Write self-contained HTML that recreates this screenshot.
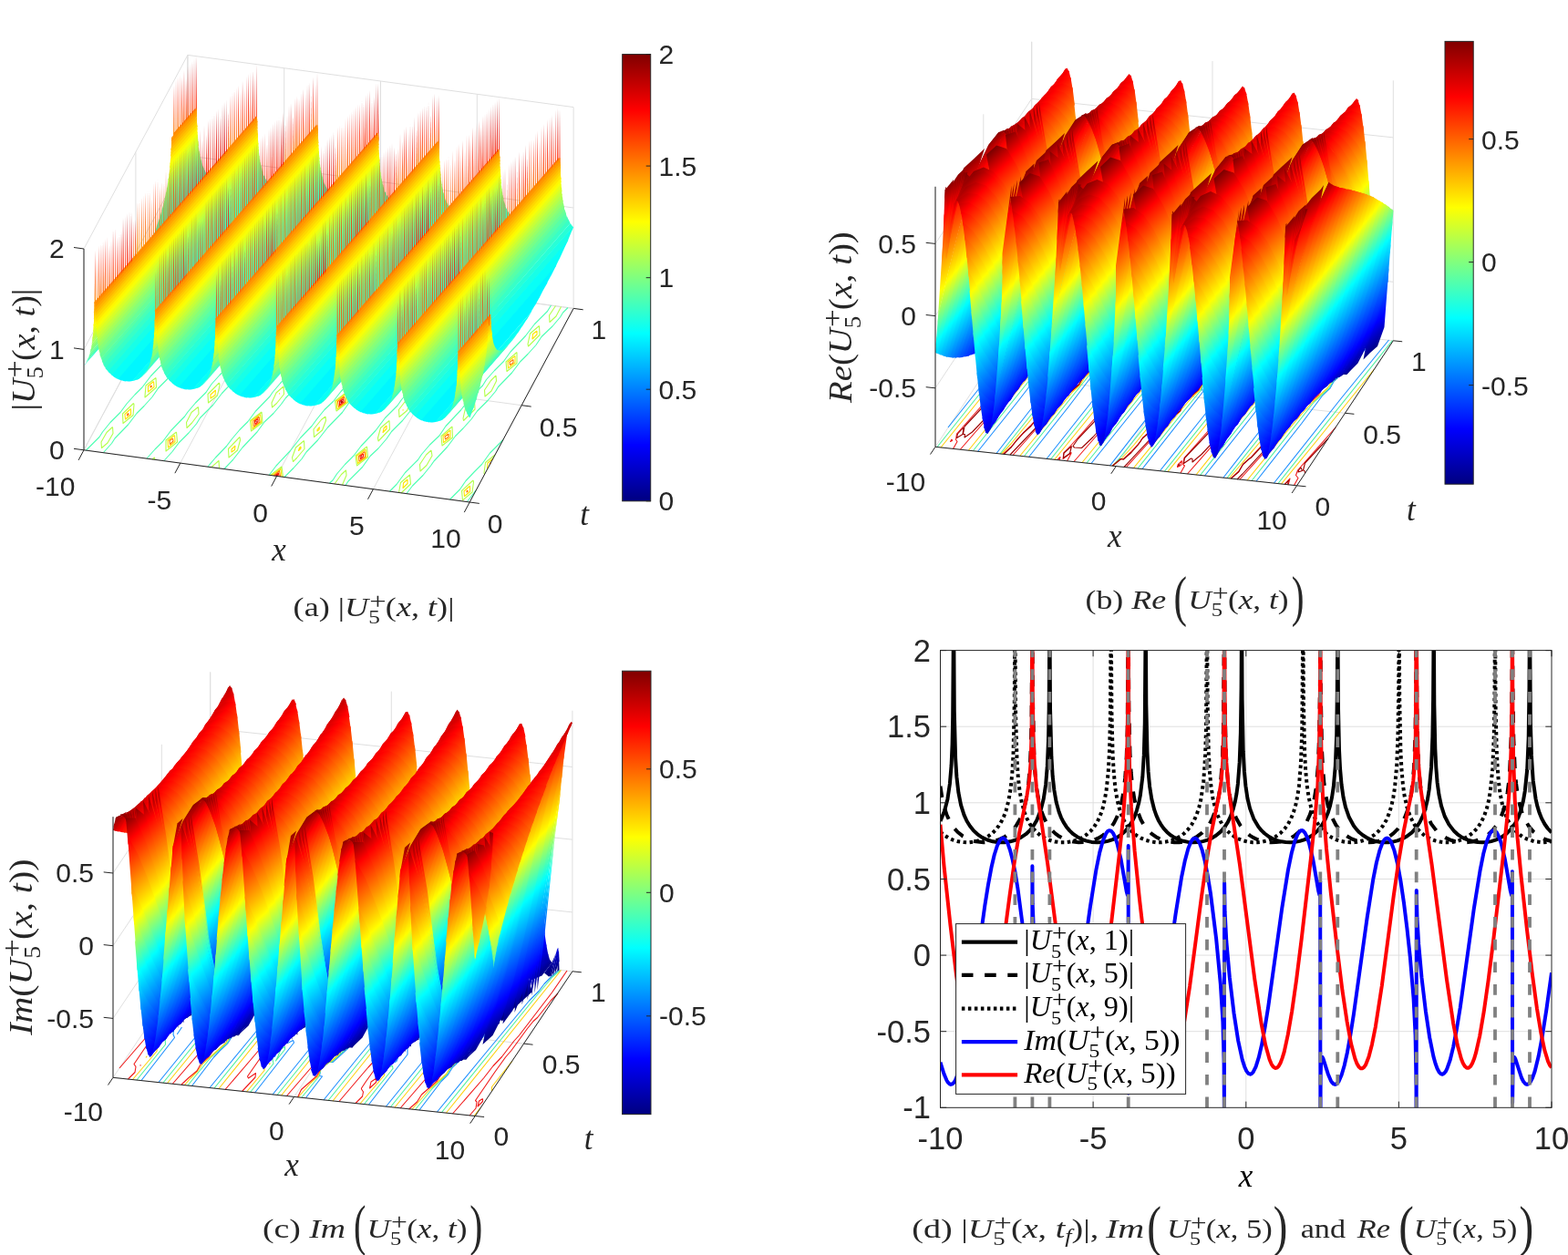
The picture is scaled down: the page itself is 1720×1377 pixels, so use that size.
<!DOCTYPE html><html><head><meta charset="utf-8"><style>html,body{margin:0;padding:0;background:#fff;overflow:hidden}svg{display:block}</style></head><body><svg width="1720" height="1377" viewBox="0 0 1720 1377"><defs><linearGradient id="sp0" x2="0" y2="1"><stop offset="0" stop-color="#ff5800"/><stop offset="0.2" stop-color="#ff6f00"/><stop offset="0.5" stop-color="#ff8500"/><stop offset="0.8" stop-color="#ff9c00"/><stop offset="1" stop-color="#ffb300"/></linearGradient><linearGradient id="sp1" x2="0" y2="1"><stop offset="0" stop-color="#ff1600"/><stop offset="0.2" stop-color="#ff3d00"/><stop offset="0.5" stop-color="#ff6400"/><stop offset="0.8" stop-color="#ff8b00"/><stop offset="1" stop-color="#ffb300"/></linearGradient><linearGradient id="sp2" x2="0" y2="1"><stop offset="0" stop-color="#d20000"/><stop offset="0.2" stop-color="#ff0b00"/><stop offset="0.5" stop-color="#ff4300"/><stop offset="0.8" stop-color="#ff7b00"/><stop offset="1" stop-color="#ffb300"/></linearGradient><linearGradient id="sp3" x2="0" y2="1"><stop offset="0" stop-color="#900000"/><stop offset="0.2" stop-color="#d80000"/><stop offset="0.5" stop-color="#ff2200"/><stop offset="0.8" stop-color="#ff6a00"/><stop offset="1" stop-color="#ffb300"/></linearGradient><linearGradient id="zre" gradientUnits="userSpaceOnUse" x2="284.1" y2="307.5"><stop offset="0" stop-color="#800000"/><stop offset="0.1" stop-color="#ff0000"/><stop offset="0.4" stop-color="#ffff00"/><stop offset="0.6" stop-color="#00ffff"/><stop offset="0.9" stop-color="#0000ff"/><stop offset="1" stop-color="#000080"/></linearGradient><linearGradient id="zim" gradientUnits="userSpaceOnUse" x2="285" y2="311.1"><stop offset="0" stop-color="#800000"/><stop offset="0.1" stop-color="#ff0000"/><stop offset="0.4" stop-color="#ffff00"/><stop offset="0.6" stop-color="#00ffff"/><stop offset="0.9" stop-color="#0000ff"/><stop offset="1" stop-color="#000080"/></linearGradient></defs><rect width="100%" height="100%" fill="#fff"/>
<g><path d="M92 493.8L205.9 281.2" stroke="#dfdfdf" stroke-width="1.0"/><path d="M197.8 508.1L311.7 295.5" stroke="#dfdfdf" stroke-width="1.0"/><path d="M303.6 522.4L417.5 309.8" stroke="#dfdfdf" stroke-width="1.0"/><path d="M409.4 536.7L523.3 324.1" stroke="#dfdfdf" stroke-width="1.0"/><path d="M515.2 551L629.1 338.4" stroke="#dfdfdf" stroke-width="1.0"/><path d="M92 493.8L515.2 551" stroke="#dfdfdf" stroke-width="1.0"/><path d="M148.9 387.5L572.2 444.7" stroke="#dfdfdf" stroke-width="1.0"/><path d="M205.9 281.2L629.1 338.4" stroke="#dfdfdf" stroke-width="1.0"/><path d="M205.9 281.2L205.9 60.4" stroke="#dfdfdf" stroke-width="1.0"/><path d="M311.7 295.5L311.7 74.7" stroke="#dfdfdf" stroke-width="1.0"/><path d="M417.5 309.8L417.5 89" stroke="#dfdfdf" stroke-width="1.0"/><path d="M523.3 324.1L523.3 103.3" stroke="#dfdfdf" stroke-width="1.0"/><path d="M629.1 338.4L629.1 117.6" stroke="#dfdfdf" stroke-width="1.0"/><path d="M205.9 281.2L629.1 338.4" stroke="#dfdfdf" stroke-width="1.0"/><path d="M205.9 170.8L629.1 228" stroke="#dfdfdf" stroke-width="1.0"/><path d="M205.9 60.4L629.1 117.6" stroke="#dfdfdf" stroke-width="1.0"/><path d="M92 493.8L92 273" stroke="#dfdfdf" stroke-width="1.0"/><path d="M148.9 387.5L148.9 166.7" stroke="#dfdfdf" stroke-width="1.0"/><path d="M205.9 281.2L205.9 60.4" stroke="#dfdfdf" stroke-width="1.0"/><path d="M92 493.8L205.9 281.2" stroke="#dfdfdf" stroke-width="1.0"/><path d="M92 383.4L205.9 170.8" stroke="#dfdfdf" stroke-width="1.0"/><path d="M92 273L205.9 60.4" stroke="#dfdfdf" stroke-width="1.0"/></g>
<g transform="scale(0.5)"><g fill="none" stroke-width="2.2" stroke-linejoin="round"><path d="M547 581l-21 20-17 20-8 11-28 30-19 25-16 16-18 20-14 19-22 22-17 20-8 12-28 29-19 25-16 16-18 20-14 19-22 22-17 21-7 11-29 29M227 993l18-20 7-11 29-30 19-25 16-16 18-20 13-19 22-22 18-20 7-11 29-30 19-25 16-16 18-20 13-19 22-22 17-20 8-12 29-29 16-21M678 598l-19 21-18 24-17 17-18 20-12 18-24 23-17 20-6 10-30 31-18 24-17 17-18 20-12 18-23 23-17 20-7 10-30 31-18 24-17 17-18 20M360 1011l18-20 15-20 21-21 17-20 8-13 28-28 20-26 33-35 15-21 20-20 18-20 8-13 28-28 20-26 33-35 15-21 20-20 18-21M810 616l-18 21-11 16-24 24-17 21-6 9-31 32-17 23-18 17-18 21-11 16-24 25-17 20-6 9-31 32-17 23-18 18-17 20-12 16-24 25-17 20M492 1029l19-20 21-27 32-34 16-22 20-19 17-20 10-14 26-27 21-27 32-34 16-22 20-19 17-21 10-13 26-27 21-28 32-34M943 634l-22 28-31 33-17 23-19 18-17 21-11 15-25 25-22 29-31 33-17 22-19 18-17 21-11 15-25 26-22 28-31 33-16 21M624 1047l20-20 18-20 10-15 25-26 22-28 32-33 16-23 19-18 17-21 11-15 25-25 22-29 31-33 17-22 19-18 17-21 11-15 25-26M1076 652l-16 22-20 19-17 20-10 14-26 27-21 27-32 34-16 22-19 19-18 21-9 13-27 27-21 28-32 34-16 21-19 19-18 21-9 14-7 6M758 1065l6-9 31-31 17-24 18-17 18-21 11-16 24-24 17-21 6-9 31-32 17-23 18-18 18-20 11-16 24-25 17-20 6-9 31-32 17-23 18-18M1209 670l-8 13-28 28-20 26-33 35-15 21-20 20-18 20-8 13-28 28-20 26-33 35-14 21-21 20-18 21-8 12-28 28-19 26-15 15M892 1083l13-17 23-23 17-21 7-10 29-31 18-24 17-17 18-20 13-18 23-23 17-20 6-10 30-31 18-24 17-17 18-20 12-18 24-23 17-20 6-10 11-11M1104 965l-29 29-18 25-16 16-19 20-13 19-22 22M1025 1101l19-25M349 680l29-31 18-24 17-17 18-20 16-21M412 562l-3 6" stroke="#4dffb2"/><path d="M247 937l-13 12-12 21 1 13 13-11 12-21-1-14M340 1009l-1-5-5 4M387 948l-23 18 0 24 25-20-2-22M481 1028l-1-17-16 14M621 1047l-3-23-25 19M751 1064l9-21-1-11-10 9-15 21M880 1082l21-20-2-20-20 17-4 22M1038 1054l-25 23 2 21 21-18 3-22-1-4M526 959l-25 26 1 19 19-16 6-22-1-7M667 967l-18 15-8 22 2 9 8-8 17-20-1-18M805 980l-25 20 3 22 24-19-2-23M946 988l-11 10-14 21 1 15 14-13 12-21-2-12M1086 998l-21 17-3 23 1 3M293 885l-24 23 1 21 22-18 2-23-1-3M435 893l-15 12-11 22 1 12 11-11 15-20-1-15M574 904l-25 19 2 23 25-19-2-23M714 914l-9 7-17 21 1 17 18-15 8-21-1-9M854 923l-19 16-6 22 1 7 25-26-1-19M342 829l-22 17-2 23 0 3 25-22-1-21M992 936l-24 21 2 21 23-18-1-24M481 840l-25 25 1 19 20-16 5-23-1-5M622 848l-16 14-10 22 1 10 10-9 16-20-1-17M760 861l-25 19 3 22 25-19-3-22M901 869l-10 9-16 21 1 16 17-14 9-22-1-10M1041 879l-20 17-5 22 1 5 25-25-1-19M389 774l-13 12-13 21 1 13 14-11 12-22-1-13M529 785l-23 18 0 24 25-21-2-21M668 795l-25 27 1 18 19-16 6-22-1-7M809 804l-18 15-8 22 2 8 8-7 17-21-1-17M947 817l-25 20 3 22 24-19-2-23M1088 824l-11 11-14 21 1 14 14-12 11-22-1-12M435 722l-25 23 2 20 22-17 2-23-1-3M576 730l-14 12-11 22 1 12 11-11 14-21-1-14M715 741l-24 19 2 23 25-20-3-22M856 751l-9 7-17 21 1 17 18-15 8-22-1-8M996 760l-19 16-6 22 1 7 25-27-1-18M484 666l-22 17-2 23 0 3 25-23-1-20M1134 773l-24 21 2 21 22-18 0-24M623 677l-25 25 1 19 20-17 5-22-1-5M764 685l-16 14-10 21 1 11 10-9 16-21-1-16M902 698l-25 19 3 22 25-19-3-22M1043 706l-10 9-16 20 1 17 16-14 10-22-1-10M1183 715l-20 17-5 23 1 5 25-25-1-20M367 646l23-18 0-24M531 611l-13 11-13 21 1 14 13-12 13-21-1-13M671 622l-23 18 0 24 24-21-1-21M810 632l-25 26 1 19 19-16 6-22-1-7M951 641l-18 15-8 21 1 9 9-7 17-21-1-17M418 563l-4 22 1 6 25-25M1089 654l-25 19 3 23 24-19-2-23M1219 671l-14 21 1 15 14-13 11-21M552 581l2 21 22-17M693 600l1 12 11-10" stroke="#b3ff4c"/><path d="M472 1027l0-1M618 1046l-2-17-20 14M743 1063l0-1-1 1M894 1052l-9 8-1 11 10-10 0-9M1031 1066l-13 12 1 11 12-10 0-13M383 955l-15 12 1 15 15-13-1-14M516 978l-8 8 0 6 7-5 1-9M660 980l-3 3-2 6 5-5 0-4M802 986l-19 14 2 17 19-14-2-17M287 897l-13 12 1 11 12-10 0-13M1082 1006l-12 10-1 13M571 909l-19 14 2 18 19-15-2-17M701 937l-5 6 0 3 4-3 1-6M848 934l-6 6-2 9 8-8 0-7M988 944l-16 13 1 14 15-11 0-16M337 837l-12 10 0 13 13-11-1-12M473 856l-11 10 0 8 10-7 1-11M614 863l-1 1 1-1M758 865l-20 15 2 18 20-15-2-18M885 899l-1 1 1-1M1036 889l-9 7-1 12 10-10 0-9M525 792l-15 12 0 15 16-13-1-14M658 815l-8 8 0 6 7-6 1-8M802 817l-3 3-2 6 5-6 0-3M944 822l-19 15 2 17 19-14-2-18M429 734l-13 11 1 12 12-10 0-13M713 746l-19 14 2 18 19-15-2-17M843 774l-5 6 0 3 4-3 1-6M990 771l-6 5-2 9 8-8 0-6M1130 781l-16 13 1 14 15-12 0-15M479 674l-12 10 0 13 13-11-1-12M614 692l-10 10 0 9 9-7 1-12M756 700l-1 1 1-1M900 702l-20 15 2 18 20-15-2-18M1027 736l-1 1 1-1M371 639l15-12-1-15M1178 726l-9 7-1 11 10-10 0-8M667 629l-15 11 0 16 16-13-1-14M800 651l-8 8 0 7 6-6 2-9M944 654l-4 3-1 6 5-6 0-3M1086 659l-19 15 2 17 19-14-2-18M424 564l-1 11 11-10M558 582l0 12 13-10" stroke="#ffe500"/><path d="M615 1046l-2-13-13 11M1026 1076l-2 2 0 2 2-1 0-3M379 962l-7 5 1 8 7-7-1-6M800 991l-13 10 1 11 13-9-1-12M282 907l-3 2 0 3 3-2 0-3M1077 1015l-2 2 0 2M568 914l-12 10 1 12 13-10-2-12M984 952l-8 6 1 6 7-5 0-7M332 846l-2 2 0 2 3-2-1-2M755 870l-14 11 2 12 14-10-2-13M521 799l-7 5 0 7 8-6-1-6M941 828l-12 9 1 12 13-10-2-11M424 744l-3 2 0 2 3-2 0-2M710 751l-12 10 1 11 12-9-1-12M1126 789l-8 6 1 6 7-5 0-7M474 683l-2 2 0 2 3-2-1-2M897 707l-14 10 2 13 14-11-2-12M374 632l8-5-1-8M663 635l-7 6 0 7 8-6-1-7M1083 664l-12 10 1 12 12-10-1-12M563 583l0 2 2-2" stroke="#ff8000"/><path d="M612 1045l-1-7-8 6M797 996l-7 5 1 6 6-5 0-6M566 919l-7 5 1 7 6-6 0-6M753 875l-8 6 0 8 9-7-1-7M939 833l-7 5 1 6 6-5 0-6M707 756l-6 5 0 6 7-5-1-6M895 711l-9 7 1 7 9-6-1-8M1081 669l-7 6 1 6 6-5 0-7" stroke="#ff1a00"/><path d="M609 1045l-1-3-2 3M794 1001l-1 1 1-1M563 924l-1 1 1-1M750 879l-2 2 0 3 3-2-1-3M936 838l-1 1 1-1M705 761l-1 1 1-1M892 716l-3 2 1 3 3-2-1-3M1078 675l-1 1 1-1" stroke="#b30000"/></g><g><path fill="#48ffb7" d="M415 361l-3 7-6 4z"/>
<path fill="#58ffa7" d="M418 354l-4 9-7 8-6 2z"/>
<path fill="#68ff97" d="M420 348l-3 8-14 17-5 0z"/>
<path fill="#78ff87" d="M421 341l-2 8-20 24-4-2z"/>
<path fill="#87ff78" d="M422 334l-1 9-25 28-3-3z"/>
<path fill="#97ff68" d="M423 328l-1 8-29 33-2-4z"/>
<path fill="#a7ff58" d="M424 321l-1 8-32 37-2-5z"/>
<path fill="#b7ff48" d="M425 314l-1 9-34 39-2-5z"/>
<path fill="#c7ff38" d="M426 307l-1 9-37 42-1-6z"/>
<path fill="#d7ff28" d="M426 300l0 9-39 44-1-6z"/>
<path fill="#e7ff18" d="M427 294l-1 8-40 46-1-6z"/>
<path fill="#f7ff08" d="M427 287l0 8-42 48-1-7z"/>
<path fill="#fff700" d="M428 280l-1 8-43 50 0-8z"/>
<path fill="#ffe700" d="M428 273l-1 9-43 50-1-7z"/>
<path fill="#ffd700" d="M428 266l0 9-45 51 0-8z"/>
<path fill="#ffc700" d="M428 259l0 9-45 52-1-8z"/>
<path fill="#ffb700" d="M428 252l0 9-46 53 0-8z"/>
<path fill="#ffa700" d="M429 246l-1 8-46 54 0-8z"/>
<path fill="#ff9700" d="M429 239l0 8-47 54-1-8z"/>
<path fill="#ff8700" d="M429 237l0 3-48 55 0-3z"/>
<path fill="url(#sp3)" d="M429 258l1-135 2 130-1 3zM425 263l1-135 1 130 0 3zM420 268l2-134 1 130 0 2zM416 273l1-134 1 130 0 2zM411 279l1-135 2 130 0 2zM407 284l1-112 2 107-1 2zM402 289l2-135 1 130 0 3zM398 294l1-125 2 120 0 3zM394 299l1-135 1 130 0 3zM389 304l1-135 2 130-1 3zM385 309l1-135 1 130 0 3zM380 314l2-126 1 122 0 2z"/>
<path fill="#ff8700" d="M432 241l-1-3-55 64 0 3z"/>
<path fill="#ff9700" d="M432 249l0-8-56 63 0 9z"/>
<path fill="#ffa700" d="M432 256l0-8-56 64 0 9z"/>
<path fill="#ffb700" d="M432 263l0-8-56 64-1 10z"/>
<path fill="#ffc700" d="M432 270l0-8-57 65 0 9z"/>
<path fill="#ffd700" d="M433 277l-1-9-57 66-1 10z"/>
<path fill="#ffe700" d="M433 284l0-9-58 67-1 10z"/>
<path fill="#fff700" d="M433 291l0-9-59 68-1 10z"/>
<path fill="#f7ff08" d="M434 298l-1-9-60 69-1 11z"/>
<path fill="#e7ff18" d="M434 305l0-9-61 70-1 11z"/>
<path fill="#d7ff28" d="M435 312l-1-9-62 72-2 11z"/>
<path fill="#c7ff38" d="M436 319l-1-9-64 74-2 11z"/>
<path fill="#b7ff48" d="M436 326l-1-9-66 76-1 12z"/>
<path fill="#a7ff58" d="M437 333l-1-9-68 79-2 12z"/>
<path fill="#97ff68" d="M439 340l-2-9-71 82-2 13z"/>
<path fill="#87ff78" d="M440 347l-2-9-74 85-3 15z"/>
<path fill="#78ff87" d="M442 354l-2-9-78 90-4 15z"/>
<path fill="#68ff97" d="M444 361l-3-9-82 95-5 17z"/>
<path fill="#58ffa7" d="M447 369l-4-9-88 101-5 19z"/>
<path fill="#48ffb7" d="M450 376l-4-9-95 109-8 22z"/>
<path fill="#38ffc7" d="M452 380l-3-6-104 120-5 14zM454 383l-3-5-110 127-4 12z"/>
<path fill="#28ffd7" d="M457 387l-4-5-116 133-7 18zM459 390l-3-4-124 144-6 13z"/>
<path fill="#18ffe7" d="M462 393l-3-4-132 151-6 15zM468 398l-7-6-138 160-12 26zM467 397l-153 176-1 2z"/>
<path fill="#08fff7" d="M473 402l-6-5-154 177-11 24zM478 405l-6-4-168 192-11 24zM482 407l-5-3-182 209-10 21z"/>
<path fill="#00f7ff" d="M482 406l-1 0-194 224-1 2zM488 409l-6-3-196 225-11 23zM493 410l-6-2-210 242-11 22zM498 411l-6-1-224 257-11 20zM502 411l-5-1-237 273-11 19zM508 411l-7 0-250 288-11 20zM513 410l-7 1-264 304-11 20zM512 410l-1 0-278 321-1 2z"/>
<path fill="#08fff7" d="M518 409l-6 1-280 322-10 17zM523 407l-6 2-293 337-12 18zM528 405l-6 3-307 353-11 16z"/>
<path fill="#18ffe7" d="M527 405l-1 0-320 369-1 1zM533 401l-6 4-321 370-12 16zM535 399l-3 3-335 385-6 8z"/>
<path fill="#28ffd7" d="M537 397l-3 3-342 394-6 6zM184 803l2-2 355-409-4 5-350 402z"/>
<path fill="#38ffc7" d="M185 801l3-3 354-408-2 3zM187 799l3-5 355-408-3 5z"/>
<path fill="#48ffb7" d="M189 795l4-8 355-408-4 8z"/>
<path fill="#58ffa7" d="M193 789l3-9 355-408-4 9z"/>
<path fill="#68ff97" d="M195 782l3-8 354-408-2 8z"/>
<path fill="#78ff87" d="M197 775l2-8 355-408-2 8z"/>
<path fill="#87ff78" d="M199 769l2-9 354-408-1 9z"/>
<path fill="#97ff68" d="M200 762l2-8 354-408-1 8z"/>
<path fill="#a7ff58" d="M201 755l2-8 354-408-1 8z"/>
<path fill="#b7ff48" d="M202 749l1-9 355-408-1 9z"/>
<path fill="#c7ff38" d="M203 742l1-9 355-408-1 9z"/>
<path fill="#d7ff28" d="M204 735l1-9 354-408 0 9z"/>
<path fill="#e7ff18" d="M204 728l1-8 355-408-1 8z"/>
<path fill="#f7ff08" d="M205 721l0-8 355-408 0 8z"/>
<path fill="#fff700" d="M205 714l1-8 354-408 0 8z"/>
<path fill="#ffe700" d="M206 708l0-9 355-408-1 9z"/>
<path fill="#ffd700" d="M206 701l0-9 355-408 0 9z"/>
<path fill="#ffc700" d="M206 694l0-9 355-408 0 9z"/>
<path fill="#ffb700" d="M206 687l1-9 354-408 0 9z"/>
<path fill="#ffa700" d="M207 680l0-8 355-408-1 8z"/>
<path fill="#ff9700" d="M207 673l0-8 355-408 0 8z"/>
<path fill="#ff8700" d="M207 666l0-3 355-408 0 3z"/>
<path fill="url(#sp3)" d="M562 276l1-135 1 130 0 3zM558 281l1-115 1 110 0 3zM553 286l2-131 1 127 0 2zM549 291l1-134 1 130 0 2zM544 297l1-135 2 130 0 2zM540 302l1-135 1 130 0 2zM536 307l1-114 1 109 0 3zM531 312l1-135 2 130-1 3zM527 317l1-116 1 111 0 3zM522 322l1-135 2 130-1 3zM518 327l1-135 1 130 0 3zM513 332l1-135 2 130-1 3zM509 337l1-135 1 131 0 2zM504 342l2-133 1 129 0 2z"/>
<path fill="url(#sp2)" d="M500 348l1-104 2 99 0 2z"/>
<path fill="url(#sp3)" d="M496 353l1-135 1 130 0 2zM491 358l1-135 2 130-1 3zM487 363l1-135 1 130 0 3zM482 368l2-115 1 110 0 3zM478 373l1-135 1 130 0 3zM473 378l2-135 1 130 0 3zM469 383l1-135 1 130 0 3zM465 388l1-135 1 131 0 2zM460 393l1-134 1 130 0 2zM455 399l2-135 1 130 0 2zM451 404l2-110 1 105 0 2zM447 409l1-135 1 130 0 3zM442 414l2-107 1 102 0 3zM438 419l1-135 1 130 0 3zM434 424l1-128 1 123 0 3zM429 429l1-106 2 101 0 3zM425 434l1-135 1 130 0 3zM420 439l2-127 1 123 0 2zM416 444l1-120 1 116 0 2zM411 450l2-119 1 114 0 2zM407 455l1-135 1 130 0 2zM402 460l2-133 1 128 0 3zM398 465l1-135 1 130 0 3zM393 470l2-135 1 130 0 3zM389 475l1-135 1 130 0 3zM384 480l2-135 1 130 0 3zM380 485l1-135 2 130 0 3zM376 490l1-135 1 131 0 2zM371 495l2-134 1 130 0 2zM367 501l1-112 2 107-1 2zM363 506l1-135 1 130 0 2zM358 511l2-110 1 105 0 3zM354 516l1-119 1 114 0 3zM349 521l2-113 1 108 0 3zM345 526l1-135 1 130 0 3zM340 531l1-135 2 130-1 3zM336 536l1-135 1 130 0 3zM332 541l1-107 1 103 0 2zM327 546l1-126 2 122-1 2zM323 552l1-135 1 130 0 2zM318 557l1-135 2 130 0 2zM314 562l1-135 1 130 0 3zM309 567l2-135 1 130 0 3zM305 572l1-135 1 130 0 3zM300 577l2-135 1 130 0 3z"/>
<path fill="url(#sp2)" d="M296 582l1-101 2 96 0 3zM292 587l1-104 1 100 0 2z"/>
<path fill="url(#sp3)" d="M287 592l1-126 2 122 0 2zM283 597l1-134 1 130 0 2zM278 603l1-135 2 130-1 2zM274 608l1-135 1 130 0 2zM269 613l1-135 2 130 0 3zM265 618l1-111 2 106-1 3zM261 623l1-110 1 105 0 3zM256 628l2-108 1 103 0 3zM252 633l1-133 1 128 0 3zM247 638l1-135 2 130-1 3zM243 643l1-116 1 112 0 2zM238 649l2-112 1 107 0 2zM234 654l1-135 1 130 0 2zM229 659l2-135 1 130 0 2zM225 664l1-135 2 130-1 3zM220 669l2-135 1 130 0 3zM216 674l1-135 2 130 0 3zM212 679l1-116 1 111 0 3zM207 684l2-135 1 130 0 3z"/>
<path fill="#ff8700" d="M210 664l0 3 354-408 0-3z"/>
<path fill="#ff9700" d="M210 667l0 8 355-408-1-8z"/>
<path fill="#ffa700" d="M210 674l0 8 355-408 0-8z"/>
<path fill="#ffb700" d="M210 681l0 8 355-408 0-8z"/>
<path fill="#ffc700" d="M210 688l1 8 354-408 0-8z"/>
<path fill="#ffd700" d="M210 694l1 9 355-408-1-9z"/>
<path fill="#ffe700" d="M211 701l0 9 355-408 0-9z"/>
<path fill="#fff700" d="M211 708l1 9 354-408 0-9z"/>
<path fill="#f7ff08" d="M211 715l1 9 355-408-1-9z"/>
<path fill="#e7ff18" d="M212 722l0 9 355-408 0-9z"/>
<path fill="#d7ff28" d="M212 729l1 9 355-408-1-9z"/>
<path fill="#c7ff38" d="M213 736l1 9 354-408 0-9z"/>
<path fill="#b7ff48" d="M214 743l1 9 354-408-1-9z"/>
<path fill="#a7ff58" d="M214 750l2 9 354-408-1-9z"/>
<path fill="#97ff68" d="M215 757l2 9 354-408-1-9z"/>
<path fill="#87ff78" d="M216 764l2 9 355-408-2-9z"/>
<path fill="#78ff87" d="M218 771l2 9 355-408-2-9z"/>
<path fill="#68ff97" d="M219 778l3 9 355-408-3-9z"/>
<path fill="#58ffa7" d="M222 786l3 9 354-408-3-9z"/>
<path fill="#48ffb7" d="M224 793l4 9 355-408-4-9z"/>
<path fill="#38ffc7" d="M227 800l3 6 355-409-3-5zM230 804l2 5 355-409-3-4z"/>
<path fill="#28ffd7" d="M231 808l4 5 355-408-4-5zM235 812l3 4 354-408-3-4z"/>
<path fill="#18ffe7" d="M237 815l3 4 355-408-3-4zM240 818l6 6 355-408-7-6zM245 823l355-408-1 0z"/>
<path fill="#08fff7" d="M245 823l6 5 355-408-6-5zM250 827l6 4 355-408-6-4zM255 830l6 3 354-408-5-3z"/>
<path fill="#00f7ff" d="M259 832l1 0 355-408-1 0zM260 832l6 3 355-408-6-3zM265 834l6 2 355-408-6-2zM270 836l6 1 355-408-6-1zM275 836l6 1 354-408-5-1zM280 837l6 0 355-408-7 0zM285 837l6-1 355-408-7 1zM290 836l355-408-1 0z"/>
<path fill="#08fff7" d="M290 836l6-1 355-408-6 1zM295 835l6-2 355-408-6 2zM300 834l6-3 355-408-6 3z"/>
<path fill="#18ffe7" d="M305 831l355-408-1 0zM305 831l6-4 355-408-6 4zM310 828l3-3 355-408-3 3z"/>
<path fill="#28ffd7" d="M313 826l3-3 354-408-3 3zM315 823l4-4 355-409-4 5z"/>
<path fill="#38ffc7" d="M318 819l3-3 354-408-2 3zM320 817l3-5 355-408-3 5z"/>
<path fill="#48ffb7" d="M322 813l4-8 355-408-4 8z"/>
<path fill="#58ffa7" d="M326 807l3-9 355-408-4 9z"/>
<path fill="#68ff97" d="M328 800l3-8 354-408-2 8z"/>
<path fill="#78ff87" d="M330 793l2-8 355-408-2 8z"/>
<path fill="#87ff78" d="M332 787l2-9 354-408-1 9z"/>
<path fill="#97ff68" d="M333 780l2-8 354-408-1 8z"/>
<path fill="#a7ff58" d="M334 773l2-8 354-408-1 8z"/>
<path fill="#b7ff48" d="M335 767l1-9 355-408-1 9z"/>
<path fill="#c7ff38" d="M336 760l1-9 355-408-1 9z"/>
<path fill="#d7ff28" d="M337 753l0-9 355-408 0 9z"/>
<path fill="#e7ff18" d="M337 746l1-8 355-408-1 8z"/>
<path fill="#f7ff08" d="M338 739l0-8 355-408 0 8z"/>
<path fill="#fff700" d="M338 732l1-8 354-408 0 8z"/>
<path fill="#ffe700" d="M339 726l0-9 355-408-1 9z"/>
<path fill="#ffd700" d="M339 719l0-9 355-408 0 9z"/>
<path fill="#ffc700" d="M339 712l0-9 355-408 0 9z"/>
<path fill="#ffb700" d="M339 705l1-9 354-408 0 9z"/>
<path fill="#ffa700" d="M340 698l0-8 355-409-1 9z"/>
<path fill="#ff9700" d="M340 691l0-8 355-408 0 8z"/>
<path fill="#ff8700" d="M340 684l0-3 355-408 0 3z"/>
<path fill="url(#sp3)" d="M695 294l1-135 1 130 0 3zM691 299l1-115 1 110 0 3zM686 304l1-135 2 131-1 2z"/>
<path fill="url(#sp2)" d="M682 309l1-104 1 100 0 2z"/>
<path fill="url(#sp3)" d="M677 315l1-135 2 130 0 2zM673 320l1-135 1 130 0 2zM669 325l1-120 1 115 0 2zM664 330l1-135 2 130-1 3zM660 335l1-133 1 128 0 3zM655 340l1-124 2 119 0 3zM650 345l2-135 1 130 0 3zM646 350l2-135 1 130 0 3z"/>
<path fill="url(#sp2)" d="M642 355l1-103 2 99-1 2z"/>
<path fill="url(#sp3)" d="M637 360l1-134 2 130 0 2zM633 366l1-135 1 130 0 2zM629 371l1-118 1 113 0 2z"/>
<path fill="url(#sp2)" d="M624 376l2-105 1 100 0 3z"/>
<path fill="url(#sp3)" d="M619 381l2-135 1 130 0 3zM615 386l2-123 1 118 0 3zM611 391l1-135 1 130 0 3zM606 396l2-135 1 130 0 3zM602 401l1-135 1 130 0 3zM597 406l2-135 1 131 0 2zM593 411l1-133 2 129-1 2zM589 417l1-135 1 130 0 2zM584 422l2-107 1 102 0 2zM580 427l1-135 1 130 0 2zM575 432l1-135 2 130-1 3zM571 437l1-135 1 130 0 3zM567 442l1-116 1 111 0 3zM562 447l1-135 1 130 0 3zM557 452l2-135 1 130 0 3zM553 457l1-135 2 131-1 2zM549 462l1-134 1 130 0 2zM544 468l2-135 1 130 0 2zM540 473l1-135 1 130 0 2zM535 478l2-135 1 130 0 2zM531 483l1-129 2 124-1 3zM527 488l1-115 1 110 0 3zM522 493l1-135 1 130 0 3zM518 498l1-123 1 118 0 3zM513 503l1-135 2 130 0 3zM509 508l1-135 1 131 0 2z"/>
<path fill="url(#sp2)" d="M505 513l1-104 1 100 0 2z"/>
<path fill="url(#sp3)" d="M500 519l1-109 2 104-1 2zM496 524l1-135 1 130 0 2zM491 529l1-135 1 130 0 2zM486 534l2-135 1 130 0 3zM482 539l1-135 2 130-1 3zM478 544l1-135 1 130 0 3zM473 549l1-135 2 130 0 3zM469 554l1-135 1 130 0 3zM464 559l1-135 2 131 0 2zM460 564l1-134 1 130 0 2zM455 570l2-135 1 130 0 2zM451 575l1-135 2 130 0 2zM447 580l1-107 1 102 0 3z"/>
<path fill="url(#sp2)" d="M442 585l2-102 1 97 0 3zM438 590l1-104 2 99-1 3z"/>
<path fill="url(#sp3)" d="M434 595l1-110 1 105 0 3zM429 600l1-135 1 130 0 3zM425 605l1-135 1 130 0 3zM420 610l1-135 1 131 0 2zM416 615l1-116 1 112 0 2z"/>
<path fill="url(#sp2)" d="M411 621l2-106 1 101 0 2z"/>
<path fill="url(#sp3)" d="M407 626l1-135 1 130 0 2zM402 631l1-135 2 130-1 2zM398 636l1-135 1 130 0 3zM394 641l1-135 1 130 0 3zM389 646l1-135 2 130-1 3zM384 651l2-135 1 130 0 3zM380 656l1-135 2 130-1 3zM376 661l1-135 1 131 0 2zM371 666l1-134 2 130 0 2zM367 672l1-114 2 109-1 2zM362 677l2-135 1 130 0 2zM358 682l1-135 2 130-1 3zM354 687l1-135 1 130 0 3zM349 692l1-135 2 130-1 3zM345 697l1-118 1 113 0 3zM340 702l2-108 1 103 0 3z"/>
<path fill="#ff8700" d="M343 682l0 3 354-408 0-3z"/>
<path fill="#ff9700" d="M343 685l0 8 355-408-1-8z"/>
<path fill="#ffa700" d="M343 692l0 8 355-408 0-8z"/>
<path fill="#ffb700" d="M343 699l0 8 355-408 0-8z"/>
<path fill="#ffc700" d="M343 706l0 8 355-408 0-9z"/>
<path fill="#ffd700" d="M343 712l1 9 355-408-1-9z"/>
<path fill="#ffe700" d="M344 719l0 9 355-408-1-9z"/>
<path fill="#fff700" d="M344 726l0 9 355-408 0-9z"/>
<path fill="#f7ff08" d="M344 733l1 9 355-408-1-9z"/>
<path fill="#e7ff18" d="M345 740l0 9 355-408 0-9z"/>
<path fill="#d7ff28" d="M345 747l1 9 355-408-1-9z"/>
<path fill="#c7ff38" d="M346 754l1 9 354-408 0-9z"/>
<path fill="#b7ff48" d="M347 761l1 9 354-408-1-9z"/>
<path fill="#a7ff58" d="M347 768l1 9 355-408-1-9z"/>
<path fill="#97ff68" d="M348 775l2 9 354-408-1-9z"/>
<path fill="#87ff78" d="M349 782l2 9 355-408-2-9z"/>
<path fill="#78ff87" d="M351 789l2 9 355-408-2-9z"/>
<path fill="#68ff97" d="M352 796l3 9 355-408-3-9z"/>
<path fill="#58ffa7" d="M354 804l4 9 354-408-3-9z"/>
<path fill="#48ffb7" d="M357 811l4 9 355-408-4-9z"/>
<path fill="#38ffc7" d="M360 818l3 6 355-409-3-5zM362 822l3 4 355-408-3-4z"/>
<path fill="#28ffd7" d="M364 826l4 5 355-408-4-5zM368 830l3 4 354-408-3-4z"/>
<path fill="#18ffe7" d="M370 833l3 4 355-408-3-4zM373 836l6 6 355-408-7-6zM378 841l355-408-1 0z"/>
<path fill="#08fff7" d="M378 841l6 5 355-408-6-5zM383 845l6 4 355-408-6-4zM388 848l6 3 354-408-5-3z"/>
<path fill="#00f7ff" d="M392 850l1 0 355-408-1 0zM393 850l6 3 355-408-6-3zM398 852l6 2 355-408-6-2zM403 854l6 1 355-408-6-1zM408 854l6 1 354-408-5-1zM412 855l7 0 355-408-7 0zM418 855l6-1 355-408-7 1zM423 854l355-408-1 0z"/>
<path fill="#08fff7" d="M423 854l6-1 355-408-6 1zM428 853l6-2 355-408-7 2zM433 852l6-3 355-408-6 3z"/>
<path fill="#18ffe7" d="M438 849l355-408-1 0zM438 849l6-4 355-408-6 4zM443 846l3-3 355-408-3 3z"/>
<path fill="#28ffd7" d="M446 844l3-3 354-408-3 3zM448 841l4-5 355-408-4 5z"/>
<path fill="#38ffc7" d="M451 837l3-3 354-408-2 3zM453 835l3-5 355-408-3 5z"/>
<path fill="#48ffb7" d="M455 831l4-8 355-408-4 8z"/>
<path fill="#58ffa7" d="M459 825l3-9 354-408-3 9z"/>
<path fill="#68ff97" d="M461 818l3-8 354-408-2 8z"/>
<path fill="#78ff87" d="M463 811l2-8 355-408-2 8z"/>
<path fill="#87ff78" d="M465 805l1-9 355-408-1 9z"/>
<path fill="#97ff68" d="M466 798l2-8 354-408-1 8z"/>
<path fill="#a7ff58" d="M467 791l1-8 355-408-1 8z"/>
<path fill="#b7ff48" d="M468 785l1-9 355-408-1 8z"/>
<path fill="#c7ff38" d="M469 778l1-9 355-408-1 9z"/>
<path fill="#d7ff28" d="M470 771l0-9 355-408-1 9z"/>
<path fill="#e7ff18" d="M470 764l1-8 355-408-1 8z"/>
<path fill="#f7ff08" d="M471 757l0-8 355-408 0 8z"/>
<path fill="#fff700" d="M471 750l1-8 354-408 0 8z"/>
<path fill="#ffe700" d="M472 744l0-9 355-408-1 9z"/>
<path fill="#ffd700" d="M472 737l0-9 355-408 0 9z"/>
<path fill="#ffc700" d="M472 730l0-9 355-408 0 9z"/>
<path fill="#ffb700" d="M472 723l1-9 354-408 0 9z"/>
<path fill="#ffa700" d="M473 716l0-8 355-409-1 9z"/>
<path fill="#ff9700" d="M473 709l0-8 355-408-1 8z"/>
<path fill="#ff8700" d="M473 702l0-3 355-408 0 3z"/>
<path fill="url(#sp3)" d="M828 312l1-129 2 124-1 3zM824 317l1-135 1 130 0 3zM819 322l2-111 1 107 0 2zM815 327l1-109 1 105 0 2zM810 332l1-134 2 130 0 2zM806 338l1-135 1 130 0 2zM801 343l2-135 1 130 0 2zM797 348l1-123 2 118-1 3zM793 353l1-135 1 130 0 3zM788 358l1-129 2 124-1 3zM784 363l1-135 1 130 0 3zM779 368l1-135 2 130 0 3zM775 373l1-135 1 131 0 2zM770 378l2-134 1 130 0 2zM766 383l1-134 1 130 0 2zM761 389l2-135 1 130 0 2zM757 394l1-135 1 130 0 2zM753 399l1-123 1 118 0 3zM748 404l2-129 1 124 0 3zM744 409l1-135 1 130 0 3zM739 414l2-135 1 130 0 3z"/>
<path fill="url(#sp2)" d="M735 419l1-101 2 96-1 3z"/>
<path fill="url(#sp3)" d="M730 424l2-135 1 131 0 2zM726 429l1-134 1 130 0 2zM721 434l2-134 1 130 0 2zM717 440l1-135 2 130-1 2zM713 445l1-128 1 123 0 2zM708 450l2-122 1 117 0 3zM704 455l1-135 1 130 0 3zM700 460l1-106 1 101 0 3zM695 465l1-135 1 130 0 3zM691 470l1-135 1 130 0 3zM686 475l1-135 2 131-1 2zM682 480l1-134 1 130 0 2zM677 486l2-128 1 123 0 2zM673 491l1-124 1 119 0 2zM668 496l1-135 2 130-1 2zM664 501l1-135 1 130 0 3zM659 506l2-135 1 130 0 3zM655 511l1-135 1 130 0 3zM651 516l1-135 1 130 0 3zM646 521l1-135 2 130-1 3zM642 526l1-135 1 131 0 2zM637 531l1-134 2 130 0 2zM633 536l1-134 1 130 0 2zM629 542l1-116 1 111 0 2zM624 547l1-135 2 130-1 2zM620 552l1-112 1 107 0 3zM615 557l1-135 2 130-1 3zM611 562l1-135 1 130 0 3z"/>
<path fill="url(#sp2)" d="M606 567l2-105 1 100 0 3z"/>
<path fill="url(#sp3)" d="M602 572l1-135 1 130 0 3zM597 577l1-135 2 131-1 2zM593 582l1-107 2 103-1 2zM588 587l2-134 1 130 0 2zM584 593l1-135 2 130-1 2zM580 598l1-114 1 109 0 2zM575 603l1-135 2 130-1 3zM571 608l1-135 1 130 0 3zM566 613l2-135 1 130 0 3zM562 618l1-135 1 130 0 3zM557 623l2-135 1 130 0 3zM553 628l1-135 1 131 0 2zM548 633l2-134 1 130 0 2zM544 638l1-134 1 130 0 2zM540 644l1-132 1 127 0 2z"/>
<path fill="url(#sp2)" d="M535 649l2-103 1 98 0 3z"/>
<path fill="url(#sp3)" d="M531 654l1-135 1 130 0 3zM526 659l2-135 1 130 0 3zM522 664l1-135 1 130 0 3zM518 669l1-111 1 106 0 3zM513 674l1-135 2 130-1 3z"/>
<path fill="url(#sp2)" d="M509 679l1-101 1 97 0 2z"/>
<path fill="url(#sp3)" d="M504 684l2-134 1 130 0 2zM500 690l1-135 1 130 0 2zM495 695l1-135 2 130-1 2zM491 700l1-135 1 130 0 2zM486 705l2-135 1 130 0 3z"/>
<path fill="url(#sp2)" d="M482 710l2-100 1 95 0 3z"/>
<path fill="url(#sp3)" d="M478 715l1-135 1 130 0 3zM473 720l2-121 1 116 0 3z"/>
<path fill="#ff8700" d="M476 700l0 3 354-408 0-3z"/>
<path fill="#ff9700" d="M476 703l0 8 355-408-1-8z"/>
<path fill="#ffa700" d="M476 710l0 8 355-408 0-8z"/>
<path fill="#ffb700" d="M476 717l0 8 355-408 0-8z"/>
<path fill="#ffc700" d="M476 723l0 9 355-408 0-9z"/>
<path fill="#ffd700" d="M476 730l1 9 354-408 0-9z"/>
<path fill="#ffe700" d="M477 737l0 9 355-408-1-9z"/>
<path fill="#fff700" d="M477 744l0 9 355-408 0-9z"/>
<path fill="#f7ff08" d="M477 751l1 9 355-408-1-9z"/>
<path fill="#e7ff18" d="M478 758l0 9 355-408 0-9z"/>
<path fill="#d7ff28" d="M478 765l1 9 355-408-1-9z"/>
<path fill="#c7ff38" d="M479 772l1 9 354-408 0-9z"/>
<path fill="#b7ff48" d="M479 779l1 9 355-408-1-9z"/>
<path fill="#a7ff58" d="M480 786l1 9 355-408-1-9z"/>
<path fill="#97ff68" d="M481 793l2 9 354-408-1-9z"/>
<path fill="#87ff78" d="M482 800l2 9 355-408-2-9z"/>
<path fill="#78ff87" d="M484 807l2 9 355-408-3-9z"/>
<path fill="#68ff97" d="M485 814l3 9 355-408-3-9z"/>
<path fill="#58ffa7" d="M487 822l4 9 354-408-3-9z"/>
<path fill="#48ffb7" d="M490 829l4 9 355-408-4-9z"/>
<path fill="#38ffc7" d="M493 836l3 5 355-408-3-5zM495 840l3 4 355-408-3-4z"/>
<path fill="#28ffd7" d="M497 844l4 5 355-408-4-5zM500 848l4 4 354-408-3-4z"/>
<path fill="#18ffe7" d="M503 851l3 4 355-408-3-4zM506 854l6 6 355-408-7-6zM511 859l355-408-1 0z"/>
<path fill="#08fff7" d="M511 859l6 5 355-408-6-5zM516 863l6 4 355-408-7-4zM521 866l6 3 354-408-5-3z"/>
<path fill="#00f7ff" d="M525 868l1 0 355-408-1 0zM526 868l6 3 355-408-6-3zM531 870l6 2 355-408-6-2zM536 872l6 1 355-408-6-1zM541 872l6 1 354-408-6-1zM545 873l7 0 355-408-7 0zM550 873l7-1 355-408-7 1zM556 872l355-408-1 0z"/>
<path fill="#08fff7" d="M556 872l6-1 355-408-6 1zM561 871l6-2 355-408-7 2zM566 870l6-3 354-408-6 3z"/>
<path fill="#18ffe7" d="M571 867l355-408-1 0zM571 867l6-4 355-408-6 4zM576 864l3-3 355-408-3 3z"/>
<path fill="#28ffd7" d="M579 862l3-3 354-409-3 3zM581 859l4-5 355-408-4 5z"/>
<path fill="#38ffc7" d="M584 855l3-3 354-408-2 3zM586 853l3-5 355-408-3 5z"/>
<path fill="#48ffb7" d="M588 849l4-8 355-408-4 8z"/>
<path fill="#58ffa7" d="M591 843l4-9 354-408-3 9z"/>
<path fill="#68ff97" d="M594 836l3-8 354-408-2 8z"/>
<path fill="#78ff87" d="M596 829l2-8 355-408-2 8z"/>
<path fill="#87ff78" d="M598 823l1-9 355-408-2 9z"/>
<path fill="#97ff68" d="M599 816l2-8 354-408-1 8z"/>
<path fill="#a7ff58" d="M600 809l1-8 355-408-1 8z"/>
<path fill="#b7ff48" d="M601 802l1-8 355-408-1 8z"/>
<path fill="#c7ff38" d="M602 796l1-9 355-408-1 9z"/>
<path fill="#d7ff28" d="M603 789l0-9 355-408-1 9z"/>
<path fill="#e7ff18" d="M603 782l1-8 355-409-1 9z"/>
<path fill="#f7ff08" d="M604 775l0-8 355-408-1 8z"/>
<path fill="#fff700" d="M604 768l1-8 354-408 0 8z"/>
<path fill="#ffe700" d="M604 762l1-9 355-408-1 8z"/>
<path fill="#ffd700" d="M605 755l0-9 355-408 0 9z"/>
<path fill="#ffc700" d="M605 748l0-9 355-408 0 9z"/>
<path fill="#ffb700" d="M605 741l1-9 354-408 0 9z"/>
<path fill="#ffa700" d="M605 734l1-9 354-408 0 9z"/>
<path fill="#ff9700" d="M606 727l0-8 355-408-1 8z"/>
<path fill="#ff8700" d="M606 720l0-3 355-408 0 3z"/>
<path fill="url(#sp3)" d="M961 330l1-121 2 116-1 3zM957 335l1-122 1 117 0 3zM952 340l1-135 2 130-1 3zM948 345l1-135 1 131 0 2z"/>
<path fill="url(#sp2)" d="M943 350l2-99 1 95 0 2z"/>
<path fill="url(#sp3)" d="M939 356l1-133 1 128 0 2zM934 361l2-128 1 123 0 2zM930 366l1-135 1 130 0 3zM925 371l2-135 1 130 0 3zM921 376l1-135 2 130-1 3zM916 381l2-135 1 130 0 3z"/>
<path fill="url(#sp2)" d="M912 386l2-105 1 100 0 3z"/>
<path fill="url(#sp3)" d="M908 391l1-135 1 130 0 3zM903 396l2-121 1 117 0 2zM899 401l1-130 1 126 0 2zM895 407l1-118 1 113 0 2zM890 412l1-135 2 130-1 2zM885 417l2-135 1 130 0 3zM881 422l2-113 1 108 0 3zM877 427l1-135 1 130 0 3zM872 432l2-107 1 102 0 3z"/>
<path fill="url(#sp2)" d="M868 437l1-104 2 99-1 3z"/>
<path fill="url(#sp3)" d="M863 442l2-119 1 115 0 2zM859 447l1-134 1 130 0 2zM854 452l2-134 1 130 0 2zM850 458l1-135 2 130-1 2zM846 463l1-135 1 130 0 2zM841 468l1-135 2 130-1 3zM837 473l1-135 1 130 0 3zM832 478l1-135 2 130-1 3zM828 483l1-123 2 118-1 3zM824 488l1-127 1 122 0 3zM819 493l1-135 2 130-1 3zM814 498l2-135 1 131 0 2z"/>
<path fill="url(#sp2)" d="M810 504l2-100 1 95 0 2z"/>
<path fill="url(#sp3)" d="M806 509l1-109 1 104 0 2zM801 514l2-135 1 130 0 2zM797 519l1-127 1 122 0 3zM792 524l2-135 1 130 0 3zM788 529l1-135 1 130 0 3zM783 534l2-135 1 130 0 3zM779 539l1-135 2 130-1 3zM775 544l1-134 1 130 0 2zM770 549l1-135 2 131-1 2zM766 554l1-134 1 130 0 2zM761 560l2-118 1 113 0 2zM757 565l1-135 2 130-1 2zM753 570l1-119 1 114 0 3zM748 575l1-135 2 130-1 3zM743 580l2-135 1 130 0 3zM739 585l1-135 2 130 0 3zM735 590l1-135 1 130 0 3zM730 595l1-135 2 130-1 3zM726 600l1-118 2 114-1 2zM721 605l2-134 1 130 0 2z"/>
<path fill="url(#sp2)" d="M717 611l1-103 2 98 0 2z"/>
<path fill="url(#sp3)" d="M712 616l2-135 1 130 0 2zM708 621l1-135 2 130-1 3zM704 626l1-118 1 113 0 3zM699 631l2-106 1 101 0 3zM695 636l1-109 2 104-1 3zM690 641l2-135 1 130 0 3zM686 646l1-135 1 131 0 2zM682 651l1-134 1 130 0 2zM677 657l1-124 2 119 0 2zM673 662l1-135 1 130 0 2zM668 667l2-135 1 130 0 2zM664 672l1-135 1 130 0 3zM659 677l2-135 1 130 0 3zM655 682l1-135 1 130 0 3zM651 687l1-135 1 130 0 3zM646 692l1-135 2 130-1 3zM642 697l1-135 1 131 0 2zM637 702l1-134 2 130-1 2zM633 708l1-125 1 120 0 2zM628 713l2-116 1 111 0 2zM624 718l1-135 1 130 0 2zM619 723l2-135 1 130 0 3zM615 728l1-119 2 114-1 3zM610 733l2-135 1 130 0 3zM606 738l1-135 2 130-1 3z"/>
<path fill="#ff8700" d="M609 718l0 3 354-408 0-3z"/>
<path fill="#ff9700" d="M609 721l0 8 355-408-1-8z"/>
<path fill="#ffa700" d="M609 728l0 8 355-408-1-8z"/>
<path fill="#ffb700" d="M609 735l0 8 355-408 0-9z"/>
<path fill="#ffc700" d="M609 741l0 9 355-408 0-9z"/>
<path fill="#ffd700" d="M609 748l1 9 354-408 0-9z"/>
<path fill="#ffe700" d="M610 755l0 9 355-408-1-9z"/>
<path fill="#fff700" d="M610 762l0 9 355-408 0-9z"/>
<path fill="#f7ff08" d="M610 769l1 9 355-408-1-9z"/>
<path fill="#e7ff18" d="M611 776l0 9 355-408-1-9z"/>
<path fill="#d7ff28" d="M611 783l1 9 355-408-1-9z"/>
<path fill="#c7ff38" d="M612 790l1 9 354-408 0-9z"/>
<path fill="#b7ff48" d="M612 797l1 9 355-408-1-9z"/>
<path fill="#a7ff58" d="M613 804l1 9 355-408-1-9z"/>
<path fill="#97ff68" d="M614 811l2 9 354-408-1-9z"/>
<path fill="#87ff78" d="M615 818l2 9 355-408-2-9z"/>
<path fill="#78ff87" d="M617 825l2 9 355-408-3-9z"/>
<path fill="#68ff97" d="M618 832l3 9 355-408-3-9z"/>
<path fill="#58ffa7" d="M620 840l4 9 354-408-3-9z"/>
<path fill="#48ffb7" d="M623 847l4 9 355-408-4-9z"/>
<path fill="#38ffc7" d="M626 854l3 5 355-408-3-5zM628 858l3 4 355-408-3-4z"/>
<path fill="#28ffd7" d="M630 862l4 5 355-408-4-5zM633 866l3 4 355-408-3-4z"/>
<path fill="#18ffe7" d="M636 869l3 4 355-408-3-4zM639 872l6 6 355-408-7-6zM644 877l355-408-1 0z"/>
<path fill="#08fff7" d="M644 877l6 5 355-408-6-5zM649 881l6 4 355-408-7-4zM654 884l5 3 355-408-5-3z"/>
<path fill="#00f7ff" d="M658 886l1 0 355-408-1 0zM659 886l6 3 355-408-6-3zM664 888l6 2 355-408-6-2zM669 890l6 1 355-408-6-1zM674 890l6 1 354-408-6-1zM678 891l7 0 354-408-6 0zM683 891l7-1 355-408-7 1zM689 890l355-408-1 0z"/>
<path fill="#08fff7" d="M689 890l6-1 355-408-6 1zM694 889l6-2 355-408-7 2zM699 888l6-3 354-408-6 3z"/>
<path fill="#18ffe7" d="M703 885l1 0 355-408-1 0zM704 885l6-4 355-408-6 4zM709 882l3-3 355-408-3 3z"/>
<path fill="#28ffd7" d="M711 879l4-3 354-408-3 3zM714 877l4-5 355-408-4 5z"/>
<path fill="#38ffc7" d="M717 873l2-3 355-408-2 3zM719 871l3-5 355-408-3 5z"/>
<path fill="#48ffb7" d="M721 867l4-8 355-408-4 8z"/>
<path fill="#58ffa7" d="M724 861l4-9 354-408-3 9z"/>
<path fill="#68ff97" d="M727 854l3-8 354-408-2 8z"/>
<path fill="#78ff87" d="M729 847l2-8 355-408-2 8z"/>
<path fill="#87ff78" d="M731 841l1-9 355-408-2 9z"/>
<path fill="#97ff68" d="M732 834l1-8 355-408-1 8z"/>
<path fill="#a7ff58" d="M733 827l1-8 355-408-1 8z"/>
<path fill="#b7ff48" d="M734 820l1-8 355-408-1 8z"/>
<path fill="#c7ff38" d="M735 814l1-9 355-408-1 9z"/>
<path fill="#d7ff28" d="M736 807l0-9 355-408-1 9z"/>
<path fill="#e7ff18" d="M736 800l1-9 355-408-1 9z"/>
<path fill="#f7ff08" d="M737 793l0-8 355-408-1 8z"/>
<path fill="#fff700" d="M737 786l1-8 354-408 0 8z"/>
<path fill="#ffe700" d="M737 780l1-9 355-408-1 8z"/>
<path fill="#ffd700" d="M738 773l0-9 355-408-1 9z"/>
<path fill="#ffc700" d="M738 766l0-9 355-408 0 9z"/>
<path fill="#ffb700" d="M738 759l0-9 355-408 0 9z"/>
<path fill="#ffa700" d="M738 752l1-9 354-408 0 9z"/>
<path fill="#ff9700" d="M739 745l0-8 355-408-1 8z"/>
<path fill="#ff8700" d="M739 738l0-3 355-408 0 3z"/>
<path fill="url(#sp3)" d="M1094 348l1-135 1 130 0 3zM1089 353l2-135 1 130 0 3zM1085 358l1-135 2 130-1 3zM1080 363l2-135 1 131 0 2zM1076 368l1-134 2 130-1 2zM1072 374l1-135 1 130 0 2zM1067 379l1-135 2 130-1 2zM1063 384l1-135 1 130 0 2zM1058 389l2-135 1 130 0 3zM1054 394l1-118 2 113-1 3zM1049 399l2-135 1 130 0 3zM1045 404l1-135 1 130 0 3zM1041 409l1-127 1 122 0 3zM1036 414l1-135 2 131-1 2zM1032 419l1-114 1 110 0 2zM1027 425l2-130 1 125 0 2zM1023 430l1-135 1 130 0 2zM1019 435l1-107 1 102 0 3zM1014 440l1-132 2 127-1 3zM1010 445l1-110 1 105 0 3zM1005 450l1-135 2 130-1 3zM1001 455l1-135 1 130 0 3zM996 460l2-111 1 106 0 3zM992 465l1-135 1 131 0 2zM988 470l1-112 1 108 0 2zM983 476l1-135 1 130 0 2zM978 481l2-135 1 130 0 2zM974 486l1-135 2 130-1 2zM970 491l1-124 1 119 0 3zM965 496l1-135 2 130-1 3z"/>
<path fill="url(#sp2)" d="M961 501l1-100 2 95-1 3z"/>
<path fill="url(#sp3)" d="M956 506l2-135 1 130 0 3zM952 511l1-135 1 130 0 3zM948 516l1-122 1 118 0 2z"/>
<path fill="url(#sp2)" d="M943 521l2-104 1 100 0 2z"/>
<path fill="url(#sp3)" d="M938 527l2-135 1 130 0 2zM934 532l2-123 1 118 0 2zM930 537l1-121 1 116 0 3zM925 542l2-135 1 130 0 3zM921 547l1-108 2 103-1 3zM916 552l2-135 1 130 0 3zM912 557l1-135 2 130-1 3zM908 562l1-115 1 110 0 3zM903 567l1-135 2 131-1 2zM899 572l1-134 1 130 0 2zM894 578l2-135 1 130 0 2zM890 583l1-135 1 130 0 2zM885 588l2-135 1 130 0 2zM881 593l1-135 1 130 0 3zM877 598l1-118 1 113 0 3zM872 603l2-117 1 112 0 3zM868 608l1-135 1 130 0 3zM863 613l1-135 2 130-1 3zM859 618l1-110 2 106-1 2zM855 623l1-122 1 118 0 2zM850 629l1-135 2 130-1 2zM846 634l1-135 1 130 0 2zM841 639l1-135 2 130-1 2zM837 644l1-133 1 128 0 3zM832 649l1-135 2 130-1 3zM828 654l1-125 1 120 0 3z"/>
<path fill="url(#sp2)" d="M824 659l1-104 1 99 0 3z"/>
<path fill="url(#sp3)" d="M819 664l1-135 1 130 0 3zM815 669l1-119 1 115 0 2zM810 674l1-117 2 113 0 2zM806 680l1-135 1 130 0 2zM801 685l1-135 2 130-1 2zM797 690l1-124 1 119 0 3zM792 695l2-135 1 130 0 3z"/>
<path fill="url(#sp2)" d="M788 700l1-106 2 101-1 3z"/>
<path fill="url(#sp3)" d="M783 705l2-135 1 130 0 3zM779 710l1-135 1 130 0 3zM775 715l1-135 1 130 0 3zM770 720l1-135 2 131-1 2zM766 725l1-134 1 130 0 2zM761 731l1-135 2 130-1 2zM757 736l1-135 1 130 0 2zM752 741l2-135 1 130 0 3zM748 746l1-135 2 130-1 3zM743 751l2-135 1 130 0 3zM739 756l1-135 2 130-1 3z"/>
<path fill="#ff8700" d="M741 736l1 3 354-408 0-3z"/>
<path fill="#ff9700" d="M742 739l0 8 354-408 0-8z"/>
<path fill="#ffa700" d="M742 746l0 8 355-408-1-8z"/>
<path fill="#ffb700" d="M742 753l0 8 355-408 0-9z"/>
<path fill="#ffc700" d="M742 759l0 9 355-408 0-9z"/>
<path fill="#ffd700" d="M742 766l1 9 354-408 0-9z"/>
<path fill="#ffe700" d="M743 773l0 9 355-408-1-9z"/>
<path fill="#fff700" d="M743 780l0 9 355-408 0-9z"/>
<path fill="#f7ff08" d="M743 787l1 9 355-408-1-9z"/>
<path fill="#e7ff18" d="M744 794l0 9 355-408-1-9z"/>
<path fill="#d7ff28" d="M744 801l1 9 355-408-1-9z"/>
<path fill="#c7ff38" d="M745 808l1 9 354-408-1-9z"/>
<path fill="#b7ff48" d="M745 815l1 9 355-408-1-9z"/>
<path fill="#a7ff58" d="M746 822l1 9 355-408-1-9z"/>
<path fill="#97ff68" d="M747 829l2 9 354-408-1-9z"/>
<path fill="#87ff78" d="M748 836l2 9 355-408-2-9z"/>
<path fill="#78ff87" d="M750 843l2 9 354-408-2-9z"/>
<path fill="#68ff97" d="M751 850l3 9 355-408-3-9z"/>
<path fill="#58ffa7" d="M753 858l4 9 354-408-3-9z"/>
<path fill="#48ffb7" d="M756 865l4 9 355-408-4-9z"/>
<path fill="#38ffc7" d="M759 872l3 5 355-408-3-5zM761 876l3 4 354-408-2-4z"/>
<path fill="#28ffd7" d="M763 880l4 5 355-408-4-5zM766 884l3 4 355-408-3-4z"/>
<path fill="#18ffe7" d="M769 887l3 4 355-408-3-4zM771 890l7 6 355-408-7-6zM777 895l355-408-1 0z"/>
<path fill="#08fff7" d="M777 895l6 5 355-408-6-5zM782 899l6 4 355-408-7-4zM787 902l5 3 355-408-6-3z"/>
<path fill="#00f7ff" d="M791 904l1 0 355-408-1 0zM792 904l6 3 355-408-6-3zM797 906l6 2 355-408-6-2zM802 908l6 1 355-408-6-2zM807 908l5 1 355-408-6-1zM811 909l7 0 354-408-6 0zM816 909l7-1 355-408-7 1zM821 908l1 0 355-408-1 0z"/>
<path fill="#08fff7" d="M822 908l6-1 354-408-5 1zM827 907l6-2 355-408-7 2zM832 906l6-3 354-408-6 3z"/>
<path fill="#18ffe7" d="M836 903l1 0 355-408-1 0zM837 903l6-4 355-408-7 4zM842 900l3-3 355-408-3 3z"/>
<path fill="#28ffd7" d="M844 897l3-3 355-408-3 3zM847 895l4-5 355-408-4 5z"/>
<path fill="#38ffc7" d="M850 891l2-3 355-408-2 3zM852 889l3-5 354-408-2 5z"/>
<path fill="#48ffb7" d="M854 885l4-8 355-408-4 8z"/>
<path fill="#58ffa7" d="M857 879l4-9 354-408-3 8z"/>
<path fill="#68ff97" d="M860 872l2-8 355-408-2 8z"/>
<path fill="#78ff87" d="M862 865l2-8 355-408-2 8z"/>
<path fill="#87ff78" d="M864 859l1-9 355-408-2 9z"/>
<path fill="#97ff68" d="M865 852l1-8 355-409-1 9z"/>
<path fill="#a7ff58" d="M866 845l1-8 355-408-1 8z"/>
<path fill="#b7ff48" d="M867 838l1-8 355-408-1 8z"/>
<path fill="#c7ff38" d="M868 832l1-9 354-408 0 9z"/>
<path fill="#d7ff28" d="M869 825l0-9 355-408-1 9z"/>
<path fill="#e7ff18" d="M869 818l1-9 354-408 0 9z"/>
<path fill="#f7ff08" d="M870 811l0-8 355-408-1 8z"/>
<path fill="#fff700" d="M870 804l0-8 355-408 0 8z"/>
<path fill="#ffe700" d="M870 797l1-8 355-408-1 8z"/>
<path fill="#ffd700" d="M871 791l0-9 355-408-1 9z"/>
<path fill="#ffc700" d="M871 784l0-9 355-408 0 9z"/>
<path fill="#ffb700" d="M871 777l0-9 355-408 0 9z"/>
<path fill="#ffa700" d="M871 770l1-9 354-408 0 9z"/>
<path fill="#ff9700" d="M872 763l0-8 355-409-1 9z"/>
<path fill="#ff8700" d="M872 756l0-3 355-408-1 3z"/>
<path fill="url(#sp3)" d="M1227 366l1-126 1 121 0 3zM1222 371l2-135 1 130 0 3zM1218 376l1-135 1 130 0 3zM1214 381l1-109 1 105 0 2zM1209 386l1-134 2 130-1 2zM1205 391l1-134 1 130 0 2zM1200 397l1-135 2 130-1 2zM1196 402l1-116 1 111 0 2zM1191 407l2-135 1 130 0 3zM1187 412l1-135 1 130 0 3zM1183 417l1-110 1 105 0 3zM1178 422l1-135 2 130-1 3zM1174 427l1-135 1 130 0 3zM1169 432l2-126 1 122 0 2zM1165 437l1-134 1 130 0 2zM1160 443l2-135 1 130 0 2z"/>
<path fill="url(#sp2)" d="M1156 448l1-103 2 98-1 2z"/>
<path fill="url(#sp3)" d="M1151 453l2-135 1 130 0 2zM1147 458l1-126 2 121-1 3zM1143 463l1-123 1 118 0 3zM1138 468l1-135 2 130-1 3z"/>
<path fill="url(#sp2)" d="M1134 473l1-102 1 97 0 3z"/>
<path fill="url(#sp3)" d="M1129 478l1-135 2 130-1 3zM1125 483l1-135 1 131 0 2zM1120 488l2-134 1 130 0 2zM1116 493l1-134 1 130 0 2z"/>
<path fill="url(#sp2)" d="M1112 499l1-100 1 95 0 2z"/>
<path fill="url(#sp3)" d="M1107 504l1-135 1 130 0 2zM1103 509l1-135 1 130 0 3z"/>
<path fill="url(#sp2)" d="M1098 514l2-101 1 96 0 3z"/>
<path fill="url(#sp3)" d="M1094 519l1-135 1 130 0 3zM1089 524l2-115 1 110 0 3zM1085 529l1-113 2 108-1 3zM1081 534l1-123 1 119 0 2zM1076 539l1-113 2 109 0 2zM1071 545l2-135 1 130 0 2zM1067 550l1-135 2 130-1 2zM1063 555l1-116 1 111 0 2zM1058 560l2-110 1 105 0 3zM1054 565l1-135 1 130 0 3zM1050 570l1-122 1 117 0 3zM1045 575l1-135 2 130-1 3zM1041 580l1-135 1 130 0 3zM1036 585l1-135 2 131 0 2zM1032 590l1-134 1 130 0 2zM1027 596l2-128 1 123 0 2zM1023 601l1-135 1 130 0 2zM1019 606l1-122 1 117 0 2zM1014 611l1-135 2 130-1 3z"/>
<path fill="url(#sp2)" d="M1010 616l1-103 1 98 0 3z"/>
<path fill="url(#sp3)" d="M1005 621l1-135 2 130-1 3zM1001 626l1-132 1 127 0 3zM996 631l1-135 2 130-1 3zM992 636l1-135 1 131 0 2zM987 641l2-116 1 112 0 2zM983 647l1-135 2 130-1 2zM978 652l2-135 1 130 0 2zM974 657l1-135 1 130 0 2zM970 662l1-128 1 123 0 3zM965 667l1-135 2 130-1 3zM961 672l1-135 1 130 0 3zM956 677l2-135 1 130 0 3zM952 682l1-135 1 130 0 3zM947 687l2-135 1 131 0 2zM943 692l1-134 1 130 0 2zM939 698l1-123 1 118 0 2zM934 703l1-135 2 130-1 2zM929 708l2-135 1 130 0 2zM925 713l1-135 2 130-1 3zM921 718l1-135 1 130 0 3zM917 723l1-114 1 109 0 3z"/>
<path fill="url(#sp2)" d="M912 728l1-102 2 97 0 3z"/>
<path fill="url(#sp3)" d="M908 733l1-135 1 130 0 3zM903 738l1-135 2 131-1 2zM899 743l1-134 1 130 0 2zM894 749l1-135 2 130-1 2zM890 754l1-135 1 130 0 2zM885 759l2-135 1 130 0 2z"/>
<path fill="url(#sp2)" d="M881 764l1-101 2 96-1 3z"/>
<path fill="url(#sp3)" d="M876 769l2-135 1 130 0 3zM872 774l1-111 2 106 0 3z"/>
<path fill="#ff8700" d="M874 754l0 3 355-408 0-3z"/>
<path fill="#ff9700" d="M874 757l1 8 354-408 0-8z"/>
<path fill="#ffa700" d="M875 764l0 8 355-408-1-8z"/>
<path fill="#ffb700" d="M875 770l0 9 355-408 0-9z"/>
<path fill="#ffc700" d="M875 777l0 9 355-408 0-9z"/>
<path fill="#ffd700" d="M875 784l1 9 354-408 0-9z"/>
<path fill="#ffe700" d="M876 791l0 9 355-408-1-9z"/>
<path fill="#fff700" d="M876 798l0 9 355-408 0-9z"/>
<path fill="#f7ff08" d="M876 805l1 9 354-408 0-9z"/>
<path fill="#e7ff18" d="M877 812l0 9 355-408-1-9z"/>
<path fill="#d7ff28" d="M877 819l1 9 355-408-1-9z"/>
<path fill="#c7ff38" d="M878 826l0 9 355-408-1-9z"/>
<path fill="#b7ff48" d="M878 833l1 9 355-408-1-9z"/>
<path fill="#a7ff58" d="M879 840l1 9 355-408-1-9z"/>
<path fill="#97ff68" d="M880 847l1 9 355-408-1-9z"/>
<path fill="#87ff78" d="M881 854l2 9 355-408-2-9z"/>
<path fill="#78ff87" d="M883 861l2 9 354-408-2-9z"/>
<path fill="#68ff97" d="M884 868l3 9 355-408-3-9z"/>
<path fill="#58ffa7" d="M886 876l3 9 355-408-3-10z"/>
<path fill="#48ffb7" d="M889 883l4 9 355-408-4-9z"/>
<path fill="#38ffc7" d="M892 890l3 5 355-408-3-5zM894 894l3 4 354-408-2-4z"/>
<path fill="#28ffd7" d="M896 898l4 5 355-408-4-5zM899 902l3 4 355-408-3-4z"/>
<path fill="#18ffe7" d="M902 905l3 4 350-403 3-7-1-2zM904 908l7 6 334-384 11-27zM909 913l1 0 337-387 0-2z"/>
<path fill="#08fff7" d="M910 913l6 5 320-369 11-23zM915 917l6 4 306-352 11-24zM920 920l5 3 294-338 10-21z"/>
<path fill="#00f7ff" d="M924 922l1 0 295-339 1-2zM925 922l6 3 278-320 11-22zM930 924l6 2 263-303 12-22zM935 925l6 2 250-289 11-19zM940 926l5 1 238-273 10-20zM944 927l7 0 223-257 11-20zM949 927l7-1 208-240 12-20zM954 926l1 0 211-242 1-2z"/>
<path fill="#08fff7" d="M955 926l6-1 195-224 10-17zM960 925l6-2 180-207 12-19zM965 924l6-3 167-193 10-16z"/>
<path fill="#18ffe7" d="M969 921l1 0 169-195 1-1zM970 921l6-4 152-175 11-16zM975 918l3-3 146-168 6-8z"/>
<path fill="#28ffd7" d="M977 915l3-3 140-160 6-7zM980 913l4-5 130-150 7-8z"/>
<path fill="#38ffc7" d="M983 909l2-3 126-145 5-4zM985 907l3-5 119-137 5-5z"/>
<path fill="#48ffb7" d="M987 903l4-8 110-126 7-5z"/>
<path fill="#58ffa7" d="M990 896l4-8 103-118 5-2z"/>
<path fill="#68ff97" d="M993 890l2-8 98-113 5 0z"/>
<path fill="#78ff87" d="M995 883l2-8 93-107 4 1z"/>
<path fill="#87ff78" d="M997 877l1-9 90-103 3 3z"/>
<path fill="#97ff68" d="M998 870l1-9 87-99 3 4z"/>
<path fill="#a7ff58" d="M999 863l1-8 84-97 3 5z"/>
<path fill="#b7ff48" d="M1000 856l1-8 82-94 2 5z"/>
<path fill="#c7ff38" d="M1001 850l1-9 80-92 1 6z"/>
<path fill="#d7ff28" d="M1002 843l0-9 79-90 1 6z"/>
<path fill="#e7ff18" d="M1002 836l1-9 77-89 1 7z"/>
<path fill="#f7ff08" d="M1003 829l0-8 76-88 1 7z"/>
<path fill="#fff700" d="M1003 822l0-8 76-87 1 7z"/>
<path fill="#ffe700" d="M1003 815l1-8 74-86 1 7z"/>
<path fill="#ffd700" d="M1004 809l0-9 74-85 0 8z"/>
<path fill="#ffc700" d="M1004 802l0-9 73-84 1 8z"/>
<path fill="#ffb700" d="M1004 795l0-9 73-83 1 7z"/>
<path fill="#ffa700" d="M1004 788l1-9 72-83 0 8z"/>
<path fill="#ff9700" d="M1005 781l0-8 71-83 1 8z"/>
<path fill="#ff8700" d="M1005 774l0-3 71-82 1 3z"/>
<path fill="url(#sp3)" d="M1072 716l1-108 1 103 0 2zM1067 721l2-111 1 106 0 2zM1063 726l1-135 1 130 0 2zM1058 731l1-135 2 130-1 3zM1054 736l1-135 1 130 0 3z"/>
<path fill="url(#sp2)" d="M1050 741l1-104 1 99 0 3z"/>
<path fill="url(#sp3)" d="M1045 746l1-135 1 130 0 3zM1041 751l1-133 1 128 0 3zM1036 756l1-135 1 131 0 2zM1032 761l1-134 1 130 0 2zM1027 767l2-111 1 106 0 2zM1023 772l1-131 1 126 0 2zM1018 777l2-107 1 102 0 2zM1014 782l1-135 1 130 0 3zM1009 787l2-135 1 130 0 3zM1005 792l1-135 1 130 0 3z"/>
<path fill="#ff8700" d="M1007 772l0 3 65-74 0-3z"/>
<path fill="#ff9700" d="M1007 775l1 8 63-73 1-9z"/>
<path fill="#ffa700" d="M1008 782l0 8 63-72 0-10z"/>
<path fill="#ffb700" d="M1008 788l0 9 63-72 0-9z"/>
<path fill="#ffc700" d="M1008 795l0 9 62-71 1-10z"/>
<path fill="#ffd700" d="M1008 802l1 9 61-70 0-10z"/>
<path fill="#ffe700" d="M1008 809l1 9 60-69 1-10z"/>
<path fill="#fff700" d="M1009 816l0 9 59-68 1-10z"/>
<path fill="#f7ff08" d="M1009 823l1 9 58-67 1-10z"/>
<path fill="#e7ff18" d="M1010 830l0 9 57-65 1-11z"/>
<path fill="#d7ff28" d="M1010 837l1 9 55-63 1-11z"/>
<path fill="#c7ff38" d="M1011 844l0 9 53-61 2-12z"/>
<path fill="#b7ff48" d="M1011 851l1 9 51-58 2-12z"/>
<path fill="#a7ff58" d="M1012 858l1 9 48-55 2-13z"/>
<path fill="#97ff68" d="M1013 865l1 9 45-51 3-14z"/>
<path fill="#87ff78" d="M1014 872l2 9 40-47 4-14z"/>
<path fill="#78ff87" d="M1016 879l2 9 35-41 4-16z"/>
<path fill="#68ff97" d="M1017 886l3 9 30-34 4-17z"/>
<path fill="#58ffa7" d="M1019 893l3 10 23-26 5-19z"/>
<path fill="#48ffb7" d="M1022 901l4 9 13-15 7-22z"/>
<path fill="#38ffc7" d="M1025 908l3 5 7-8 5-14zM1027 912l3 4 2-2 4-12z"/>
<path fill="#28ffd7" d="M1029 916l1 1 3-6z"/></g></g>
<g><path d="M92 493.8L515.2 551" stroke="#262626" stroke-width="1.0"/><path d="M515.2 551L629.1 338.4" stroke="#262626" stroke-width="1.0"/><path d="M92 493.8L92 273" stroke="#262626" stroke-width="1.0"/><path d="M92 493.8L86.1 504.9" stroke="#262626" stroke-width="1.0"/><path d="M197.8 508.1L191.9 519.2" stroke="#262626" stroke-width="1.0"/><path d="M303.6 522.4L297.7 533.5" stroke="#262626" stroke-width="1.0"/><path d="M409.4 536.7L403.5 547.8" stroke="#262626" stroke-width="1.0"/><path d="M515.2 551L509.3 562.1" stroke="#262626" stroke-width="1.0"/><path d="M515.2 551L525.8 552.4" stroke="#262626" stroke-width="1.0"/><path d="M572.2 444.7L582.7 446.1" stroke="#262626" stroke-width="1.0"/><path d="M629.1 338.4L639.7 339.8" stroke="#262626" stroke-width="1.0"/><path d="M92 493.8L81 492.3" stroke="#262626" stroke-width="1.0"/><path d="M92 383.4L81 381.9" stroke="#262626" stroke-width="1.0"/><path d="M92 273L81 271.5" stroke="#262626" stroke-width="1.0"/></g>
<g><path d="M1026 490.3L1131.7 331.3" stroke="#dfdfdf" stroke-width="1.0"/><path d="M1224.3 511.5L1330 352.5" stroke="#dfdfdf" stroke-width="1.0"/><path d="M1422.6 532.8L1528.3 373.8" stroke="#dfdfdf" stroke-width="1.0"/><path d="M1026 490.3L1422.6 532.8" stroke="#dfdfdf" stroke-width="1.0"/><path d="M1078.8 410.8L1475.4 453.3" stroke="#dfdfdf" stroke-width="1.0"/><path d="M1131.7 331.3L1528.3 373.8" stroke="#dfdfdf" stroke-width="1.0"/><path d="M1131.7 331.3L1131.7 45.8" stroke="#dfdfdf" stroke-width="1.0"/><path d="M1330 352.5L1330 67.1" stroke="#dfdfdf" stroke-width="1.0"/><path d="M1528.3 373.8L1528.3 88.3" stroke="#dfdfdf" stroke-width="1.0"/><path d="M1131.7 266.8L1528.3 309.3" stroke="#dfdfdf" stroke-width="1.0"/><path d="M1131.7 187.6L1528.3 230.1" stroke="#dfdfdf" stroke-width="1.0"/><path d="M1131.7 108.4L1528.3 150.9" stroke="#dfdfdf" stroke-width="1.0"/><path d="M1026 490.3L1026 204.8" stroke="#dfdfdf" stroke-width="1.0"/><path d="M1078.8 410.8L1078.8 125.3" stroke="#dfdfdf" stroke-width="1.0"/><path d="M1131.7 331.3L1131.7 45.8" stroke="#dfdfdf" stroke-width="1.0"/><path d="M1026 425.8L1131.7 266.8" stroke="#dfdfdf" stroke-width="1.0"/><path d="M1026 346.6L1131.7 187.6" stroke="#dfdfdf" stroke-width="1.0"/><path d="M1026 267.4L1131.7 108.4" stroke="#dfdfdf" stroke-width="1.0"/></g>
<g transform="scale(0.5)"><g fill="none" stroke-width="2.2" stroke-linejoin="round"><path d="M2145 991l88-110 85-110-3-7-12 5 79-94M2435 681l-151 188-98 126M2257 1003l87-110 60-79 14-16 17-15 10-16 33-30 12-16 28-31M2548 693l-115 141-137 173M2394 1017l113-141 60-79 12-15-2-4-12 5 0-3 66-78M2684 708l-126 156-123 158M2506 1029l136-173-6 0 3-17 18-14 8 0 33-31 7-16 18-15 2 0 15-15 27-32M2798 720l-128 156-125 157M2643 1044l100-126 73-94 12-16-1-9 1-8 52-62M2934 734l-140 173-110 141M2756 1056l99-126 47-63 16-15 9-16 34-31 55-62M3047 746l-103 126-149 188M2299 666l-90 110-129 162M2540 811l-3 3 0-3 5-5-2 5M2806 823l-5 3 0-4 8-9-3 10M2243 693l25-30" stroke="#1e8fff"/><path d="M2307 667l-251 314M2135 989l163-204-1-17 76-94M2444 682l-250 314M2247 1001l138-172 14-16 34-30 10-16 16-15 51-63M2556 694l-251 314M2384 1016l151-188-3-8 1-9 26-31 64-79M2693 709l-238 298-14 15M2496 1028l102-127 37-45 4-17 18-14 5 0 33-31 10-16 16-15 38-47M2806 721l-251 313M2633 1043l163-204-1-5-12 5 0-2 89-109M2943 735l-251 314M2746 1055l137-173 33-30 9-16 33-31 51-63M3055 747l-251 314M2559 792l-7 4-9 21 17-21-1-4" stroke="#4ff0a0"/><path d="M2317 668l-164 204-89 110M2125 988l127-156 2-17 36-47 74-95M2454 683l-190 235-46 56-21 22M2238 1000l115-140 17-16 10-16 50-45 22-32 49-63M2566 695l-138 173-115 141M2374 1015l141-172 0-10-1-7 99-126M2703 710l-215 266-28 31-1 0-18 15M2487 1027l102-125 27-31 17-16 6-16 18-15 3 0 17-15 73-94M2815 722l-151 188-102 125M2624 1042l101-126 53-62 0-6-13 6-1-2 98-125M2952 736l-176 220-54 64-26 30M2736 1054l82-101 39-46 23-25 33-31 10-16 16-15 61-79M3015 810l-127 158-77 94M2280 791l-14 8-8 16-3 14 24-28 1-10" stroke="#ffd010"/><path d="M2088 964l-3 5 4-2-1-3M2107 986l81-93 43-47 1-9-12 6 6-14 30-48 5-13-23 28-10 9-18 22-111 125-2 13 3 4-9 16M2222 999l55-62 43-47 13-16 34-30 9-16 17-15 5-8 3-8 30-48 5-14-24 29-10 9-18 22-96 109-28 31-30 31-12 15-17 15M2324 1010l2-7-6 6M2356 1013l122-140 0-10-2-7 44-68-18 19-5 2-24 29-11 11-85 98-28 31-15 16-2 13 16-12 2-2 0 2-9 17M2471 1025l98-108 1 0 19-15 7-16 34-31 9-16 12-16 46-71-6 7-15 16-4 2-25 29-10 11-86 98-28 31-16 15-6 9-20 22-17 16-5-1-18 15M2593 1011l-9 9-1 5 8-4 2-10M2605 1040l110-125 3-16 6-17 31-48 10-18-15 18-18 18-24 29-110 124-3 14 4 3-9 16M2720 1052l112-124 17-15 10-16 34-31 3-4 4-12 29-48 10-19-14 19-18 18-24 28-96 109-43 47-17 15-10 16-17 15M2826 1064l4-14-12 13M2931 937l-84 95-4 11 5 6-9 16M2730 893l-11 6-1 12 11-11 1-7M2495 851l-9 6-4 13 12-12 1-7M2760 861l-10 7-3 13 12-12 1-8" stroke="#f01a1a"/><path d="M2216 998l103-108 12-16 36-30 16-29-10 2-25 25-73 77-13 16-17 15-14 16-12 15-17 16M2351 979l-17 15-1 11 14-10 4-16M2466 1025l101-108 3 0 19-15 5-17 35-30 7-11-5-5-18 13-87 94-19 15-10 15-15 17-17 15-6-1-18 15M2588 1018l-3 4 2-1 1-3M2714 1052l12-12 61-66 16-15 28-31 17-15 10-16 17-16 7-11-7-2-23 22-107 114-6 4-12 11-9 16-17 15M2825 1063l2-9-8 9M2114 938l-13 14-2 9 13-8 2-15M2217 847l-10 3-9 0-25 25-57 61-3 17 4 0-1 7 17-12 82-86 2-15M2475 868l-7 4-8 6-5-5-17 13-73 77-11 16 3 3 16 1 25-24 65-71 12-15 0-5M2716 903l-10 2-7-4-22 22-78 82-2 12 16-11 3 1 0 7 20-17 77-82 3-12M2854 1026l-5 6-1 4 9-3-3-7M2914 962l-51 54-4 16 3 1 1 5M2230 841l-8 4-2 11 9-10 1-5M2727 898l-3 1 0 4 3-5M2494 853l-6 4-3 8 8-8 1-4M2759 863l-8 5-2 10 9-9 1-6" stroke="#9a0000"/></g><g fill="url(#zre)"><path transform="translate(2362)" d="M-98 442l-1-10-1 5z"/>
<path transform="translate(2367)" d="M-94 593l-9-154-2-3-8 40-9 47 14 37z"/>
<path transform="translate(2373)" d="M-96 661l-6-107-22-54-9 64 18 54z"/>
<path transform="translate(2377)" d="M-99 664l-3-33-16-38-17-47-5 53 21 68z"/>
<path transform="translate(2379)" d="M-117 655l-12-33-12-39-3 48 14 55 14-7z"/>
<path transform="translate(2380)" d="M-129 670l-15-54-2 47 18 27z"/>
<path transform="translate(2380)" d="M-138 681l-8-33 0 49 9 2z"/>
<path transform="translate(2381)" d="M-146 689l-1-8-1 27 3-2z"/>
<path transform="translate(2396)" d="M-185 742l-12 1 18-15z"/>
<path transform="translate(2396)" d="M-97 508l-9 129-16 43-15 14-16 15 10-48 15-44 16-51z"/>
<path transform="translate(2400)" d="M-101 517l-2 21-19 65-18 55-19 42-19 28-19 14-3 1 20-17 20-32 19-46 20-60z"/>
<path transform="translate(2403)" d="M-100 455l-5 67-19 69-19 59-20 46-19 31-20 16-9 3 22-25 23-44 22-61 22-76z"/>
<path transform="translate(2408)" d="M-101 404l-5 66-21 82-22 72-22 57-21 41-22 23-9 5 21-26 20-42 20-55 21-67 20-75z"/>
<path transform="translate(2412)" d="M-101 355l-5 64-20 78-19 73-20 63-20 53-20 39-20 24-9 5 23-33 22-51 22-66 22-77 22-84z"/>
<path transform="translate(2416)" d="M-101 309l-5 60-22 86-21 82-22 74-21 63-22 48-21 31-9 6 20-35 21-48 20-61 21-70 20-77 21-80z"/>
<path transform="translate(2420)" d="M-101 266l-5 56-20 78-20 79-20 74-20 68-20 58-20 46-20 32-9 6 22-41 22-57 22-70 22-79 22-84 22-85z"/>
<path transform="translate(2425)" d="M-102 229l-5 49-22 81-21 84-22 82-22 76-21 67-22 54-21 40-9 5 20-42 21-54 21-66 20-73 21-78 21-79 20-76z"/>
<path transform="translate(2429)" d="M-102 198l-5 42-23 81-24 87-23 88-23 85-23 76-23 62-23 47-9 4 22-48 22-62 22-73 22-80 22-84 22-82 22-76z"/>
<path transform="translate(2433)" d="M-102 174l-5 33-22 68-22 76-21 81-22 82-21 78-22 71-21 60-22 46-9 5 21-49 21-60 20-69 21-76 21-78 20-77 21-73 21-64z"/>
<path transform="translate(2438)" d="M-104 158l-5 22-23 64-22 75-23 83-23 87-23 85-23 78-23 68-23 53-9 4 22-55 22-67 22-77 22-81 22-82 22-79 22-72 21-60z"/>
<path transform="translate(2442)" d="M-104 150l-5 12-21 49-22 61-21 72-22 79-21 81-22 80-22 74-21 65-22 53-9 3 23-61 24-74 23-83 23-87 23-85 23-79 23-69 23-54z"/>
<path transform="translate(2446)" d="M-104 150l-5 1-23 40-22 57-23 69-23 79-23 85-22 85-23 81-23 72-23 59-8 3 21-61 22-71 22-79 22-82 22-81 22-75 22-66 21-54 22-39z"/>
<path transform="translate(2451)" d="M-105 159l-5-10-22 26-21 41-22 56-21 67-22 75-21 80-22 81-21 77-22 70-21 59-9 2 23-67 23-78 22-85 23-86 23-83 23-74 23-63 23-47 23-29z"/>
<path transform="translate(2455)" d="M-105 176l-5-21-23 16-22 32-23 49-23 64-22 75-23 82-22 85-23 83-23 76-22 65-9 2 22-67 21-75 22-81 22-82 22-79 22-71 22-61 21-47 22-31 22-15z"/>
<path transform="translate(2459)" d="M-105 200l-5-30-22 2-21 18-22 34-21 49-22 62-21 71-22 79-22 81-21 79-22 74-21 65-9 1 23-73 23-82 22-85 23-85 23-80 23-70 23-56 22-39 23-22 23-5z"/>
<path transform="translate(2464)" d="M-106 232l-5-40-23-9-22 8-23 25-22 42-23 58-22 70-23 79-22 85-23 84-23 80-22 70-9 1 22-72 22-79 21-83 22-81 22-77 22-67 22-54 21-40 22-23 22-7 22 8z"/>
<path transform="translate(2468)" d="M-107 269l-5-47-21-19-22-5-21 10-22 26-21 42-22 55-21 68-22 76-21 81-22 81-21 78-22 70-9 0 23-78 23-85 22-86 23-84 23-76 22-65 23-49 23-32 22-14 23 3 23 19z"/>
<path transform="translate(2472)" d="M-107 312l-5-55-22-28-23-16-22 0-22 17-23 35-22 51-23 65-22 76-22 83-23 86-22 83-23 76-9-1 22-77 22-83 22-84 21-80 22-73 22-62 22-48 21-32 22-16 22 1 22 16 22 28z"/>
<path transform="translate(2477)" d="M-108 358l-5-59-21-36-22-25-21-13-22 2-21 18-22 34-21 50-22 63-22 73-21 80-22 83-21 81-22 75-9-1 23-83 23-88 22-87 23-82 22-72 23-59 23-42 22-24 23-6 22 11 23 26 23 37z"/>
<path transform="translate(2481)" d="M-108 406l-5-62-22-43-23-34-22-23-22-8-23 9-22 27-22 44-23 60-22 72-22 82-23 86-22 86-22 81-9-2 21-82 22-86 22-84 22-80 21-69 22-57 22-41 22-24 21-7 22 9 22 24 22 35 21 42z"/>
<path transform="translate(2485)" d="M-108 456l-5-64-22-45-21-40-22-32-21-21-22-6-21 10-22 26-21 43-22 58-21 69-22 79-21 84-22 84-21 80-9-3 22-87 23-91 22-87 23-80 22-68 23-52 22-35 23-16 22 3 23 19 22 34 23 42 22 48z"/>
<path transform="translate(2489)" d="M-108 506l-5-65-23-47-22-47-22-40-22-30-23-17-22 1-22 18-23 37-22 54-22 68-22 80-23 86-22 89-22 86-9-4 22-87 21-89 22-85 22-77 21-66 22-50 22-34 22-15 21 2 22 18 22 32 22 41 21 48 22 48z"/>
<path transform="translate(2494)" d="M-442 774l2-28 22-92 22-91 22-84 22-73 22-59 22-42 22-22 22-4 22 14 23 29 22 42 22 48 22 52 22 49 22 41-5-63-23-48-23-51-24-48-23-40-23-26-23-10-23 9-23 30-23 49-23 66-23 80-23 89-23 93-23 92z"/>
<path transform="translate(2498)" d="M-445 760l5-66 22-94 22-89 22-79 22-65 22-47 22-29 22-8 22 11 22 27 22 41 22 50 22 54 22 53 22 46 23 36-6-61-22-43-22-49-22-51-22-47-22-38-22-26-22-10-22 8-22 27-22 45-22 62-22 76-22 85-22 91z"/>
<path transform="translate(2501)" d="M-444 710l2-21 22-95 22-89 22-78 22-64 22-46 22-27 22-6 22 12 22 28 22 42 22 51 22 54 22 53 22 46 22 35-2-18-22-38-22-47-22-53-22-52-22-48-22-37-22-24-22-6-22 13-22 32-22 51-22 68-22 81-22 89z"/>
<path transform="translate(2506)" d="M-448 694l10-153 23-96 23-76 23-21 23-22-10 31-23 65-23 81-23 92z"/>
<path transform="translate(2506)" d="M-302 289l22 36 21 50 22 61 21 66 22 65 22 58 21 46 22 26 21-20-9-76-22-34-22-46-21-51-22-53-21-49-22-42-21-29-22-13-21 4z"/>
<path transform="translate(2512)" d="M-446 581l5-108 15-66 16-24 15-14-5 31-16 53-15 61z"/>
<path transform="translate(2512)" d="M-306 287l21 51 22 67 21 74 22 77 22 73 21 61 22 28 22-20-6-31-21-36-22-49-22-59-21-62-22-60-22-52-21-40-22-22z"/>
<path transform="translate(2516)" d="M-446 503l3-86 19-23-3 27z"/>
<path transform="translate(2516)" d="M-309 287l21 54 21 78 21 84 21 85 20 79 21 67 21-10-3-28-21-48-21-60-20-67-21-69-21-66-21-56-21-42z"/>
<path transform="translate(2518)" d="M-446 442l2-30 2-2-2 23z"/>
<path transform="translate(2518)" d="M-307 285l21 62 21 93 21 98 20 97 21 87 21 18-2-23-20-63-21-74-21-80-21-79-21-72-21-59z"/>
<path transform="translate(2519)" d="M-304 281l22 78 22 114 22 118 21 112 22 49-1-21-22-81-21-93-22-97-22-92-21-80z"/>
<path transform="translate(2519)" d="M-299 277l19 77 19 116 19 118 19 114 19 58 0-18-19-85-19-94-19-97-19-94-19-85z"/>
<path transform="translate(2520)" d="M-295 273l21 107 21 147 21 147 20 93 0-16-21-113-21-121-21-121-20-112z"/>
<path transform="translate(2520)" d="M-291 269l18 108 19 148 18 148 19 99 0-16-19-115-18-122-19-122-18-116z"/>
<path transform="translate(2520)" d="M-445 541l0 15 18-143 0-18z"/>
<path transform="translate(2520)" d="M-240 246l18 113 18 119 19 118 18 112 0 18-18-114-19-139-18-140-19-110z"/>
<path transform="translate(2521)" d="M-446 554l0 11 23-157-1-16z"/>
<path transform="translate(2521)" d="M-247 253l21 110 21 117 21 118 21 108-1 16-20-111-21-139-21-138-21-106z"/>
<path transform="translate(2521)" d="M-446 564l1 5 13-87 14-81-1-13-13 77z"/>
<path transform="translate(2521)" d="M-253 262l19 84 19 92 19 94 19 90 19 82-1 14-19-83-19-108-19-111-19-108-19-73z"/>
<path transform="translate(2522)" d="M-446 568l1-2 15-90 16-82-1-11-16 83z"/>
<path transform="translate(2522)" d="M-263 274l22 80 22 91 22 93 21 89 22 76-1 11-22-81-21-107-22-111-22-106-21-66z"/>
<path transform="translate(2523)" d="M-447 567l2-14 18-88 17-79-1-6-18 84z"/>
<path transform="translate(2523)" d="M-274 290l20 62 21 73 21 78 21 76 21 69 21 56-2 6-21-63-21-86-21-92-20-91-21-84-21-39z"/>
<path transform="translate(2525)" d="M-447 557l3-28 19-81 18-69-3-1-18 81z"/>
<path transform="translate(2525)" d="M-291 313l20 49 21 60 21 67 21 66 21 62 20 52 21 37-3 2-21-52-20-70-21-78-21-80-21-76-21-65-20-16z"/>
<path transform="translate(2528)" d="M-448 535l5-46 19-63 19-48-5 1-19 72z"/>
<path transform="translate(2528)" d="M-317 346l22 39 22 51 21 58 22 60 22 56 21 48 22 34 21 16-5-1-22-42-21-58-22-68-21-72-22-69-22-62-21-47-22 7z"/>
<path transform="translate(2535)" d="M-451 499l10-53 18-34 18-22-10-9-18 53z"/>
<path transform="translate(2535)" d="M-361 392l22 26 22 40 22 48 22 52 22 51 22 45 22 34 22 20 21 2 22-16-9 13-22-20-22-40-22-52-22-61-22-63-22-59-22-50-22-36-22-7-22 20z"/>
<path transform="translate(2539)" d="M-448 454l2-6 22-42 22-24 22-4 22 15 22 30 22 42 22 50 22 53 22 51 22 43 22 32 22 15 22-2 22-22 22-41-1 13-22 35-22 16-22-3-22-22-22-36-22-47-22-53-22-54-22-49-22-41-22-26-22-10-22 9-23 29z"/>
<path transform="translate(2542)" d="M-449 449l5-10 22-25 22-7 22 11 22 26 22 39 22 47 22 50 22 48 22 42 22 30 22 17 22-1 22-20 22-38 22-55-5 44-22 40-22 20-22 1-22-17-22-32-22-44-22-51-22-54-22-50-22-42-22-29-22-13-22 5-22 24z"/>
<path transform="translate(2547)" d="M-450 440l5 1 22-12 22 6 22 21 22 34 22 44 22 47 22 48 22 42 22 33 22 19 22 3 22-14 22-33 22-50 22-65-5 50-22 52-22 34-22 15-22-3-22-20-22-34-22-44-22-50-22-50-22-46-22-37-22-24-22-7-22 10z"/>
<path transform="translate(2551)" d="M-451 439l5 12 22 1 22 17 22 30 23 39 22 46 22 46 22 43 22 34 22 23 22 7 22-10 22-28 22-45 22-60 22-74-5 56-22 62-22 47-22 29-22 10-22-7-22-23-22-35-22-45-22-48-22-48-23-42-22-32-22-18-22-2z"/>
<path transform="translate(2555)" d="M-451 447l5 23 22 12 22 25 22 37 22 43 22 46 22 43 22 36 22 25 23 11 22-6 22-23 22-40 22-56 22-69 22-79-5 59-22 71-22 57-22 42-22 24-22 6-23-11-22-26-22-37-22-44-22-47-22-45-22-39-22-27-22-14z"/>
<path transform="translate(2559)" d="M-451 463l5 32 22 22 22 33 22 41 22 45 22 43 22 37 22 28 22 14 22-1 22-18 22-36 22-51 22-65 23-76 22-83-5 61-23 77-22 67-22 53-22 36-22 19-22 2-22-14-22-28-22-38-22-45-22-45-22-43-22-35-22-23z"/>
<path transform="translate(2564)" d="M-452 487l5 40 22 30 22 39 22 43 22 43 22 39 22 30 22 17 22 3 22-13 22-31 22-47 22-61 22-73 22-81 22-84-5 61-22 82-22 74-22 63-22 48-22 32-22 14-22-2-22-18-22-30-22-40-22-44-22-44-22-40-22-31z"/>
<path transform="translate(2568)" d="M-452 517l5 48 22 36 22 42 22 42 22 40 22 32 22 21 22 7 22-9 22-26 22-42 22-58 22-69 22-79 22-83 22-83-5 59-22 84-22 80-22 70-22 59-22 43-22 27-22 10-22-6-22-21-22-32-22-41-22-43-22-43-22-37z"/>
<path transform="translate(2572)" d="M-452 553l5 53 22 41 22 42 22 41 22 34 22 24 22 11 22-5 22-22 22-38 22-53 22-66 22-76 22-82 22-83 22-81-5 56-22 84-22 83-22 77-22 67-22 54-22 39-22 23-22 5-22-10-22-24-22-34-22-41-22-44-22-41z"/>
<path transform="translate(2577)" d="M-453 593l5 58 22 42 22 41 22 36 22 27 22 14 22 0 22-17 22-34 22-49 22-63 22-73 22-81 22-83 22-81 22-75-5 51-22 81-22 84-22 81-22 74-22 64-22 50-22 34-22 18-22 1-22-14-22-26-22-36-22-42-22-42z"/>
<path transform="translate(2581)" d="M-454 637l5 60 22 41 23 38 22 30 22 17 22 4 22-13 22-29 22-45 22-59 22-71 22-79 22-82 22-82 22-77 22-68-5 44-22 77-22 82-22 83-22 79-22 72-22 60-22 46-22 30-22 13-22-3-22-17-22-30-23-37-22-42z"/>
<path transform="translate(2585)" d="M-454 683l5 60 22 39 22 32 22 21 22 8 22-9 22-24 23-41 22-56 22-68 22-77 22-81 22-83 22-78 22-71 22-59-5 35-22 71-22 78-22 83-22 82-22 77-22 69-22 56-23 42-22 25-22 9-22-7-22-20-22-32-22-39z"/>
<path transform="translate(2590)" d="M-455 729l5 58 22 34 22 25 22 11 22-3 22-21 22-36 22-52 22-65 22-75 22-81 22-83 23-80 22-73 22-62 22-49-5 26-22 62-22 73-23 79-22 83-22 81-22 75-22 66-22 53-22 37-22 21-22 5-22-11-22-24-22-34z"/>
<path transform="translate(2594)" d="M-455 774l5 55 22 27 22 16 22 0 22-16 22-32 22-48 22-62 22-73 22-79 22-83 22-82 22-75 22-66 22-53 22-38-5 17-22 52-22 65-22 75-22 81-22 83-22 79-22 73-22 63-22 49-22 33-22 16-22 1-22-15-22-27z"/>
<path transform="translate(2598)" d="M-455 817l5 49 22 19 22 5 22-11 22-28 22-44 22-59 22-70 22-79 22-83 22-82 22-78 22-69 22-57 22-42 22-26-5 6-22 41-22 56-22 68-22 77-22 82-22 83-22 78-22 71-22 59-22 45-22 28-22 13-22-4-22-19z"/>
<path transform="translate(2603)" d="M-456 855l5 43 22 9 22-7 22-23 22-40 22-55 22-68 22-77 22-83 22-83 22-80 22-72 22-61 22-46 22-31 22-13-5-6-22 30-22 45-22 60-22 71-22 79-22 83-22 82-22 77-22 68-22 56-22 40-22 25-22 7-22-8z"/>
<path transform="translate(2607)" d="M-456 889l5 34 22-2 22-19 22-36 22-51 22-65 22-76 22-82 22-84 22-82 22-75 22-64 22-51 22-35 22-18 22-1-5-17-22 17-22 34-22 50-22 64-22 74-22 80-22 84-22 81-22 76-22 65-22 52-22 36-22 20-22 3z"/>
<path transform="translate(2611)" d="M-456 916l5 25 22-14 22-32 22-47 22-63 22-73 22-82 22-84 22-84 22-78 22-68 22-55 22-40 22-22 22-6 22 11-5-27-22 5-22 21-22 39-22 54-22 67-22 76-22 83-22 84-22 81-22 73-22 62-22 48-22 32-22 15z"/>
<path transform="translate(2616)" d="M-458 936l5 15 22-27 22-44 22-59 22-71 23-81 22-85 22-85 22-81 22-72 22-59 22-44 22-28 22-10 22 7 22 21-5-37-22-7-22 10-22 26-22 43-22 58-22 71-22 79-22 84-22 84-23 80-22 71-22 59-22 44-22 28z"/>
<path transform="translate(2620)" d="M-458 949l5 3 22-39 22-56 22-70 22-79 22-85 22-87 22-83 22-76 22-64 23-49 22-32 22-15 22 3 22 18 22 32-5-46-22-19-22-3-22 14-22 31-23 48-22 62-22 74-22 82-22 85-22 84-22 79-22 69-22 56-22 40z"/>
<path transform="translate(2624)" d="M-458 953l5-8 22-52 22-67 22-78 22-86 22-88 22-86 22-80 22-68 22-54 22-37 22-19 22-2 22 15 22 29 23 40-6-54-22-28-22-15-22 1-22 18-22 36-22 53-22 66-22 77-22 84-22 87-22 84-22 77-22 67-22 52z"/>
<path transform="translate(2629)" d="M-459 948l5-19 22-64 22-77 22-86 22-90 22-88 22-83 22-73 22-59 22-43 22-24 22-6 22 12 22 27 22 38 22 46-5-60-22-38-22-26-22-11-22 5-22 24-22 41-22 57-22 70-22 81-22 87-22 87-22 84-22 76-22 64z"/>
<path transform="translate(2633)" d="M-459 935l5-30 22-76 22-86 22-91 22-91 22-88 22-77 22-65 22-48 22-29 22-11 22 8 22 25 22 37 22 47 22 51-5-66-22-45-22-36-22-23-22-8-22 10-22 29-22 46-22 62-22 75-22 84-22 89-22 88-22 84-22 74z"/>
<path transform="translate(2637)" d="M-459 913l5-41 22-86 22-93 22-95 22-91 22-83 22-70 22-54 22-35 22-16 22 4 22 22 22 37 22 47 22 53 22 54-5-71-22-50-22-44-22-35-22-20-22-4-22 15-22 33-22 52-22 67-22 80-22 87-22 92-22 89-22 84z"/>
<path transform="translate(2640)" d="M-458 883l1-15 22-86 22-94 22-95 22-91 22-83 22-69 22-53 22-34 22-14 22 6 22 23 22 38 22 48 22 53 22 54-1-22-22-53-22-52-22-44-22-33-22-18-22 1-22 20-22 39-22 57-22 73-22 84-22 92-22 94-22 91z"/>
<path transform="translate(2645)" d="M-462 872l9-116 21-101 20-99 21-92 21-80 20-54 21-19 20-19-9 30-21 57-20 71-21 80-21 87-20 88-21 87z"/>
<path transform="translate(2645)" d="M-264 255l20 32 20 47 21 56 20 61 20 62 20 58 21 48-10-153-20-49-20-50-21-45-20-36-20-26-20-11-21 4z"/>
<path transform="translate(2651)" d="M-461 788l5-84 20-106 20-100 19-90 20-56 20-18-6 31-19 70-20 80-20 89-19 92z"/>
<path transform="translate(2651)" d="M-269 253l21 48 20 62 21 70 20 73 21 71 20 62 21 48-6-107-20-50-21-57-20-59-21-56-20-48-21-37-20-21z"/>
<path transform="translate(2655)" d="M-461 726l3-59 18-105 18-98 18-88 18-17-3 27-18 74-18 84-18 90z"/>
<path transform="translate(2655)" d="M-271 253l20 53 21 76 20 83 21 84 21 78 20 68 21-4-3-33-21-49-20-60-21-67-20-68-21-64-21-55-20-41z"/>
<path transform="translate(2657)" d="M-460 683l1-44 18-115 18-107 18-42-2 23-18 88-18 95z"/>
<path transform="translate(2657)" d="M-269 250l20 62 21 93 21 98 21 97 21 88 21 18-2-24-21-62-21-75-21-79-20-79-21-73-21-59z"/>
<path transform="translate(2658)" d="M-460 651l1-35 21-146 20-83-1 20-20 117z"/>
<path transform="translate(2658)" d="M-266 247l22 78 22 114 21 118 22 112 22 48-1-20-22-81-22-93-21-97-22-92-22-80z"/>
<path transform="translate(2658)" d="M-459 626l0-30 16-127 17-74-1 18-16 103z"/>
<path transform="translate(2658)" d="M-261 243l19 77 19 115 19 119 19 114 19 58-1-18-19-86-19-94-19-97-19-94-19-85z"/>
<path transform="translate(2659)" d="M-460 605l0-29 13-110 13-64-1 17-12 91z"/>
<path transform="translate(2659)" d="M-258 239l21 106 21 147 21 147 21 93 0-16-21-112-21-121-21-121-21-112z"/>
<path transform="translate(2659)" d="M-460 585l0-29 20-149 0 16z"/>
<path transform="translate(2659)" d="M-253 235l18 107 18 148 19 148 18 100 0-16-18-116-19-122-18-122-19-115z"/>
<path transform="translate(2659)" d="M-307 308l19 112 18 119 19 119 18 112 0 17-19-113-18-140-18-139-19-110z"/>
<path transform="translate(2660)" d="M-313 315l21 109 21 118 21 117 21 108-1 16-21-111-21-138-20-139-21-105z"/>
<path transform="translate(2660)" d="M-320 323l19 84 19 92 19 94 19 91 19 81 0 14-19-83-19-108-19-111-19-108-19-73z"/>
<path transform="translate(2661)" d="M-329 335l22 80 22 91 21 93 22 89 22 76-1 11-22-81-22-107-21-111-22-105-22-66z"/>
<path transform="translate(2662)" d="M-341 351l21 63 21 73 21 77 21 76 20 69 21 56-1 6-21-63-21-86-21-92-21-91-21-84-20-39z"/>
<path transform="translate(2664)" d="M-358 375l21 49 21 60 21 66 20 67 21 61 21 52 21 37-3 2-21-52-21-70-21-78-20-80-21-75-21-66-21-16z"/>
<path transform="translate(2667)" d="M-383 407l22 39 21 52 22 58 22 59 21 57 22 47 22 34 21 16-5-1-22-42-21-58-22-68-22-71-21-70-22-61-22-48-21 7z"/>
<path transform="translate(2674)" d="M-427 453l22 27 22 39 22 48 22 52 21 51 22 45 22 35 22 19 22 3 22-17-9 13-22-20-22-39-22-53-22-60-22-63-22-59-22-51-22-36-22-7-22 20z"/>
<path transform="translate(2674)" d="M-172 688l15-44 16-51 16-58-10 129-16 43-15 14-16 14z"/>
<path transform="translate(2678)" d="M-462 432l2 8 22 3 22 20 22 35 22 46 22 52 22 52 22 49 22 39 22 26 22 10 22-9 22-29 22-47 22-65 22-78-2 20-22 76-22 61-22 42-22 23-22 3-22-15-22-31-22-44-22-51-22-55-22-51-22-44-22-32-22-16z"/>
<path transform="translate(2681)" d="M-464 438l5 32 22 17 22 31 22 42 22 49 22 50 22 46 22 38 22 26 23 11 22-8 22-26 22-44 22-61 22-75 22-84-5 67-22 77-22 64-22 46-22 28-22 8-23-11-22-28-22-40-22-49-22-54-22-51-22-46-22-34-22-19z"/>
<path transform="translate(2686)" d="M-465 462l5 40 22 26 22 38 22 46 22 48 22 46 22 39 22 28 22 14 22-3 22-21 22-39 22-56 22-69 23-81 22-87-5 66-23 83-22 73-22 58-22 40-22 22-22 4-22-15-22-29-22-41-22-48-22-51-22-48-22-41-22-29z"/>
<path transform="translate(2690)" d="M-465 492l5 47 22 34 22 43 22 46 22 46 22 40 22 30 22 17 22 2 22-17 22-34 22-50 22-66 22-77 22-84 22-87-5 64-22 86-22 80-22 67-22 53-22 35-22 17-22-1-22-18-22-31-22-42-22-47-22-49-22-44-22-36z"/>
<path transform="translate(2694)" d="M-465 527l5 54 22 39 22 45 22 45 22 41 22 32 22 21 22 5 22-12 22-29 22-46 22-61 22-73 22-82 22-85 22-86-5 61-22 88-22 83-22 75-22 63-22 47-22 31-22 12-22-5-22-21-22-33-22-42-22-47-22-46-22-42z"/>
<path transform="translate(2699)" d="M-466 568l5 57 22 43 22 45 22 41 22 35 22 23 22 9 22-7 22-25 22-41 22-56 22-70 22-79 22-84 22-85 22-81-5 56-22 86-22 86-22 80-22 71-22 58-22 43-22 25-22 8-22-9-22-24-22-35-22-42-22-46-22-44z"/>
<path transform="translate(2703)" d="M-466 612l5 60 22 44 22 42 22 36 22 26 22 13 22-3 22-20 22-37 22-52 22-66 22-76 22-82 22-85 22-81 22-75-5 49-22 83-22 85-22 84-22 77-22 67-22 54-22 38-22 20-22 4-22-13-22-26-22-37-22-43-22-44z"/>
<path transform="translate(2707)" d="M-467 658l5 61 22 43 23 37 22 29 22 16 22 1 22-15 22-32 22-48 22-62 22-73 22-81 22-83 22-83 22-76 22-67-5 41-22 77-22 83-22 85-22 81-22 75-22 63-22 49-22 33-22 16-22-1-22-16-22-29-23-37-22-43z"/>
<path transform="translate(2711)" d="M-467 705l5 60 22 39 22 31 22 20 22 5 22-11 22-27 23-44 22-58 22-70 22-79 22-83 22-82 22-78 22-70 22-57-5 32-22 70-22 78-22 83-22 84-22 79-22 71-22 60-23 44-22 29-22 11-22-5-22-19-22-31-22-39z"/>
<path transform="translate(2716)" d="M-468 752l5 57 22 33 22 23 22 9 22-6 22-23 22-39 22-55 22-67 22-76 22-82 22-83 23-79 22-72 22-61 22-46-5 22-22 61-22 71-23 80-22 83-22 83-22 77-22 68-22 55-22 40-22 24-22 7-22-9-22-22-22-33z"/>
<path transform="translate(2720)" d="M-468 796l5 53 22 26 22 13 22-2 22-19 22-35 22-50 22-64 22-74 22-80 22-83 22-81 22-74 22-64 22-50 22-36-5 13-22 50-22 63-22 74-22 81-22 83-22 81-22 74-22 65-22 51-22 36-22 19-22 3-22-12-22-26z"/>
<path transform="translate(2724)" d="M-468 838l5 46 22 17 22 2 22-14 22-31 22-46 22-60 22-72 22-79 22-83 22-81 22-76 22-67 22-55 22-39 22-23-5 1-22 39-22 53-22 67-22 76-22 81-22 83-22 80-22 72-22 61-22 47-22 31-22 15-22-1-22-16z"/>
<path transform="translate(2729)" d="M-469 874l5 39 22 6 22-9 22-26 22-43 22-57 22-69 22-77 22-82 22-82 22-78 22-70 22-58 22-44 22-27 22-11-5-10-22 27-22 42-22 58-22 69-22 78-22 82-22 82-22 78-22 69-22 58-22 43-22 27-22 10-22-5z"/>
<path transform="translate(2733)" d="M-469 905l5 30 22-5 22-22 22-38 22-53 22-66 22-76 22-81 22-83 22-80 22-73 22-61 22-48 22-32 22-15 22 1-5-21-22 15-22 31-22 47-22 61-22 72-22 79-22 82-22 82-22 76-22 66-22 54-22 39-22 23-22 5z"/>
<path transform="translate(2737)" d="M-469 929l5 20 22-17 22-34 22-49 22-64 22-73 22-81 22-83 22-81 22-75 22-65 22-52 22-37 22-20 22-3 22 12-5-30-22 2-22 19-22 36-22 51-22 64-22 74-22 81-22 83-22 80-22 74-22 64-22 50-22 34-22 18z"/>
<path transform="translate(2742)" d="M-471 946l5 9 22-29 22-46 22-60 22-72 23-79 22-83 22-83 22-77 22-69 22-56 22-41 22-24 22-8 22 8 22 23-5-40-22-9-22 7-22 24-22 40-22 55-22 67-22 77-22 82-22 83-23 79-22 72-22 60-22 46-22 30z"/>
<path transform="translate(2746)" d="M-471 954l5-2 22-41 22-57 22-69 22-78 22-83 22-84 22-80 22-72 22-60 23-45 22-29 22-12 22 4 22 19 22 31-5-48-22-19-22-5-22 12-22 28-23 44-22 59-22 71-22 78-22 83-22 83-22 78-22 69-22 57-22 42z"/>
<path transform="translate(2750)" d="M-471 954l5-13 22-53 22-66 22-77 22-83 22-85 22-82 22-75 22-64 22-50 22-33 22-17 22 0 22 16 22 29 23 37-6-54-22-28-22-16-22-1-22 16-22 33-22 48-22 63-22 74-22 80-22 84-22 83-22 76-22 67-22 53z"/>
<path transform="translate(2755)" d="M-472 946l5-24 22-64 22-75 22-83 22-85 22-84 22-78 22-68 22-55 22-38 22-21 22-4 22 12 22 26 22 37 22 43-5-60-22-36-22-25-22-13-22 4-22 20-22 37-22 53-22 67-22 76-22 83-22 85-22 81-22 75-22 64z"/>
<path transform="translate(2759)" d="M-472 929l5-34 22-74 22-82 22-86 22-86 22-81 22-72 22-59 22-43 22-26 22-8 22 8 22 23 22 35 22 43 22 46-5-63-22-41-22-34-22-23-22-9-22 8-22 25-22 41-22 58-22 70-22 79-22 85-22 85-22 81-22 73z"/>
<path transform="translate(2763)" d="M-472 904l5-44 22-81 22-87 22-88 22-84 22-76 22-64 22-48 22-31 22-12 22 4 22 21 22 33 22 42 22 47 22 47-5-65-22-45-22-41-22-32-22-20-22-5-22 12-22 30-22 46-22 62-22 74-22 82-22 86-22 86-22 80z"/>
<path transform="translate(2768)" d="M-473 871l5-52 22-87 22-90 22-87 22-80 22-69 22-53 22-36 22-18 22 1 22 17 22 31 22 42 22 48 22 49 22 45-5-64-22-47-22-46-22-40-22-30-22-17-22-1-22 17-22 34-22 52-22 66-22 78-22 85-22 87-22 86z"/>
<path transform="translate(2772)" d="M-474 832l5-59 22-92 23-91 22-84 22-74 22-58 22-42 22-23 22-3 22 14 22 29 22 41 22 49 22 51 22 49 22 42-5-63-22-46-22-49-22-46-22-40-22-28-22-14-22 4-22 22-22 39-22 57-22 71-22 81-23 88-22 89z"/>
<path transform="translate(2776)" d="M-474 787l5-66 22-94 22-90 22-78 22-65 22-48 22-28 22-8 23 10 22 28 22 41 22 50 22 54 22 52 22 47 22 35-5-60-22-43-22-50-22-50-22-47-22-38-22-26-23-10-22 8-22 27-22 45-22 62-22 75-22 86-22 90z"/>
<path transform="translate(2779)" d="M-473 737l2-22 22-94 22-89 22-78 22-64 22-46 22-27 22-7 22 12 22 29 22 42 22 51 22 54 22 53 22 46 22 35-1-18-22-38-23-47-22-53-22-53-22-47-22-38-22-23-22-6-22 13-22 32-22 51-22 68-22 80-22 90z"/>
<path transform="translate(2784)" d="M-477 720l10-152 23-96 23-76 23-22 23-21-10 31-23 64-23 81-23 93z"/>
<path transform="translate(2784)" d="M-330 316l21 35 22 51 21 61 22 65 21 65 22 59 21 46 22 26 21-20-9-76-22-35-21-45-22-51-21-53-22-50-21-41-22-29-21-14-22 5z"/>
<path transform="translate(2790)" d="M-475 607l5-107 15-66 16-24 15-14-5 31-15 53-16 61z"/>
<path transform="translate(2790)" d="M-335 314l21 51 22 66 22 75 21 77 22 72 21 62 22 28 22-20-6-32-21-35-22-50-21-58-22-62-22-60-21-52-22-40-22-23z"/>
<path transform="translate(2794)" d="M-475 529l3-85 19-24-3 27z"/>
<path transform="translate(2794)" d="M-337 314l20 54 21 77 21 85 21 85 21 79 20 67 21-11-3-27-21-48-20-60-21-68-21-69-21-65-21-56-20-42z"/>
<path transform="translate(2796)" d="M-475 469l2-30 2-2-2 23z"/>
<path transform="translate(2796)" d="M-336 312l21 62 21 92 21 99 21 97 20 87 21 18-1-23-21-63-21-74-21-80-21-79-21-72-20-60z"/>
<path transform="translate(2797)" d="M-332 308l21 77 22 115 22 118 22 112 21 49-1-21-21-82-22-92-22-97-22-92-21-80z"/>
<path transform="translate(2797)" d="M-328 304l19 77 19 116 19 118 20 114 19 58-1-18-19-85-19-95-19-97-19-94-19-85z"/>
<path transform="translate(2798)" d="M-324 300l21 106 21 148 21 146 21 94-1-17-21-112-20-121-21-121-21-112z"/>
<path transform="translate(2798)" d="M-320 296l19 107 18 149 19 148 18 99 0-16-19-115-18-122-18-123-19-115z"/>
<path transform="translate(2799)" d="M-475 568l0 15 18-143 0-18z"/>
<path transform="translate(2799)" d="M-270 273l18 113 19 118 18 119 18 112 0 18-18-114-19-140-18-139-18-110z"/>
<path transform="translate(2799)" d="M-475 581l1 11 22-157 0-17z"/>
<path transform="translate(2799)" d="M-276 280l21 109 21 118 21 117 21 109 0 16-21-112-21-138-21-138-21-106z"/>
<path transform="translate(2799)" d="M-474 590l0 5 13-86 14-81-1-14-13 78z"/>
<path transform="translate(2799)" d="M-282 289l19 84 19 91 19 94 19 91 19 82-1 14-19-83-19-108-19-111-19-108-19-73z"/>
<path transform="translate(2800)" d="M-475 595l1-3 15-89 16-82-1-11-16 82z"/>
<path transform="translate(2800)" d="M-291 301l21 80 22 91 22 93 22 89 21 76-1 10-21-81-22-106-22-111-22-106-21-66z"/>
<path transform="translate(2801)" d="M-475 594l1-14 18-88 17-79-1-6-18 84z"/>
<path transform="translate(2801)" d="M-303 317l21 62 20 73 21 78 21 76 21 69 21 56-2 6-21-64-21-85-20-92-21-92-21-83-21-39z"/>
<path transform="translate(2803)" d="M-476 584l3-29 19-81 19-69-3-1-19 82z"/>
<path transform="translate(2803)" d="M-320 340l21 49 20 60 21 66 21 67 21 62 21 51 20 38-3 1-20-52-21-70-21-78-21-80-21-75-20-65-21-16z"/>
<path transform="translate(2806)" d="M-477 562l6-46 18-63 19-48-5 0-19 73z"/>
<path transform="translate(2806)" d="M-345 373l21 39 22 51 22 58 21 60 22 56 21 47 22 34 22 16-6 0-21-43-22-57-22-68-21-72-22-70-21-61-22-48-22 8z"/>
<path transform="translate(2813)" d="M-480 526l10-53 18-34 18-22-10-9-18 53z"/>
<path transform="translate(2813)" d="M-390 419l22 26 22 40 22 48 22 52 22 51 22 45 22 34 22 20 22 2 22-16-10 13-22-21-22-39-22-53-22-60-22-63-22-59-22-50-21-37-22-7-22 21z"/>
<path transform="translate(2818)" d="M-477 480l1-5 22-43 22-23 22-4 22 14 22 31 22 42 22 50 22 53 22 51 22 43 22 31 23 16 22-2 22-22 22-41-2 12-22 36-22 16-22-4-22-21-22-36-22-47-22-53-22-54-22-50-22-40-22-27-22-9-22 9-22 29z"/>
<path transform="translate(2820)" d="M-478 476l5-10 22-26 22-6 22 11 22 26 22 39 22 46 22 50 22 49 22 41 22 31 22 16 22-1 22-19 22-38 22-55-5 44-22 40-22 20-22 1-22-17-22-32-22-45-22-51-22-53-22-50-22-42-22-29-22-14-22 5-22 25z"/>
<path transform="translate(2825)" d="M-479 467l5 1 22-12 22 5 22 22 22 34 22 43 22 48 22 47 22 43 22 32 22 20 22 3 22-15 22-32 22-50 22-66-5 51-22 52-22 34-22 15-22-3-22-20-22-34-22-44-22-50-22-50-22-46-22-37-22-24-22-7-22 10z"/>
<path transform="translate(2829)" d="M-479 466l5 12 22 1 22 16 22 30 22 40 22 46 22 46 22 43 22 34 22 22 22 8 22-10 22-28 22-45 22-61 22-73-5 56-22 62-22 47-22 28-22 11-22-7-22-23-22-36-22-44-22-48-22-48-22-42-22-32-22-19-22-2z"/>
<path transform="translate(2833)" d="M-480 474l5 22 22 12 23 26 22 37 22 43 22 45 22 43 22 36 22 25 22 11 22-5 22-23 22-40 22-56 22-69 22-79-5 58-22 72-22 57-22 42-22 23-22 6-22-11-22-25-22-37-22-44-22-47-22-45-22-39-23-28-22-13z"/>
<path transform="translate(2838)" d="M-481 490l5 32 22 22 22 33 22 41 22 44 22 43 22 38 23 27 22 15 22-1 22-19 22-35 22-51 22-66 22-76 22-82-5 60-22 78-22 67-22 53-22 36-22 19-22 2-22-15-23-28-22-38-22-44-22-46-22-42-22-35-22-23z"/>
<path transform="translate(2842)" d="M-481 513l5 41 22 30 22 38 22 44 22 43 22 38 22 30 22 18 22 3 22-14 22-30 22-47 23-61 22-73 22-81 22-84-5 61-22 82-22 74-23 63-22 48-22 31-22 15-22-3-22-17-22-31-22-39-22-44-22-44-22-40-22-32z"/>
<path transform="translate(2846)" d="M-481 544l5 47 22 37 22 41 22 43 22 40 22 32 22 21 22 7 22-9 22-26 22-43 22-57 22-70 22-78 22-83 22-83-5 59-22 84-22 79-22 71-22 59-22 43-22 27-22 10-22-6-22-21-22-33-22-40-22-44-22-42-22-38z"/>
<path transform="translate(2851)" d="M-482 580l5 53 22 40 22 43 22 40 22 35 22 24 22 10 22-5 22-21 22-38 22-53 22-67 22-76 22-81 22-84 22-80-5 56-22 84-22 82-22 77-22 68-22 54-22 39-22 22-22 6-22-10-22-24-22-35-22-41-22-43-22-41z"/>
<path transform="translate(2855)" d="M-482 620l5 58 22 42 22 41 22 36 22 27 22 14 22-1 22-17 22-33 22-49 22-63 22-74 22-80 22-83 22-81 22-75-5 50-22 82-22 83-22 81-22 75-22 63-22 50-22 35-22 18-22 1-22-14-22-26-22-37-22-41-22-43z"/>
<path transform="translate(2859)" d="M-482 664l5 59 22 42 22 38 22 29 22 18 22 4 22-13 22-29 22-45 22-59 22-71 22-79 22-82 22-82 22-77 22-68-5 44-22 77-22 82-22 82-22 80-22 71-22 60-22 46-22 30-22 14-22-3-22-18-22-29-22-37-22-42z"/>
<path transform="translate(2863)" d="M-482 710l5 59 22 39 22 32 22 22 22 7 22-8 22-25 22-40 22-56 22-68 22-77 22-82 22-82 22-79 22-70 22-60-5 36-22 70-22 79-22 82-22 82-22 78-22 68-22 57-22 41-22 26-22 9-22-7-22-21-22-31-22-39z"/>
<path transform="translate(2868)" d="M-484 756l5 58 22 34 22 25 22 11 22-4 23-20 22-36 22-52 22-65 22-75 22-81 22-83 22-80 22-73 22-63 22-49-5 27-22 62-22 72-22 80-22 83-22 81-22 75-22 66-22 52-22 38-23 21-22 4-22-10-22-24-22-34z"/>
<path transform="translate(2872)" d="M-484 801l5 54 22 28 22 15 22 1 22-16 22-32 22-48 22-62 22-73 22-80 23-82 22-82 22-75 22-66 22-53 22-38-5 16-22 52-22 66-22 75-22 81-23 82-22 80-22 73-22 63-22 48-22 33-22 17-22 0-22-14-22-27z"/>
<path transform="translate(2876)" d="M-484 843l5 50 22 19 22 5 22-12 22-28 22-44 22-58 22-71 22-78 22-83 22-82 22-78 22-69 22-57 22-42 23-26-6 6-22 41-22 56-22 68-22 77-22 82-22 83-22 78-22 71-22 59-22 44-22 29-22 12-22-4-22-18z"/>
<path transform="translate(2881)" d="M-485 882l5 42 22 10 22-7 22-24 22-40 22-55 22-68 22-77 22-82 22-83 22-80 22-72 22-61 22-47 22-30 22-14-5-5-22 29-22 46-22 60-22 71-22 79-22 83-22 82-22 77-22 68-22 55-22 41-22 24-22 8-22-8z"/>
<path transform="translate(2885)" d="M-485 916l5 34 22-2 22-19 22-36 22-52 22-65 22-75 22-82 22-84 22-82 22-75 22-64 22-51 22-35 22-18 22-2-5-16-22 17-22 34-22 50-22 63-22 74-22 81-22 84-22 81-22 75-22 66-22 51-22 37-22 20-22 3z"/>
<path transform="translate(2889)" d="M-485 943l5 25 22-15 22-31 22-48 22-62 22-74 22-81 22-85 22-83 22-78 22-68 22-55 22-40 22-22 22-6 22 10-5-27-22 5-22 22-22 39-22 54-22 66-22 77-22 83-22 83-22 81-22 74-22 62-22 48-22 32-22 15z"/>
<path transform="translate(2894)" d="M-486 963l5 15 22-27 22-44 22-59 22-72 22-80 22-85 22-86 22-80 22-72 22-59 22-45 22-27 22-10 22 6 22 22-5-37-22-7-22 9-22 27-22 43-22 58-22 70-22 80-22 84-22 84-22 79-22 72-22 59-22 44-22 28z"/>
<path transform="translate(2898)" d="M-487 975l5 4 22-40 23-55 22-70 22-79 22-86 22-86 22-84 22-75 22-64 22-49 22-32 22-15 22 3 22 18 22 31-5-46-22-18-22-3-22 14-22 31-22 48-22 62-22 74-22 82-22 85-22 84-22 79-22 69-23 55-22 40z"/>
<path transform="translate(2902)" d="M-487 979l5-7 22-53 22-66 22-79 22-85 22-89 22-86 22-79 23-68 22-54 22-37 22-20 22-1 22 15 22 29 22 40-5-54-22-29-22-15-22 2-22 18-22 36-22 52-23 67-22 77-22 84-22 87-22 84-22 77-22 66-22 53z"/>
<path transform="translate(2907)" d="M-488 975l5-19 22-64 22-78 22-85 22-90 22-89 22-83 22-73 22-59 22-42 22-24 22-6 22 11 23 27 22 39 22 46-5-61-22-37-23-26-22-11-22 5-22 23-22 41-22 57-22 71-22 81-22 86-22 88-22 84-22 76-22 63z"/>
<path transform="translate(2911)" d="M-488 962l5-31 22-75 22-86 22-91 22-92 22-87 22-78 22-64 22-48 22-29 22-11 22 8 22 24 22 38 22 47 22 51-5-67-22-44-22-36-22-23-22-8-22 10-22 28-22 46-22 62-22 75-22 84-22 89-22 89-22 84-22 74z"/>
<path transform="translate(2915)" d="M-488 940l5-41 22-86 22-93 22-95 22-91 22-83 22-71 22-54 22-35 22-15 22 4 22 22 22 36 22 47 22 54 22 53-5-70-22-50-22-44-22-35-22-20-22-4-22 14-22 34-22 51-22 68-22 79-22 88-22 91-22 90-22 83z"/>
<path transform="translate(2918)" d="M-487 910l1-15 22-87 22-93 22-95 22-92 22-82 22-70 22-52 23-34 22-14 22 5 22 24 22 37 22 48 22 54 22 54-2-22-22-54-22-51-22-44-22-33-22-18-22 1-22 19-22 39-22 58-22 72-22 85-22 92-22 94-22 91z"/>
<path transform="translate(2923)" d="M-491 899l9-116 21-101 21-99 20-92 21-81 20-54 21-19 20-19-9 31-21 57-20 71-21 80-20 86-21 89-20 87z"/>
<path transform="translate(2923)" d="M-293 281l20 33 21 47 20 56 20 61 20 62 21 58 20 48-10-153-20-50-20-49-20-45-21-37-20-25-20-11-20 4z"/>
<path transform="translate(2929)" d="M-490 814l6-83 19-106 20-100 20-91 19-55 20-18-6 31-19 69-20 81-19 88-20 93z"/>
<path transform="translate(2929)" d="M-298 279l21 49 20 62 21 70 20 73 21 70 20 62 21 49-5-107-21-50-20-57-21-59-21-56-20-49-21-37-20-20z"/>
<path transform="translate(2933)" d="M-490 753l3-59 18-105 18-99 18-88 18-16-3 27-18 74-18 84-18 89z"/>
<path transform="translate(2933)" d="M-300 279l21 53 20 76 21 84 20 84 21 78 20 67 21-3-3-33-21-49-20-60-21-67-20-68-21-64-20-55-21-42z"/>
<path transform="translate(2935)" d="M-489 709l1-43 18-116 18-107 18-41-1 23-18 87-18 96z"/>
<path transform="translate(2935)" d="M-298 277l21 62 20 93 21 98 21 97 21 87 21 18-2-23-21-63-21-74-20-80-21-79-21-72-21-59z"/>
<path transform="translate(2936)" d="M-489 678l1-35 21-146 21-83-1 19-21 117z"/>
<path transform="translate(2936)" d="M-295 273l22 78 22 115 21 118 22 112 22 48-1-20-22-82-21-92-22-97-22-92-22-80z"/>
<path transform="translate(2937)" d="M-489 653l0-31 17-127 16-73-1 18-16 103z"/>
<path transform="translate(2937)" d="M-291 270l19 76 19 116 19 118 19 114 19 58-1-18-19-85-19-94-19-97-19-94-19-85z"/>
<path transform="translate(2937)" d="M-489 632l0-29 13-111 13-63 0 16-13 91z"/>
<path transform="translate(2937)" d="M-287 265l21 107 21 147 21 147 21 93 0-17-21-112-21-121-21-121-21-112z"/>
<path transform="translate(2937)" d="M-489 612l0-29 20-149 0 16z"/>
<path transform="translate(2937)" d="M-282 262l18 107 19 148 18 148 18 99 0-16-18-115-19-122-18-122-18-116z"/>
<path transform="translate(2938)" d="M-337 335l19 112 18 119 19 119 18 111 0 18-18-114-19-139-18-140-19-110z"/>
<path transform="translate(2938)" d="M-342 341l21 110 21 118 21 117 21 108-1 16-20-111-21-139-21-138-21-106z"/>
<path transform="translate(2938)" d="M-349 350l19 83 20 92 19 95 19 90 19 82-1 14-19-83-19-108-19-111-19-108-19-73z"/>
<path transform="translate(2939)" d="M-358 362l22 80 22 91 21 93 22 89 22 76-1 11-22-82-21-106-22-111-22-106-22-66z"/>
<path transform="translate(2940)" d="M-370 378l21 62 21 73 21 78 21 76 21 69 20 56-1 6-21-64-21-85-21-92-21-92-20-83-21-39z"/>
<path transform="translate(2942)" d="M-386 401l20 49 21 61 21 66 21 66 20 62 21 52 21 37-3 2-21-52-21-70-20-78-21-80-21-76-21-65-20-16z"/>
<path transform="translate(2945)" d="M-412 434l22 39 22 51 21 58 22 60 21 56 22 48 22 34 21 16-5-1-22-42-21-58-22-68-21-72-22-69-22-62-21-47-22 7z"/>
<path transform="translate(2952)" d="M-456 480l22 27 22 39 22 48 22 52 22 51 22 45 22 34 21 20 22 2 22-16-9 13-22-20-22-40-22-52-22-61-22-62-22-60-22-50-22-36-22-7-22 20z"/>
<path transform="translate(2952)" d="M-201 715l16-44 15-52 16-57-10 129-15 42-16 15-16 14z"/>
<path transform="translate(2957)" d="M-492 459l2 8 22 2 22 21 22 35 22 45 22 52 22 53 22 49 22 39 22 26 22 10 22-9 22-29 22-48 22-64 22-78-1 20-22 76-22 60-22 43-22 23-22 3-23-15-22-32-22-43-22-52-22-54-22-52-22-44-22-32-22-16z"/>
<path transform="translate(2959)" d="M-493 465l5 32 22 17 23 31 22 42 22 48 22 50 22 47 22 38 22 26 22 10 22-7 22-26 22-45 22-60 22-75 22-85-5 67-22 78-22 64-22 46-22 27-22 8-22-11-22-27-22-40-22-50-22-53-22-52-22-45-23-34-22-20z"/>
<path transform="translate(2964)" d="M-494 488l5 41 22 26 22 38 22 45 22 49 22 46 22 39 23 28 22 14 22-3 22-21 22-39 22-56 22-70 22-80 22-87-5 66-22 83-22 73-22 57-22 41-22 22-22 3-22-14-23-29-22-41-22-49-22-50-22-48-22-41-22-29z"/>
<path transform="translate(2968)" d="M-494 519l5 47 22 34 22 42 22 47 22 45 22 40 22 31 22 17 22 1 22-16 22-34 22-51 23-65 22-77 22-84 22-88-5 65-22 86-22 79-23 68-22 52-22 36-22 17-22-1-22-18-22-31-22-42-22-48-22-48-22-45-22-36z"/>
<path transform="translate(2972)" d="M-494 554l5 53 22 40 22 44 22 46 22 40 22 33 22 20 22 6 22-12 22-29 22-46 22-61 22-73 22-82 22-86 22-85-5 61-22 87-22 84-22 75-22 63-22 47-22 30-22 12-22-5-22-20-22-34-22-42-22-46-22-47-22-41z"/>
<path transform="translate(2977)" d="M-495 595l5 57 22 43 22 44 22 42 22 34 22 24 22 9 22-8 22-24 22-41 22-57 22-69 22-79 22-84 22-85 22-81-5 56-22 86-22 85-22 81-22 71-22 58-22 42-22 26-22 7-22-8-22-24-22-35-22-43-22-45-22-44z"/>
<path transform="translate(2981)" d="M-495 638l5 61 22 43 22 42 22 37 22 26 22 12 22-3 22-19 22-37 22-52 22-66 22-76 22-82 22-85 22-82 22-74-5 49-22 82-22 86-22 83-22 78-22 67-22 54-22 37-22 21-22 3-22-12-22-26-22-37-22-43-22-45z"/>
<path transform="translate(2985)" d="M-495 685l5 61 22 42 22 38 22 28 22 17 22 1 22-15 22-32 22-48 22-62 22-74 22-80 22-84 22-82 22-77 22-67-5 42-22 77-22 83-22 84-22 82-22 74-22 64-22 49-22 33-22 16-22-1-22-16-22-29-22-38-22-43z"/>
<path transform="translate(2990)" d="M-496 732l5 60 22 39 22 31 22 19 22 6 22-11 22-27 22-44 22-58 22-71 22-78 22-83 22-83 22-78 22-69 22-58-5 33-22 70-22 78-22 83-22 84-22 79-22 71-22 60-22 44-22 29-22 11-22-5-22-19-22-31-22-39z"/>
<path transform="translate(2994)" d="M-497 778l5 58 22 33 22 23 22 9 22-6 23-23 22-40 22-54 22-67 22-76 22-82 22-83 22-79 22-72 22-61 22-47-5 23-22 60-22 72-22 80-22 83-22 82-22 77-22 68-22 56-22 40-23 24-22 7-22-9-22-22-22-34z"/>
<path transform="translate(2998)" d="M-497 823l5 53 22 25 22 14 22-3 22-18 22-35 22-50 22-64 22-74 22-81 23-83 22-80 22-74 22-64 22-51 22-35-5 12-22 50-22 64-22 74-22 80-23 83-22 81-22 75-22 65-22 51-22 36-22 19-22 3-22-13-22-25z"/>
<path transform="translate(3003)" d="M-498 864l5 47 22 16 22 3 22-14 22-31 22-46 22-61 22-71 22-79 22-83 22-81 22-77 22-67 22-54 22-39 23-23-6 1-22 38-22 54-22 67-22 76-22 81-22 83-22 79-22 72-22 61-22 48-22 31-22 15-22-2-22-16z"/>
<path transform="translate(3007)" d="M-498 901l5 39 22 6 22-10 22-26 22-42 22-57 22-69 22-77 22-82 22-83 22-78 22-70 22-58 22-43 22-28 22-11-5-9-22 26-22 43-22 57-22 70-22 77-22 83-22 82-22 78-22 69-22 58-22 43-22 27-22 10-22-6z"/>
<path transform="translate(3011)" d="M-498 932l5 30 22-6 22-21 22-38 22-54 22-66 22-75 22-82 22-83 22-79 22-73 22-61 22-48 22-32 22-16 22 1-5-20-22 14-22 32-22 46-22 61-22 72-22 80-22 82-22 82-22 76-22 66-22 54-22 39-22 22-22 6z"/>
<path transform="translate(3015)" d="M-498 956l5 20 22-17 22-34 22-50 22-63 22-74 22-80 22-83 22-82 22-75 22-65 22-52 22-36 22-20 22-3 22 12-5-31-22 3-22 19-22 36-22 51-22 64-22 74-22 81-22 83-22 80-22 74-22 64-22 50-22 34-22 18z"/>
<path transform="translate(3020)" d="M-499 972l5 10 22-30 22-45 22-60 22-72 22-79 22-84 22-82 22-78 22-68 22-56 22-41 22-24 22-8 22 8 22 22-5-39-22-9-22 7-22 23-22 40-22 55-22 68-22 76-22 82-22 83-22 80-22 71-22 61-22 46-22 30z"/>
<path transform="translate(3024)" d="M-500 981l5-2 22-41 23-57 22-69 22-79 22-83 22-84 22-79 22-72 22-60 22-45 22-29 22-12 22 4 22 19 22 31-5-48-22-19-22-5-22 11-22 28-22 45-22 59-22 70-22 79-22 83-22 83-22 78-22 69-23 57-22 42z"/>
<path transform="translate(3028)" d="M-500 981l5-13 22-53 22-67 22-77 22-83 22-84 22-82 22-75 23-64 22-50 22-34 22-16 22 0 22 16 22 28 22 38-5-54-22-28-22-16-22-1-22 16-22 32-22 49-23 63-22 73-22 81-22 84-22 82-22 77-22 66-22 54z"/>
<path transform="translate(3033)" d="M-501 972l5-23 22-64 22-75 22-83 22-86 22-84 22-78 22-68 22-54 22-38 22-21 22-4 22 12 23 26 22 36 22 43-5-59-22-36-23-26-22-12-22 3-22 21-22 37-22 53-22 66-22 77-22 83-22 84-22 82-22 75-22 64z"/>
<path transform="translate(3037)" d="M-501 955l5-33 22-74 22-82 22-86 22-86 22-81 22-72 22-59 22-43 22-26 22-9 22 9 22 23 22 35 22 43 22 46-5-63-22-42-22-34-22-23-22-8-22 7-22 25-22 42-22 58-22 70-22 79-22 85-22 85-22 81-22 73z"/>
<path transform="translate(3041)" d="M-501 930l5-43 22-81 22-87 22-88 22-84 22-76 22-64 22-48 22-31 22-13 22 5 22 20 22 33 22 43 22 47 22 47-5-65-22-45-22-41-22-33-22-20-22-5-22 13-22 29-22 47-22 62-22 74-22 82-22 86-22 86-22 80z"/>
<path transform="translate(3046)" d="M-502 898l5-52 22-88 22-89 22-88 22-80 22-68 22-53 22-36 22-18 22 0 22 18 22 31 22 42 22 48 22 49 22 45-5-64-22-47-22-46-22-40-22-31-22-17-22 0-22 16-22 35-22 52-22 66-22 77-22 85-22 88-22 86z"/>
<path transform="translate(3050)" d="M-502 859l5-60 22-92 22-90 22-85 22-73 22-59 22-41 22-23 22-4 22 14 22 30 22 41 22 49 22 51 22 49 22 42-5-64-22-46-22-48-22-47-22-39-22-28-22-14-22 4-22 21-22 40-22 57-22 71-22 81-22 88-22 89z"/>
<path transform="translate(3054)" d="M-503 814l6-67 22-94 22-89 22-79 22-65 22-47 22-28 22-8 22 10 22 28 22 40 22 50 22 54 22 53 22 47 22 35-5-61-22-43-22-49-22-50-22-47-22-39-22-26-22-10-22 8-22 27-22 45-22 62-22 76-22 85-22 91z"/>
<path transform="translate(3057)" d="M-502 764l2-22 22-94 22-89 22-78 22-64 22-46 22-27 22-7 22 12 22 29 22 42 22 50 22 55 22 53 22 46 22 35-1-19-22-37-22-48-22-52-22-53-22-47-22-38-22-23-22-6-22 12-23 33-22 51-22 67-22 81-22 90z"/>
<path transform="translate(3062)" d="M-505 747l9-152 23-96 23-77 23-21 23-21-9 30-23 65-23 81-23 93z"/>
<path transform="translate(3062)" d="M-359 343l21 35 22 50 21 61 22 66 21 65 22 58 21 47 22 25 21-20-9-76-22-34-21-45-22-52-21-52-22-50-21-41-22-29-21-14-22 4z"/>
<path transform="translate(3068)" d="M-504 634l5-107 16-66 15-24 16-15-6 31-15 54-16 61z"/>
<path transform="translate(3068)" d="M-364 341l22 51 21 66 22 75 21 77 22 72 22 62 21 28 22-20-5-32-22-36-22-49-21-58-22-62-22-60-21-53-22-40-21-22z"/>
<path transform="translate(3072)" d="M-504 556l3-85 20-24-3 27z"/>
<path transform="translate(3072)" d="M-366 341l21 54 20 77 21 84 21 85 21 79 21 67 20-10-3-27-20-48-21-61-21-67-21-69-21-65-20-56-21-42z"/>
<path transform="translate(3074)" d="M-504 496l2-31 2-2-2 23z"/>
<path transform="translate(3074)" d="M-365 338l21 62 21 93 21 99 21 96 21 88 21 18-2-24-21-62-21-74-21-80-21-79-20-73-21-59z"/>
<path transform="translate(3075)" d="M-361 335l22 77 21 115 22 118 22 112 22 48-1-20-22-82-22-93-22-96-21-92-22-80z"/>
<path transform="translate(3076)" d="M-357 331l19 77 19 115 19 119 19 114 19 58-1-18-19-86-19-94-19-97-19-94-19-85z"/>
<path transform="translate(3076)" d="M-353 327l21 106 21 147 21 147 21 93 0-16-21-112-21-121-21-121-21-112z"/>
<path transform="translate(3076)" d="M-349 323l19 107 18 148 19 148 18 100 0-16-18-115-19-123-18-122-19-115z"/>
<path transform="translate(3077)" d="M-504 594l1 16 18-143-1-18z"/>
<path transform="translate(3077)" d="M-299 300l18 112 19 119 18 119 19 112-1 17-18-114-18-139-19-139-18-110z"/>
<path transform="translate(3077)" d="M-504 608l1 10 22-157 0-16z"/>
<path transform="translate(3077)" d="M-304 307l20 109 21 118 21 117 21 108 0 17-21-112-21-138-21-139-21-105z"/>
<path transform="translate(3077)" d="M-503 617l0 5 14-86 13-81-1-14-13 78z"/>
<path transform="translate(3077)" d="M-311 316l19 83 19 92 19 94 19 91 19 81 0 14-19-83-19-108-19-111-19-107-19-74z"/>
<path transform="translate(3078)" d="M-504 622l1-3 16-89 15-83-1-10-15 82z"/>
<path transform="translate(3078)" d="M-320 327l22 81 21 90 22 94 22 88 22 77-1 10-22-81-22-107-22-110-21-106-22-66z"/>
<path transform="translate(3079)" d="M-504 620l1-13 18-89 18-79-2-6-18 84z"/>
<path transform="translate(3079)" d="M-332 343l21 63 21 73 20 77 21 77 21 69 21 55-2 6-20-63-21-86-21-92-21-91-21-84-21-39z"/>
<path transform="translate(3081)" d="M-505 610l3-28 19-81 19-69-3-1-19 82z"/>
<path transform="translate(3081)" d="M-349 367l21 49 21 60 20 66 21 67 21 61 21 52 21 37-3 2-21-52-21-70-21-78-21-80-20-75-21-66-21-15z"/>
<path transform="translate(3084)" d="M-506 589l6-46 19-63 18-48-5 0-19 72z"/>
<path transform="translate(3084)" d="M-374 399l21 40 22 51 22 58 21 60 22 56 22 47 21 34 22 16-6 0-21-43-22-58-21-68-22-71-22-70-21-61-22-48-21 8z"/>
<path transform="translate(3091)" d="M-508 552l9-53 18-34 18-21-10-9-18 53z"/>
<path transform="translate(3091)" d="M-419 445l22 27 22 39 22 48 22 52 22 51 22 45 22 35 22 19 22 3 22-17-10 13-22-20-22-39-22-53-22-60-21-63-22-59-22-51-22-36-22-7-22 20z"/>
<path transform="translate(3096)" d="M-506 507l1-6 22-42 22-23 22-4 23 14 22 30 22 43 22 50 22 53 22 50 22 44 22 31 22 16 22-2 22-22 22-41-2 12-22 36-22 16-22-4-22-21-22-37-22-47-22-53-22-53-22-50-22-40-22-27-22-10-22 10-22 29z"/>
<path transform="translate(3098)" d="M-507 503l5-11 22-25 22-7 22 11 22 27 22 38 22 47 22 50 22 48 22 42 22 31 22 16 22-1 22-19 22-38 22-56-5 45-22 40-22 20-22 1-22-17-22-33-22-44-22-51-22-53-22-50-22-42-22-30-22-13-22 5-22 25z"/>
<path transform="translate(3103)" d="M-508 493l5 1 22-12 22 6 22 22 22 34 22 43 22 48 22 47 22 42 22 33 22 19 22 4 22-15 22-33 22-50 22-65-5 50-22 52-22 34-22 16-22-4-22-20-22-34-22-44-22-49-22-51-22-46-22-37-22-23-22-8-22 11z"/>
<path transform="translate(3107)" d="M-508 493l5 12 22 0 22 17 22 30 22 40 22 45 22 47 22 42 22 35 22 22 22 7 22-10 22-27 22-45 22-61 22-73-5 55-22 63-22 46-22 29-22 11-22-8-22-22-22-36-22-44-22-48-22-48-22-42-22-32-22-19-22-2z"/>
<path transform="translate(3111)" d="M-508 501l5 22 22 12 22 26 22 36 22 44 22 45 22 43 22 36 22 25 22 11 22-5 22-23 22-40 22-56 22-70 22-79-5 59-22 71-22 58-22 41-22 24-22 6-22-11-22-25-22-37-22-45-22-47-22-45-22-38-22-28-22-13z"/>
<path transform="translate(3116)" d="M-509 517l5 32 22 21 22 34 22 41 22 44 22 43 22 37 22 28 22 15 22-2 22-18 22-35 22-52 22-65 22-76 22-83-5 61-22 78-22 67-22 52-22 37-22 19-22 2-22-15-22-28-22-38-22-44-22-46-22-42-22-35-22-24z"/>
<path transform="translate(3120)" d="M-510 540l5 41 22 30 22 38 22 43 22 43 23 39 22 30 22 18 22 3 22-14 22-30 22-47 22-62 22-73 22-80 22-84-5 60-22 82-22 75-22 62-22 48-22 32-22 14-22-2-22-18-22-30-23-39-22-44-22-45-22-40-22-31z"/>
<path transform="translate(3124)" d="M-510 570l5 48 22 36 22 42 22 43 22 40 22 32 22 21 22 7 22-10 22-26 23-42 22-57 22-70 22-78 22-83 22-84-5 59-22 84-22 80-22 71-22 58-23 44-22 27-22 10-22-7-22-21-22-32-22-40-22-44-22-43-22-37z"/>
<path transform="translate(3129)" d="M-511 606l5 54 22 40 22 43 22 40 22 34 22 24 22 11 22-5 22-21 22-38 22-54 22-66 22-76 22-82 22-83 23-80-6 56-22 83-22 83-22 77-22 67-22 55-22 39-22 22-22 5-22-10-22-24-22-34-22-41-22-43-22-41z"/>
<path transform="translate(3133)" d="M-511 647l5 57 22 42 22 42 22 36 22 26 22 15 22-1 22-17 22-33 22-50 22-63 22-73 22-80 22-83 22-81 22-75-5 50-22 82-22 83-22 81-22 74-22 64-22 50-22 35-22 17-22 2-22-14-22-27-22-36-22-41-22-43z"/>
<path transform="translate(3137)" d="M-511 691l5 59 22 42 22 38 22 29 22 18 22 3 22-12 22-29 22-45 22-60 22-70 22-79 22-83 22-82 22-76 22-68-5 43-22 77-22 82-22 83-22 79-22 72-22 60-22 46-22 30-22 13-22-2-22-18-22-29-22-38-22-42z"/>
<path transform="translate(3142)" d="M-512 736l5 60 22 39 22 32 22 21 22 8 22-8 22-25 22-41 22-55 22-68 22-77 22-82 22-82 22-79 22-71 22-59-5 36-22 70-22 79-22 82-22 82-22 77-22 69-22 56-22 42-22 26-22 9-22-7-22-21-22-32-22-39z"/>
<path transform="translate(3146)" d="M-512 782l5 59 22 34 22 24 22 12 22-4 22-20 22-37 22-52 22-65 22-75 22-81 22-82 22-80 22-73 22-63 22-49-5 26-22 62-22 73-22 80-22 83-22 81-22 75-22 65-22 53-22 37-22 22-22 4-22-11-22-24-22-33z"/>
<path transform="translate(3150)" d="M-513 827l5 55 22 28 23 15 22 1 22-16 22-32 22-49 22-61 22-73 22-80 22-83 22-81 22-76 22-66 22-53 22-37-5 16-22 52-22 65-22 75-22 81-22 83-22 80-22 73-22 62-22 49-22 33-22 17-22 0-23-15-22-27z"/>
<path transform="translate(3155)" d="M-514 870l5 49 22 19 22 5 22-11 22-28 22-44 22-59 22-70 23-78 22-83 22-83 22-77 22-69 22-57 22-42 22-26-5 5-22 41-22 56-22 69-22 77-22 82-22 82-23 79-22 70-22 59-22 45-22 29-22 12-22-4-22-18z"/>
<path transform="translate(3159)" d="M-514 909l5 42 22 9 22-6 22-24 22-40 22-55 22-68 22-77 22-82 22-84 22-80 22-72 22-60 23-47 22-30 22-14-5-5-22 29-23 46-22 59-22 72-22 79-22 82-22 83-22 77-22 68-22 55-22 41-22 24-22 8-22-9z"/>
<path transform="translate(3163)" d="M-514 942l5 34 22-2 22-19 22-35 22-52 22-65 22-75 22-82 22-85 22-81 22-75 22-65 22-51 22-35 22-18 22-1-5-16-22 17-22 34-22 50-22 63-22 74-22 81-22 83-22 82-22 75-22 65-22 52-22 37-22 19-22 3z"/>
<path transform="translate(3167)" d="M-514 970l5 24 22-14 22-31 22-48 22-62 22-74 22-81 22-85 22-83 22-78 22-68 22-56 22-39 22-23 22-5 22 10-5-27-22 5-22 22-22 38-22 54-22 67-22 77-22 82-22 84-22 81-22 73-22 63-22 48-22 32-22 15z"/>
<path transform="translate(3172)" d="M-515 990l5 14 22-27 22-43 22-60 22-71 22-81 22-85 22-85 22-80 22-72 22-60 22-44 22-27 22-10 22 6 22 22-5-37-22-7-22 9-22 26-22 43-22 59-22 70-22 79-22 84-22 84-22 80-22 71-22 59-22 45-22 27z"/>
<path transform="translate(3176)" d="M-515 1002l5 4 22-40 22-56 22-69 22-80 22-85 22-87 22-83 22-76 22-63 22-49 22-33 22-14 22 2 22 19 22 31-5-46-22-18-22-3-22 14-22 31-22 47-22 63-22 74-22 81-22 86-22 84-22 78-22 69-22 56-22 40z"/>
<path transform="translate(3180)" d="M-516 1006l6-8 22-52 22-67 22-78 22-86 22-88 22-86 22-79 22-68 22-54 22-38 22-19 22-1 22 15 22 29 22 39-5-54-22-28-22-15-22 1-22 19-22 36-22 52-22 66-22 78-22 84-22 86-22 84-22 78-22 66-22 52z"/>
<path transform="translate(3185)" d="M-517 1002l5-19 22-65 22-77 22-85 22-90 22-89 23-83 22-73 22-59 22-42 22-25 22-5 22 11 22 27 22 38 22 47-5-61-22-37-22-26-22-11-22 5-22 23-22 41-22 57-22 71-22 81-23 86-22 88-22 84-22 75-22 64z"/>
<path transform="translate(3189)" d="M-517 988l5-30 22-75 22-86 22-91 22-92 22-87 22-78 22-64 22-48 22-30 22-10 23 8 22 24 22 38 22 46 22 51-5-66-22-44-22-36-22-24-23-7-22 10-22 28-22 46-22 62-22 75-22 84-22 89-22 89-22 83-22 74z"/>
<path transform="translate(3193)" d="M-517 966l5-40 22-86 22-93 22-95 22-92 22-83 22-70 22-54 22-35 22-15 22 4 22 21 22 37 22 47 22 53 22 54-5-71-22-49-22-45-22-34-22-21-22-3-22 14-22 34-22 51-22 67-22 80-22 88-22 91-22 90-22 83z"/>
<path transform="translate(3196)" d="M-516 936l1-14 23-87 22-94 22-95 22-91 22-83 22-69 22-53 22-33 22-14 22 5 22 23 22 38 22 48 22 54 22 54-2-23-22-53-22-51-22-45-22-33-22-17-22 0-22 20-22 39-22 57-22 73-22 85-22 91-22 94-22 91z"/>
<path transform="translate(3201)" d="M-520 925l10-115 20-101 21-100 20-92 21-80 21-54 20-19 21-19-10 31-20 57-21 70-21 81-20 86-21 89-20 86z"/>
<path transform="translate(3201)" d="M-322 308l21 33 20 46 20 56 20 62 21 62 20 57 20 49-9-153-21-50-20-49-20-45-21-37-20-25-20-12-20 5z"/>
<path transform="translate(3207)" d="M-519 841l6-84 19-105 20-100 20-91 19-55 20-18-5 31-20 69-20 81-19 88-20 92z"/>
<path transform="translate(3207)" d="M-327 306l21 48 20 62 21 71 21 73 20 70 21 62 20 49-5-107-21-50-20-57-21-59-20-56-21-49-20-37-21-21z"/>
<path transform="translate(3211)" d="M-518 779l3-59 17-104 18-99 18-88 18-16-3 27-18 74-18 83-18 90z"/>
<path transform="translate(3211)" d="M-329 306l21 53 20 76 21 83 20 84 21 79 20 67 21-4-3-33-21-48-20-61-21-66-20-68-21-65-20-55-21-41z"/>
<path transform="translate(3213)" d="M-518 736l2-44 18-115 18-107 17-41-1 23-18 87-18 96z"/>
<path transform="translate(3213)" d="M-327 304l21 62 21 92 20 99 21 97 21 87 21 18-2-23-21-63-20-74-21-80-21-79-21-72-21-60z"/>
<path transform="translate(3214)" d="M-518 704l1-35 21-145 21-84-1 20-21 117z"/>
<path transform="translate(3214)" d="M-324 300l22 78 22 115 22 118 21 112 22 48-1-21-22-81-21-93-22-96-22-92-21-80z"/>
<path transform="translate(3215)" d="M-518 680l0-31 17-127 16-73 0 17-17 104z"/>
<path transform="translate(3215)" d="M-320 296l19 77 19 116 19 118 19 114 19 58 0-18-19-85-19-95-19-97-19-94-19-85z"/>
<path transform="translate(3215)" d="M-518 658l1-29 12-110 13-64 0 17-13 91z"/>
<path transform="translate(3215)" d="M-315 292l21 106 20 148 21 146 21 94 0-17-21-112-21-121-21-121-21-112z"/>
<path transform="translate(3215)" d="M-517 638l0-29 20-149-1 16z"/>
<path transform="translate(3215)" d="M-311 288l18 107 19 149 18 148 19 99-1-16-18-115-18-122-19-123-18-115z"/>
<path transform="translate(3216)" d="M-365 361l18 113 19 119 18 118 18 112 0 18-18-114-19-139-18-140-18-110z"/>
<path transform="translate(3216)" d="M-371 368l21 110 21 117 21 118 21 108 0 16-21-112-21-138-21-138-21-106z"/>
<path transform="translate(3216)" d="M-377 376l19 84 19 92 19 94 19 91 19 82-1 14-19-83-19-109-19-111-19-107-19-73z"/>
<path transform="translate(3217)" d="M-386 389l21 80 22 90 22 94 21 88 22 76-1 12-22-82-21-107-22-110-22-106-21-66z"/>
<path transform="translate(3218)" d="M-398 405l20 62 21 73 21 78 21 76 21 68 21 56-2 7-21-64-21-86-21-92-20-91-21-83-21-39z"/>
<path transform="translate(3220)" d="M-415 428l20 49 21 60 21 66 21 67 21 62 20 51 21 38-3 1-21-51-20-70-21-79-21-79-21-76-20-65-21-16z"/>
<path transform="translate(3223)" d="M-440 461l21 39 22 51 21 58 22 60 22 56 21 47 22 34 22 16-6 0-21-43-22-57-22-68-21-72-22-70-22-61-21-47-22 7z"/>
<path transform="translate(3230)" d="M-485 507l22 26 22 40 22 48 22 52 22 51 22 45 22 34 22 20 22 2 22-16-10 13-22-21-22-39-22-52-22-61-22-63-22-59-22-50-22-37-21-7-22 21z"/>
<path transform="translate(3230)" d="M-230 741l16-44 15-51 16-58-10 130-15 42-16 14-15 15z"/>
<path transform="translate(3235)" d="M-521 485l2 8 22 3 22 20 22 35 22 46 22 52 22 53 22 48 22 40 22 26 22 9 22-9 22-28 22-48 22-64 22-79-1 21-22 76-22 60-22 43-22 22-22 4-22-16-22-31-22-44-22-51-22-54-22-52-22-44-23-32-22-16z"/>
<path transform="translate(3237)" d="M-521 491l5 33 22 16 22 32 22 42 22 48 22 50 22 46 22 39 22 26 22 10 22-7 22-26 22-45 22-61 22-74 22-85-5 67-22 78-22 63-22 47-22 27-22 8-22-11-22-27-22-41-22-49-22-53-22-52-22-45-22-35-22-19z"/>
<path transform="translate(3242)" d="M-522 515l5 40 22 27 22 38 22 45 22 48 22 46 22 40 22 28 22 14 22-3 22-21 22-39 22-56 22-70 22-81 22-87-5 66-22 84-22 72-22 58-22 41-22 22-22 3-22-14-22-30-22-41-22-48-22-51-22-48-22-40-22-29z"/>
<path transform="translate(3246)" d="M-523 545l5 48 22 33 22 41 21 46 22 45 22 40 21 31 22 18 21 4 22-13 22-31 21-46 22-62 21-73 22-82 22-85 4 3-3 37-22 87-22 79-22 67-22 53-22 35-22 17-22-1-22-17-22-32-23-41-22-48-22-48-22-45-22-36z"/>
<path transform="translate(3250)" d="M-523 581l5 53 23 40 22 46 22 45 23 42 22 32 23 19 22 4 22-14 23-32 22-50 23-64 22-77 22-84 23-88 9 8-22 86-22 82-22 74-22 60-21 46-22 28-22 11-22-6-22-21-22-33-21-43-22-46-22-46-22-40z"/>
<path transform="translate(3255)" d="M-524 621l5 58 22 42 21 43 22 42 22 34 21 24 22 10 22-5 21-22 22-38 21-53 22-66 22-76 21-82 22-84 9 7-23 89-22 85-23 76-23 64-22 48-23 30-22 12-23-6-23-22-22-35-23-43-23-47-22-46z"/>
<path transform="translate(3259)" d="M-524 665l5 61 22 44 23 43 22 36 23 26 22 11 23-4 22-23 23-40 22-56 23-69 22-79 23-85 22-86 9 6-22 85-22 82-22 76-21 66-22 52-22 37-22 19-22 3-22-13-22-27-21-36-22-43-22-44z"/>
<path transform="translate(3263)" d="M-524 711l5 62 22 41 21 37 22 29 21 17 22 2 22-13 21-30 22-45 22-59 21-71 22-78 22-82 21-81 9 5-23 87-22 86-23 80-23 69-22 55-23 38-23 20-23 2-22-15-23-28-23-38-22-45z"/>
<path transform="translate(3268)" d="M-525 759l5 60 22 39 23 32 22 19 23 4 23-13 22-30 23-47 22-62 23-74 22-82 23-85 22-84 9 5-22 83-21 83-22 78-22 70-22 59-22 43-22 28-22 11-22-5-22-20-22-31-21-39z"/>
<path transform="translate(3272)" d="M-525 805l5 57 21 33 22 23 22 10 21-6 22-21 22-37 21-52 22-65 22-74 21-80 22-81 22-80 8 5-22 85-23 86-23 83-23 73-23 62-22 45-23 28-23 10-23-7-23-22-23-34z"/>
<path transform="translate(3276)" d="M-526 850l5 52 23 27 23 13 22-4 23-20 23-39 22-54 23-68 23-78 22-83 23-85 23-82 9 4-22 81-22 83-22 80-22 74-22 64-22 51-22 35-22 19-22 3-22-13-22-25z"/>
<path transform="translate(3281)" d="M-527 891l5 46 22 17 22 2 21-13 22-29 22-44 21-59 22-69 22-78 21-81 22-80 22-76 9 3-23 83-23 86-23 85-23 78-23 67-23 53-23 36-23 18-23 0-23-16z"/>
<path transform="translate(3285)" d="M-527 928l5 38 23 7 23-11 23-29 22-45 23-61 23-73 23-82 22-85 23-84 23-79 9 3-22 78-22 82-22 82-22 78-22 69-22 57-22 43-22 26-22 11-22-6z"/>
<path transform="translate(3289)" d="M-527 958l5 30 22-5 21-21 22-37 22-51 22-65 21-74 22-80 22-81 21-79 22-73 9 3-23 80-23 86-23 86-23 82-23 73-24 59-23 44-23 25-23 8z"/>
<path transform="translate(3294)" d="M-528 982l5 20 23-18 23-36 23-53 23-67 23-79 22-85 23-86 23-83 23-75 9 3-22 74-22 81-22 82-22 81-22 74-22 63-22 50-22 35-22 18z"/>
<path transform="translate(3298)" d="M-528 999l5 9 22-29 21-44 22-59 22-70 21-78 22-82 22-82 22-77 21-69 9 3-21 68-21 76-21 79-21 78-20 74-21 66-21 55-21 42-21 28z"/>
<path transform="translate(3302)" d="M-528 1007l5-1 23-44 23-61 23-74 23-83 23-88 23-87 23-81 23-71 9 2-22 70-22 79-22 83-22 83-22 79-22 69-22 57-22 43z"/>
<path transform="translate(3306)" d="M-529 1007l6-12 21-53 22-65 22-76 22-82 21-84 22-81 22-75 22-64 9 2-21 64-21 73-21 79-21 79-21 77-21 72-21 61-21 50z"/>
<path transform="translate(3311)" d="M-530 999l5-24 21-58 20-69 21-76 20-79 20-79 21-75 20-68 21-57 9 2-23 66-22 77-22 83-22 85-22 82-22 76-22 64z"/>
<path transform="translate(3315)" d="M-530 982l5-34 22-72 22-82 22-85 21-85 22-81 22-72 22-59 9 2-21 60-21 70-21 77-21 80-20 80-21 76-21 68z"/>
<path transform="translate(3319)" d="M-530 957l5-43 20-75 21-80 20-81 20-79 20-73 21-63 20-52 9 2-22 61-23 74-22 83-22 87-22 86-23 82z"/>
<path transform="translate(3324)" d="M-531 925l5-52 22-87 22-89 22-87 21-80 22-68 22-54 9 3-21 54-20 66-21 76-21 81-21 82-20 81z"/>
<path transform="translate(3328)" d="M-531 886l5-60 20-84 20-83 20-78 20-71 20-59 20-46 9 4-22 56-23 71-22 82-22 89-23 91z"/>
<path transform="translate(3332)" d="M-531 841l5-67 22-94 22-88 22-79 21-65 22-48 9 6-20 48-21 62-21 74-20 81-21 85z"/>
<path transform="translate(3335)" d="M-530 790l1-21 22-93 22-88 21-78 22-63 22-47 2 2-22 50-23 68-22 82-23 92z"/>
<path transform="translate(3340)" d="M-534 774l9-153 21-87 21-73 21-27 20-19 6-9-6 31-23 65-23 81-23 92z"/>
<path transform="translate(3346)" d="M-533 661l5-108 16-66 15-24 16-14-6 31-15 53-15 61z"/>
<path transform="translate(3350)" d="M-533 583l3-85 20-24-3 27z"/>
<path transform="translate(3352)" d="M-533 523l2-31 2-2-1 23z"/>
<path transform="translate(3355)" d="M-532 621l0 16 18-144 0-17z"/>
<path transform="translate(3355)" d="M-532 634l0 11 22-157 0-16z"/>
<path transform="translate(3355)" d="M-532 644l0 5 14-87 13-80 0-14-14 77z"/>
<path transform="translate(3356)" d="M-533 648l1-2 16-90 15-82-1-10-15 82z"/>
<path transform="translate(3357)" d="M-533 647l2-13 17-89 18-79-2-6-17 84z"/>
<path transform="translate(3359)" d="M-534 637l3-28 19-81 19-69-3-1-19 81z"/>
<path transform="translate(3363)" d="M-535 615l5-46 17-57 17-47 2-7-4 1-19 72z"/>
<path transform="translate(3369)" d="M-537 579l9-53 11-22 8-19 8-24-18 53z"/>
<path transform="translate(3374)" d="M-535 534l2-6 12-27 3-6z"/>
<path transform="translate(3377)" d="M-537 529l5-10 9-19z"/>
<path transform="translate(3379)" d="M-535 520l1-1 2-4z"/></g></g>
<g><path d="M1026 490.3L1422.6 532.8" stroke="#262626" stroke-width="1.0"/><path d="M1422.6 532.8L1528.3 373.8" stroke="#262626" stroke-width="1.0"/><path d="M1026 490.3L1026 204.8" stroke="#262626" stroke-width="1.0"/><path d="M1026 490.3L1020.5 498.5" stroke="#262626" stroke-width="1.0"/><path d="M1224.3 511.5L1218.8 519.8" stroke="#262626" stroke-width="1.0"/><path d="M1422.6 532.8L1417.1 541" stroke="#262626" stroke-width="1.0"/><path d="M1422.6 532.8L1432.5 533.8" stroke="#262626" stroke-width="1.0"/><path d="M1475.4 453.3L1485.4 454.3" stroke="#262626" stroke-width="1.0"/><path d="M1528.3 373.8L1538.2 374.8" stroke="#262626" stroke-width="1.0"/><path d="M1026 425.8L1015.7 424.7" stroke="#262626" stroke-width="1.0"/><path d="M1026 346.6L1015.7 345.5" stroke="#262626" stroke-width="1.0"/><path d="M1026 267.4L1015.7 266.3" stroke="#262626" stroke-width="1.0"/></g>
<g><path d="M124 1182.3L230.7 1023.6" stroke="#dfdfdf" stroke-width="1.0"/><path d="M322.6 1203.4L429.3 1044.7" stroke="#dfdfdf" stroke-width="1.0"/><path d="M521.2 1224.5L627.9 1065.8" stroke="#dfdfdf" stroke-width="1.0"/><path d="M124 1182.3L521.2 1224.5" stroke="#dfdfdf" stroke-width="1.0"/><path d="M177.3 1102.9L574.6 1145.1" stroke="#dfdfdf" stroke-width="1.0"/><path d="M230.7 1023.6L627.9 1065.8" stroke="#dfdfdf" stroke-width="1.0"/><path d="M230.7 1023.6L230.7 737.5" stroke="#dfdfdf" stroke-width="1.0"/><path d="M429.3 1044.7L429.3 758.6" stroke="#dfdfdf" stroke-width="1.0"/><path d="M627.9 1065.8L627.9 779.7" stroke="#dfdfdf" stroke-width="1.0"/><path d="M230.7 958.7L627.9 1000.9" stroke="#dfdfdf" stroke-width="1.0"/><path d="M230.7 879L627.9 921.2" stroke="#dfdfdf" stroke-width="1.0"/><path d="M230.7 799.3L627.9 841.5" stroke="#dfdfdf" stroke-width="1.0"/><path d="M124 1182.3L124 896.2" stroke="#dfdfdf" stroke-width="1.0"/><path d="M177.3 1102.9L177.3 816.8" stroke="#dfdfdf" stroke-width="1.0"/><path d="M230.7 1023.6L230.7 737.5" stroke="#dfdfdf" stroke-width="1.0"/><path d="M124 1117.4L230.7 958.7" stroke="#dfdfdf" stroke-width="1.0"/><path d="M124 1037.7L230.7 879" stroke="#dfdfdf" stroke-width="1.0"/><path d="M124 958L230.7 799.3" stroke="#dfdfdf" stroke-width="1.0"/></g>
<g transform="scale(0.5)"><g fill="none" stroke-width="2.2" stroke-linejoin="round"><path d="M310 2371l73-94-3-7 1-10 54-63 116-140M591 2061l-11 16 1 8-1 9-92 109-140 172M421 2383l48-63 14-15 17-16 10-16 33-30 67-78 77-94M726 2075l-17 15-10 16-17 16-26 28-106 128-90 109M559 2398l86-110-2-5-12 6 0-3 66-78 103-125M841 2087l-12 16 2 3 12-6 0 5-40 46-78 94-127 157M671 2409l36-47-6-1 3-16 18-14 8 0 34-31 6-16 19-15 2 0 15-15 53-63 78-93M970 2101l-7 16-17 16-15 15-12 16-15 15-14 16-104 125-76 94M809 2424l85-110 0-17 79-93 77-94M1106 2116l-41 46-65 78-153 188M920 2436l48-63 15-15 10-16 34-31 21-22 35-40 104-125M1226 2128l-17 16-15 15-12 16-21 21-99 119-103 125M604 2317l-2 2 3-5-1 3M870 2329l-4 2 1-3 6-7-3 8M399 2254l-10 15 10-15M480 2049l-34 30-13 16-12 13M608 2063l-12 12 4-13M1091 2114l3 4 9-3" stroke="#1e8fff"/><path d="M300 2370l63-78-1-17 179-219M612 2063l-254 313M412 2382l25-31 27-32 34-30 10-16 17-15 153-188M728 2076l-16 15-11 16-28 31-203 250M549 2397l51-63-2-9 0-8 24-27 168-208M862 2090l-254 313M662 2408l38-46 4-17 18-14 6-1 33-30 9-16 17-15 140-172M970 2101l-5 17-17 15-228 282M799 2423l63-78-1-6-12 4 191-234M1111 2116l-254 313M911 2435l38-47 32-31 10-16 33-30 153-188M1229 2129l-17 15-34 40-209 257M625 2297l-9 5-6 16-5 10 20-25 0-6M482 2049l-17 16-15 15-57 70M849 2088l0 3 5-2" stroke="#4ff0a0"/><path d="M291 2369l53-62 1-11-3-6 189-235M620 2064l-125 157-128 156M405 2381l13-15 16-16 11-16 50-45 11-16 24-32 138-172M731 2076l-87 110-164 203M541 2396l39-47 1-11-1-6 74-94 126-157M870 2091l-101 125-152 188M654 2408l27-31 17-16 6-16 18-15 3 0 17-15 13-16 162-203M970 2101l-3 17 1 0-99 125-139 173M790 2422l53-62 0-7-11 6-2 0 0-1 86-109 114-141M1119 2117l-125 157-128 156M904 2434l41-46 34-31 10-16 16-15 49-63 113-141M1231 2129l-252 313M1040 2449l14-18M320 2321l2-3-2 3M593 2333l-2 2 2-2M1079 2394l0-9 45-57M484 2050l-15 15-127 160" stroke="#ffd010"/><path d="M281 2368l15-15 2-12-4-6 21-31 45-64 25-31 5-6 32-41 13-16 7-7 19-24 53-62M636 2066l-57 79-13 13-26 34-161 186M398 2380l16-15 18-15 9-16 17-15 12-16 32-48 45-63 16-18 34-44 19-22 33-41M745 2077l-45 64-22 27-38 51-13 16-7 6-32 41-12 13-28 33-54 63M531 2395l29-31 1-9-16 11-2-4 44-63 24-31 47-64 14-14 25-33 20-22 20-25 27-31M887 2092l-23 32-13 15-36 48-12 15-9 9-31 38-13 14-27 33-94 109M653 2408l8-17 34-30 9-16 15-15 32-48 70-95 12-15 13-13 26-34 27-31M994 2104l-79 110-14 15-37 48-13 14-26 33-17 18-64 75M780 2421l15-15 2-10-4-6 0-2 10-15 68-95 12-16 16-18 34-45 16-16 24-30 18-21 22-26M1136 2119l-46 63-16 18-35 45-14 15-25 31-122 141M897 2434l18-16 10-16 34-30 42-63 57-79 14-16 37-47 14-15 25-32M1244 2130l-33 48-72 94-11 12-27 35-19 20-21 27-68 78M1030 2448l14-16 2-14-3-3 43-63 23-32 13-15 35-48 13-16 9-8 30-38 15-15M495 2051l-92 126-11 12-27 35-21 23-19 24-63 73M309 2337l-1 1 1-1M1059 2411l-8 5-3 12 11-11 0-6M826 2366l-12 8-3 14 14-13 1-9M339 2305l-2 3 2-3M970 2101l-3 17 19-15" stroke="#f01a1a"/></g><g fill="url(#zim)"><path transform="translate(2068)" d="M-1606 2033l-1 0-1 3z"/>
<path transform="translate(2073)" d="M-1601 2011l-10 22-2 2-9 28 4 1z"/>
<path transform="translate(2079)" d="M-1604 2000l-6 19-16 44 6 0z"/>
<path transform="translate(2083)" d="M-1607 2001l-3 3-15 57 3 2z"/>
<path transform="translate(2085)" d="M-1608 2011l-1-12-13 56 2 5z"/>
<path transform="translate(2086)" d="M-1608 2030l-1-25-8 44 1 7z"/>
<path transform="translate(2086)" d="M-1608 2049l0-29-4 23 0 9z"/>
<path transform="translate(2087)" d="M-1608 1671l0-8-16 153-17 151-16 126 0-23 16-128 17-135z"/>
<path transform="translate(2087)" d="M-1608 1674l0-4-16 138-17 138-16 131 0-37 16-118 17-124z"/>
<path transform="translate(2088)" d="M-1608 1672l-1 1-16 127-17 126-16 120-1-34 17-110 17-115z"/>
<path transform="translate(2088)" d="M-1608 1664l0 9-17 117-17 116-17 112-2-32 18-105 18-108z"/>
<path transform="translate(2090)" d="M-1608 1648l-2 19-17 109-18 110-17 105-3-29 19-103 19-106z"/>
<path transform="translate(2092)" d="M-1607 1618l-3 34-19 106-19 106-19 103-5-29 21-106 22-109z"/>
<path transform="translate(2095)" d="M-1606 1572l-5 53-21 105-21 108-21 105-9-28 19-89 19-89 20-86z"/>
<path transform="translate(2102)" d="M-1604 1519l-10 64-19 79-18 85-19 87-18 86-9-17-8-12 20-85 20-84 20-78 20-69z"/>
<path transform="translate(2106)" d="M-1609 1521l-2 8-19 59-19 70-18 76-19 81-19 81-3-4 20-84 19-82 20-78 20-69z"/>
<path transform="translate(2109)" d="M-1607 1507l-6 16-19 58-20 69-19 78-20 82-19 83-9-11 22-92 22-88 23-79 22-66z"/>
<path transform="translate(2113)" d="M-1608 1505l-5 4-21 53-22 67-22 79-22 87-21 90-9-10 20-82 21-78 20-71 20-60 21-47z"/>
<path transform="translate(2118)" d="M-1609 1511l-5-7-20 35-20 49-20 61-19 71-20 77-20 80-9-8 22-87 22-81 22-70 23-57 22-41z"/>
<path transform="translate(2122)" d="M-1609 1525l-5-17-22 26-21 43-22 58-22 70-22 81-21 85-9-7 20-79 21-73 21-64 20-52 21-39 21-23z"/>
<path transform="translate(2126)" d="M-1609 1548l-5-28-20 12-20 26-21 40-20 53-20 64-20 73-20 77-9-6 22-82 22-75 22-63 22-48 23-32 22-14z"/>
<path transform="translate(2131)" d="M-1610 1577l-5-37-22 1-22 17-21 34-22 50-22 63-21 74-22 81-9-6 21-75 20-67 21-58 21-44 21-30 20-16 21 0z"/>
<path transform="translate(2135)" d="M-1610 1612l-5-45-24-10-23 7-23 26-23 45-24 61-23 75-23 85-9-6 22-77 22-68 22-55 22-40 22-24 23-6 22 9z"/>
<path transform="translate(2139)" d="M-1610 1652l-5-51-22-20-22-7-21 10-22 25-22 42-22 56-21 68-22 76-9-4 21-71 21-62 21-51 20-37 21-22 21-7 21 6 21 20z"/>
<path transform="translate(2144)" d="M-1612 1695l-5-56-23-29-23-16-23 0-23 18-23 36-23 53-23 68-23 79-9-5 22-72 22-61 22-48 22-32 22-15 22 0 22 16 22 28z"/>
<path transform="translate(2148)" d="M-1612 1741l-5-59-21-35-22-25-22-13-21 2-22 17-22 34-21 49-22 61-22 72-9-4 23-73 24-60 23-44 23-26 23-8 24 9 23 25 23 36z"/>
<path transform="translate(2152)" d="M-1612 1787l-5-60-23-41-23-33-22-22-23-7-23 10-23 28-23 46-23 60-23 73-9-3 22-67 22-55 22-40 22-24 22-7 22 8 22 21 22 32 22 39z"/>
<path transform="translate(2157)" d="M-1613 1833l-5-59-22-42-21-37-22-30-22-19-21-6-22 10-22 25-21 41-22 56-22 67-9-3 23-68 23-52 24-36 23-18 23 0 23 16 23 29 23 39 23 44z"/>
<path transform="translate(2161)" d="M-1613 1876l-5-56-23-44-23-42-22-37-23-27-23-14-23 3-22 19-23 38-23 53-23 67-9-2 22-62 22-48 22-32 22-16 22 0 22 15 22 28 22 36 22 41 22 42z"/>
<path transform="translate(2165)" d="M-1613 1916l-5-52-22-39-22-42-21-40-22-34-22-25-21-13-22 2-22 18-21 33-22 49-22 61-9-2 23-61 23-45 23-28 23-9 23 7 23 23 23 34 23 41 23 45 23 42z"/>
<path transform="translate(2170)" d="M-1614 1951l-5-46-23-37-23-42-22-44-23-40-23-32-22-20-23-5-23 11-22 29-23 46-23 61-9-2 22-55 22-40 22-25 22-8 22 8 22 22 22 32 22 40 22 43 22 41 22 36z"/>
<path transform="translate(2174)" d="M-1614 1979l-5-38-22-28-22-37-21-42-22-42-22-38-21-30-22-20-22-6-21 10-22 26-22 41-21 56-9-2 22-54 23-37 23-19 23-2 23 15 23 29 22 39 23 44 23 45 23 40 23 32z"/>
<path transform="translate(2178)" d="M-1615 2001l-5-29-22-22-23-33-22-41-23-44-22-43-23-37-23-27-22-12-23 3-22 21-23 38-22 54-9-1 22-49 21-33 22-16 22 1 22 15 22 28 22 38 22 43 22 44 22 40 22 33 22 22z"/>
<path transform="translate(2183)" d="M-1616 2015l-5-20-21-10-22-24-22-34-21-41-22-43-22-41-21-36-22-26-22-14-21 1-22 18-22 34-21 49-9-1 22-47 23-29 23-10 23 7 22 22 23 35 23 43 23 47 22 45 23 38 23 28 23 13z"/>
<path transform="translate(2187)" d="M-1616 2021l-5-9-22 0-23-16-22-29-23-40-22-44-23-46-22-41-23-33-22-21-23-5-22 13-23 30-22 47-9-1 22-42 22-25 21-7 22 9 22 23 22 35 22 43 22 45 22 45 22 39 22 29 21 16 22 1z"/>
<path transform="translate(2191)" d="M-1616 2017l-5 3-22 12-21-3-22-19-22-31-21-39-22-45-22-44-21-41-22-33-22-22-21-7-22 10-22 26-21 42-9-2 22-39 23-20 23-1 22 15 23 31 23 41 22 48 23 49 23 45 22 36 23 23 23 7 22-11z"/>
<path transform="translate(2196)" d="M-1617 2005l-5 14-23 26-22 8-22-10-23-25-22-37-23-45-22-48-23-47-22-39-22-28-23-14-22 3-23 22-22 40-9-2 22-35 22-16 21 2 22 18 22 32 22 42 22 47 22 49 22 46 22 37 21 25 22 10 22-7 22-25z"/>
<path transform="translate(2200)" d="M-1952 1822l2-13 22-24 23-6 22 12 22 29 22 40 22 49 22 52 23 50 22 43 22 31 22 17 22-1 22-20 23-39 22-57-5 25-23 41-24 20-23 1-23-18-23-33-23-44-24-51-23-51-23-46-23-35-23-21-24-3-23 16-23 37z"/>
<path transform="translate(2204)" d="M-1955 1815l5-21 22-11 22 9 23 26 22 40 22 50 22 54 22 54 23 48 22 37 22 23 22 5 22-15 22-35 23-53 22-70-5 36-23 53-22 35-22 15-22-2-22-20-22-34-23-44-22-50-22-51-22-47-22-38-22-24-23-9-22 10z"/>
<path transform="translate(2207)" d="M-1954 1798l2-5 22-9 22 10 22 28 22 41 22 50 23 55 22 54 22 47 22 37 22 21 22 4 23-16 22-36 22-55 22-71-1 12-23 67-22 49-22 30-22 10-22-8-22-26-23-39-22-49-22-53-22-53-22-47-23-37-22-22-22-4z"/>
<path transform="translate(2212)" d="M-1939 1792l22 38 22 53 22 63 21 67 22 66 22 57 22 45 22 17 22-20 21-20-9-31-22-17-22-33-22-45-22-51-21-54-22-51-22-44-22-31-22-16-22 2z"/>
<path transform="translate(2212)" d="M-1685 2125l23-76 23-94 23-107-9 108-23 72-23 55-23 34z"/>
<path transform="translate(2218)" d="M-1945 1789l22 53 21 67 22 75 21 77 22 72 22 62 21 27 22-20-5-31-22-36-22-50-21-58-22-62-21-60-22-53-22-41-21-23z"/>
<path transform="translate(2218)" d="M-1687 2124l23-93 23-111 22-120-5 78-23 97-22 84-23 65z"/>
<path transform="translate(2222)" d="M-1947 1789l20 55 21 78 21 85 21 85 21 79 20 67 21-10-3-28-21-48-20-61-21-67-21-69-21-66-21-57-20-42z"/>
<path transform="translate(2222)" d="M-1688 2124l22-99 23-126 22-133-3 54-22 113-23 103-22 86z"/>
<path transform="translate(2224)" d="M-1946 1787l21 63 21 93 21 99 20 97 21 87 21 18-1-23-21-63-21-75-21-80-21-79-21-73-21-60z"/>
<path transform="translate(2224)" d="M-1686 2121l21-102 22-136 21-141-2 38-21 121-22 115-21 100z"/>
<path transform="translate(2225)" d="M-1943 1783l22 79 22 115 22 118 22 113 21 48-1-21-21-81-22-93-22-97-22-93-22-80z"/>
<path transform="translate(2225)" d="M-1683 2118l20-106 21-142 20-146-1 28-20 126-21 121-20 111z"/>
<path transform="translate(2226)" d="M-1939 1780l19 77 19 116 19 119 19 114 19 58 0-18-19-86-19-94-19-98-19-94-20-85z"/>
<path transform="translate(2226)" d="M-1679 2113l19-107 18-147 19-151-1 24-18 129-19 126-18 117z"/>
<path transform="translate(2226)" d="M-1934 1775l21 108 20 147 21 147 21 94 0-17-21-112-21-122-21-121-21-112z"/>
<path transform="translate(2226)" d="M-1674 2109l17-111 17-150 17-153 0 20-17 132-17 129-17 121z"/>
<path transform="translate(2226)" d="M-1930 1772l18 108 19 149 18 148 19 99 0-15-19-116-18-122-19-123-18-116z"/>
<path transform="translate(2226)" d="M-1670 2105l16-113 16-154 15-157 0 20-16 134-15 132-16 127z"/>
<path transform="translate(2227)" d="M-1880 1749l18 113 19 120 18 119 19 111-1 18-18-114-19-139-18-140-18-112z"/>
<path transform="translate(2227)" d="M-1886 1756l21 110 21 118 21 117 21 108 0 17-21-112-21-139-21-138-21-106z"/>
<path transform="translate(2227)" d="M-1625 2039l2-16 0 39-3 2z"/>
<path transform="translate(2227)" d="M-1892 1765l19 84 19 92 19 94 19 91 19 82 0 14-19-83-20-108-19-112-19-108-19-74z"/>
<path transform="translate(2227)" d="M-1632 2043l9-58 0 46-10 40z"/>
<path transform="translate(2228)" d="M-1902 1776l22 81 22 91 22 94 22 88 21 77-1 11-21-82-22-107-22-111-22-106-21-66z"/>
<path transform="translate(2228)" d="M-1642 2049l19-103-1 47-19 87z"/>
<path transform="translate(2229)" d="M-1913 1793l21 62 21 74 20 78 21 76 21 69 21 56-2 6-21-64-20-85-21-93-21-91-21-84-21-40z"/>
<path transform="translate(2229)" d="M-1654 2055l16-74 16-80-2 54-16 87-15 49z"/>
<path transform="translate(2231)" d="M-1930 1816l21 49 21 61 20 66 21 67 21 62 21 52 21 37-3 2-21-52-21-70-21-78-21-80-20-76-21-66-21-17z"/>
<path transform="translate(2231)" d="M-1671 2066l16-68 17-74 16-81-3 68-16 86-17 77-16 34z"/>
<path transform="translate(2234)" d="M-1958 1795l5 57 22 41 21 52 21 58 22 59 21 55 21 46 22 33 21 16-5-1-22-41-21-57-21-67-22-71-21-69-21-62-22-49z"/>
<path transform="translate(2234)" d="M-1697 2085l19-68 20-79 19-85 19-89-5 93-20 94-19 86-19 74-19 22z"/>
<path transform="translate(2241)" d="M-1961 1834l10 137 21 48 22 51 21 49 21 43 22 32 21 18 22 2 21-16-10 13-21-20-21-37-22-51-21-58-22-62-21-59-21-51z"/>
<path transform="translate(2241)" d="M-1744 2131l21-61 21-73 20-82 21-87 21-88 21-85-9 129-21 97-21 92-21 82-21 68-21 36-21 19z"/>
<path transform="translate(2246)" d="M-1958 1940l1 21 22 50 22 54 23 52 22 44 22 33 22 18 22 0 22-19 23-39 22-57 22-73 22-85 22-91 22-95 23-91-2 19-22 93-22 96-22 91-23 83-22 69-22 52-22 34-22 14-22-6-23-24-22-38-22-48-22-54-22-54z"/>
<path transform="translate(2248)" d="M-1959 1956l5 70 22 50 22 50 22 43 22 32 23 18 22 2 22-18 22-36 22-53 22-69 23-81 22-89 22-91 22-89 22-81-5 52-22 92-22 95-22 91-22 85-23 71-22 57-22 37-22 18-22-1-22-19-23-34-22-46-22-52-22-54z"/>
<path transform="translate(2253)" d="M-1960 2010l5 68 22 48 22 44 22 34 22 21 22 5 23-12 22-31 22-48 22-64 22-77 23-85 22-89 22-88 22-82 22-73-5 44-22 84-22 90-22 92-23 88-22 79-22 66-22 50-22 33-22 13-23-6-22-22-22-35-22-46-22-50z"/>
<path transform="translate(2257)" d="M-1961 2063l5 65 23 43 22 36 22 24 22 10 22-8 23-26 22-43 22-59 22-73 22-82 22-86 23-88 22-83 22-74 22-62-5 33-22 76-22 84-22 89-23 89-22 84-22 75-22 61-22 45-23 27-22 8-22-9-22-25-22-37-22-45z"/>
<path transform="translate(2261)" d="M-1961 2113l5 61 23 37 22 27 22 13 22-4 22-21 22-38 23-54 22-69 22-78 22-85 22-86 22-84 23-76 22-65 22-50-5 23-22 65-22 77-23 84-22 88-22 87-22 80-22 70-22 56-23 40-22 22-22 4-22-13-22-27-22-39z"/>
<path transform="translate(2266)" d="M-1962 2160l5 55 22 29 23 17 22 1 22-17 22-33 22-50 22-64 23-76 22-82 22-86 22-83 22-78 22-67 23-54 22-38-5 11-22 54-23 68-22 78-22 85-22 86-22 85-22 77-23 65-22 52-22 34-22 17-22 0-22-16-23-30z"/>
<path transform="translate(2270)" d="M-1962 2203l5 48 22 20 22 4 23-11 22-29 22-45 22-61 22-72 22-80 23-84 22-84 22-79 22-70 22-57 22-42 23-25-5-1-23 42-22 57-22 70-22 80-22 84-22 86-23 82-22 73-22 61-22 47-22 30-22 12-23-4-22-20z"/>
<path transform="translate(2274)" d="M-1962 2241l5 39 22 9 22-8 22-24 23-41 22-56 22-68 22-78 22-83 23-84 22-80 22-72 22-61 22-46 22-30 23-12-5-12-23 29-22 46-22 60-22 73-22 80-23 85-22 84-22 79-22 70-22 57-22 42-23 25-22 8-22-8z"/>
<path transform="translate(2279)" d="M-1963 2272l5 30 22-3 22-20 22-36 23-52 22-65 22-76 22-82 22-83 22-81 23-75 22-63 22-50 22-34 22-18 22 0-5-22-22 16-22 34-22 49-22 63-22 75-23 81-22 85-22 82-22 77-22 66-22 53-23 37-22 21-22 3z"/>
<path transform="translate(2283)" d="M-1963 2296l5 19 22-15 22-32 22-48 22-61 23-73 22-80 22-83 22-82 22-77 22-66 23-54 22-38 22-22 22-5 22 10-5-32-22 5-22 21-22 37-22 54-23 66-22 76-22 82-22 84-22 81-22 74-23 62-22 49-22 33-22 16z"/>
<path transform="translate(2287)" d="M-1963 2312l5 8 22-27 22-44 22-58 22-70 22-78 23-83 22-82 22-78 22-70 22-57 22-43 23-26 22-10 22 7 22 20-5-40-22-8-22 9-22 26-23 42-22 57-22 69-22 78-22 82-22 83-23 79-22 71-22 59-22 44-22 28z"/>
<path transform="translate(2292)" d="M-1965 2320l5-3 23-40 22-54 22-67 22-76 22-82 22-83 23-80 22-72 22-60 22-47 22-31 23-14 22 2 22 17 22 29-5-48-22-18-22-3-23 14-22 30-22 46-22 60-22 72-22 79-23 83-22 82-22 77-22 68-22 55-22 40z"/>
<path transform="translate(2296)" d="M-1965 2319l5-14 23-51 22-63 22-75 22-81 22-83 22-81 23-74 22-64 22-51 22-35 22-19 22-2 23 13 22 26 22 35-5-53-22-27-22-13-23 1-22 18-22 34-22 50-22 64-23 74-22 80-22 83-22 82-22 74-22 65-23 51z"/>
<path transform="translate(2300)" d="M-1965 2309l5-24 22-60 23-72 22-80 22-83 22-82 22-77 22-67 23-55 22-40 22-23 22-6 22 9 22 23 23 33 22 40-5-58-22-33-23-23-22-10-22 5-22 23-22 38-22 54-23 67-22 76-22 82-22 83-22 80-22 72-23 61z"/>
<path transform="translate(2305)" d="M-1966 2292l5-34 22-69 22-79 23-82 22-83 22-79 22-71 22-58 22-44 23-28 22-11 22 5 22 20 22 31 22 39 23 43-5-60-23-39-22-32-22-20-22-5-22 10-22 26-23 43-22 58-22 70-22 78-22 83-22 82-23 78-22 70z"/>
<path transform="translate(2309)" d="M-1966 2267l5-42 22-77 22-82 22-84 23-81 22-74 22-62 22-48 22-32 22-16 23 1 22 17 22 28 22 38 22 42 23 43-6-60-22-42-22-38-22-29-22-16-22-2-23 15-22 31-22 47-22 61-22 73-22 80-23 83-22 82-22 77z"/>
<path transform="translate(2313)" d="M-1966 2235l5-50 22-81 22-85 22-82 23-77 22-66 22-52 22-37 22-20 22-3 23 13 22 26 22 36 22 42 22 44 22 41-5-60-22-43-22-41-22-36-22-26-23-13-22 2-22 19-22 36-22 52-22 64-23 76-22 81-22 84-22 82z"/>
<path transform="translate(2318)" d="M-1967 2198l5-56 22-85 22-84 22-79 22-70 23-57 22-41 22-25 22-7 22 9 22 23 23 34 22 42 22 44 22 43 22 37-5-56-22-42-22-43-22-41-22-34-23-23-22-10-22 7-22 24-22 40-22 56-23 68-22 78-22 83-22 84z"/>
<path transform="translate(2322)" d="M-1967 2155l5-60 22-85 22-82 22-73 22-62 22-46 23-29 22-12 22 5 22 20 22 33 22 41 23 45 22 44 22 40 22 30-5-50-22-39-22-43-22-44-23-40-22-32-22-20-22-6-22 11-22 29-23 45-22 59-22 72-22 81-22 84z"/>
<path transform="translate(2326)" d="M-1968 2110l5-63 23-84 22-77 22-66 22-51 22-34 22-16 23 1 22 17 22 30 22 40 22 46 22 46 23 42 22 34 22 22-5-44-22-32-22-41-23-45-22-44-22-39-22-30-22-17-22-1-23 15-22 33-22 50-22 64-22 75-22 83z"/>
<path transform="translate(2330)" d="M-1968 2062l5-64 22-80 23-70 22-56 22-39 22-21 22-4 23 14 22 28 22 39 22 46 22 48 22 45 23 38 22 26 22 12-5-36-22-25-23-36-22-43-22-46-22-44-22-38-22-28-23-13-22 3-22 20-22 38-22 54-22 68-23 79z"/>
<path transform="translate(2335)" d="M-1969 2013l5-63 22-74 23-61 22-44 22-27 22-7 22 10 22 25 23 38 22 46 22 50 22 48 22 42 22 31 23 17 22 0-5-27-22-15-23-29-22-40-22-46-22-47-22-44-22-37-23-25-22-9-22 7-22 25-22 43-23 59-22 72z"/>
<path transform="translate(2339)" d="M-1969 1965l5-61 22-66 22-50 23-31 22-13 22 6 22 23 22 37 22 46 23 51 22 52 22 46 22 36 22 22 22 6 23-14-5-16-23-4-22-20-22-33-22-44-22-48-22-49-23-44-22-35-22-22-22-6-22 12-22 30-23 48-22 64z"/>
<path transform="translate(2343)" d="M-1969 1918l5-57 22-56 22-37 22-18 23 2 22 21 22 35 22 47 22 53 22 55 23 50 22 42 22 28 22 11 22-7 22-28-5-6-22 9-22-9-22-25-22-39-22-46-23-51-22-50-22-44-22-34-22-19-22-2-23 17-22 36-22 53z"/>
<path transform="translate(2346)" d="M-1968 1874l1-17 22-55 23-36 22-16 22 4 22 21 22 37 23 48 22 54 22 54 22 51 22 41 22 27 23 10 22-9 22-29-2 0-22 23-22 4-22-15-22-31-23-43-22-51-22-54-22-51-22-44-22-32-23-16-22 2-22 22-22 42z"/>
<path transform="translate(2351)" d="M-1972 1861l10-54 12-11-10 32z"/>
<path transform="translate(2351)" d="M-1901 1758l22 38 22 53 22 62 21 68 22 65 22 58 22 45 22 16 22-20 22-20-10-30-22-18-22-33-22-44-21-52-22-54-22-51-22-43-22-32-22-16-22 2z"/>
<path transform="translate(2351)" d="M-1647 2090l17-52-9 21-17 23z"/>
<path transform="translate(2357)" d="M-1907 1754l22 53 21 67 22 75 21 77 22 73 22 61 21 28 22-20-5-32-22-36-22-49-21-59-22-62-21-60-22-53-22-41-21-22z"/>
<path transform="translate(2357)" d="M-1649 2090l16-63-5 19-16 43z"/>
<path transform="translate(2361)" d="M-1909 1755l20 55 21 77 21 85 21 85 21 80 21 67 20-11-3-27-20-49-21-60-21-68-21-69-21-66-21-56-20-43z"/>
<path transform="translate(2361)" d="M-1650 2089l15-62-3 3-15 58z"/>
<path transform="translate(2363)" d="M-1908 1752l21 63 21 93 21 99 21 97 20 88 21 18-1-24-21-63-21-74-21-80-21-79-21-73-21-60z"/>
<path transform="translate(2363)" d="M-1648 2087l12-49-2-12-12 56z"/>
<path transform="translate(2364)" d="M-1905 1749l22 78 22 115 22 119 22 112 21 48-1-20-21-82-22-93-22-97-22-92-22-81z"/>
<path transform="translate(2364)" d="M-1645 2083l8-27 0-24-9 43z"/>
<path transform="translate(2365)" d="M-1901 1745l19 77 19 116 19 119 19 114 19 59 0-19-19-86-19-94-19-97-19-95-20-85z"/>
<path transform="translate(2365)" d="M-1641 2079l4-4-1-28-3 22z"/>
<path transform="translate(2365)" d="M-1896 1741l21 107 20 147 21 147 21 94 0-17-21-112-21-121-21-122-21-112z"/>
<path transform="translate(2365)" d="M-1892 1737l18 109 19 148 18 149 19 99 0-16-19-116-18-122-19-123-18-116z"/>
<path transform="translate(2366)" d="M-1947 1810l19 112 18 120 19 119 18 112 0 18-19-114-18-140-19-140-18-110z"/>
<path transform="translate(2366)" d="M-1686 2097l16-129 16-135 17-136-1-7-16 154-16 153-17 123z"/>
<path transform="translate(2366)" d="M-1952 1817l21 110 21 118 21 117 21 109-1 16-21-112-21-138-20-139-21-106z"/>
<path transform="translate(2366)" d="M-1692 2100l18-128 19-135 18-137-1-4-18 155-18 153-18 122z"/>
<path transform="translate(2366)" d="M-1959 1826l19 84 19 92 20 95 19 91 19 81-1 14-19-83-19-108-19-111-19-109-19-74z"/>
<path transform="translate(2366)" d="M-1699 2105l21-128 21-138 20-140 0 1-21 158-21 156-20 118z"/>
<path transform="translate(2367)" d="M-1968 1837l22 81 22 91 21 94 22 89 22 76-1 11-22-82-22-107-21-111-22-106-22-66z"/>
<path transform="translate(2367)" d="M-1708 2110l18-97 17-105 18-108 18-109-1 8-18 124-17 122-18 116-18 80z"/>
<path transform="translate(2368)" d="M-1971 1821l2 63 23 76 23 85 23 84 23 78 23 62-2 6-23-71-23-96-23-102-23-98z"/>
<path transform="translate(2368)" d="M-1720 2117l21-100 21-111 21-117 20-115-1 19-21 131-21 130-21 122-21 76z"/>
<path transform="translate(2370)" d="M-1971 1872l3 75 19 59 20 63 19 63 20 57 20 48 19 34-3 2-19-48-20-65-20-73-19-76-20-73z"/>
<path transform="translate(2370)" d="M-1738 2128l21-85 20-95 20-102 21-103 20-99-3 35-20 114-21 115-20 111-20 100-21 50z"/>
<path transform="translate(2374)" d="M-1973 1932l5 99 20 55 20 54 19 49 20 41 20 29 19 14-5-1-20-38-19-51-20-60-20-65-19-65z"/>
<path transform="translate(2374)" d="M-1764 2146l21-77 22-90 21-97 22-99 21-96 22-89-6 54-21 108-22 111-21 108-22 100-21 85-22 30z"/>
<path transform="translate(2380)" d="M-1975 2011l10 143 19 43 20 37 20 27 20 14 20 0 19-16-9 13-20-17-20-34-20-45-19-52-20-57z"/>
<path transform="translate(2380)" d="M-1811 2192l22-65 23-78 22-89 22-93 22-93 23-88 22-77 22-64-9 65-23 95-22 103-22 104-22 100-23 90-22 74-22 43-22 20z"/>
<path transform="translate(2385)" d="M-1973 2124l2 21 22 50 22 41 22 28 23 12 22-7 22-27 22-45 22-63 22-78 23-88 22-93 22-93 22-89 22-80 22-65-1 8-22 70-22 84-23 92-22 95-22 93-22 87-22 74-22 59-23 41-22 20-22 1-22-17-22-33-23-46z"/>
<path transform="translate(2388)" d="M-1974 2140l5 63 22 40 22 28 22 12 22-5 22-24 23-43 22-59 22-74 22-84 22-90 22-91 23-87 22-78 22-65 22-50-5 17-22 66-22 80-22 90-23 94-22 93-22 88-22 77-22 62-22 44-23 25-22 6-22-13-22-29-22-42z"/>
<path transform="translate(2392)" d="M-1975 2189l5 55 23 30 22 16 22-1 22-19 22-37 22-54 23-69 22-80 22-87 22-89 22-87 22-79 23-68 22-53 22-36-5 5-22 53-22 69-23 81-22 89-22 92-22 89-22 83-22 71-23 57-22 38-22 20-22 1-22-16-22-31z"/>
<path transform="translate(2396)" d="M-1975 2233l5 46 22 19 23 3 22-14 22-32 22-50 22-64 22-76 23-84 22-88 22-86 22-80 22-71 22-56 23-40 22-23-5-6-22 40-23 57-22 71-22 81-22 88-22 90-22 87-23 78-22 66-22 51-22 33-22 15-22-3-23-19z"/>
<path transform="translate(2401)" d="M-1976 2269l5 36 22 8 22-10 23-27 22-44 22-60 22-73 22-81 23-86 22-86 22-81 22-72 22-60 22-44 23-28 22-9-5-17-22 26-23 44-22 60-22 73-22 83-22 87-23 88-22 83-22 74-22 61-22 46-22 28-23 11-22-8z"/>
<path transform="translate(2405)" d="M-1976 2298l5 26 22-5 22-23 23-39 22-55 22-69 22-78 22-84 22-86 23-82 22-74 22-63 22-48 22-32 22-14 23 2-5-27-23 13-22 31-22 48-22 63-22 75-22 83-23 87-22 85-22 80-22 70-22 57-22 41-23 23-22 6z"/>
<path transform="translate(2409)" d="M-1976 2319l5 15 22-17 22-35 22-51 23-65 22-75 22-83 22-84 22-83 22-76 23-66 22-52 22-36 22-19 22-2 22 13-5-36-22 1-22 18-22 35-22 52-22 66-23 77-22 83-22 86-22 83-22 77-22 66-23 52-22 36-22 19z"/>
<path transform="translate(2414)" d="M-1977 2332l5 4 22-30 22-47 22-61 22-72 23-80 22-84 22-83 22-78 22-68 22-56 23-40 22-24 22-7 22 9 22 23-5-44-22-10-22 5-22 23-22 40-23 55-22 69-22 78-22 84-22 84-22 82-23 73-22 62-22 48-22 31z"/>
<path transform="translate(2418)" d="M-1977 2336l5-7 22-42 22-57 22-69 22-78 22-83 23-84 22-79 22-71 22-59 22-44 23-28 22-12 22 5 22 19 22 31-5-51-22-20-22-6-22 10-23 28-22 44-22 59-22 70-22 80-22 84-23 83-22 79-22 71-22 58-22 43z"/>
<path transform="translate(2422)" d="M-1978 2332l6-18 22-53 22-66 22-76 22-82 22-83 23-80 22-74 22-62 22-48 22-33 22-16 23 1 22 15 22 28 22 37-5-56-22-29-22-16-22-2-23 15-22 32-22 48-22 62-22 73-23 81-22 84-22 82-22 77-22 66-22 54z"/>
<path transform="translate(2427)" d="M-1979 2319l5-28 23-62 22-74 22-80 22-83 22-82 22-75 23-65 22-53 22-37 22-20 22-4 22 12 23 24 22 35 22 41-5-59-22-36-22-25-23-13-22 3-22 20-22 36-22 52-22 65-23 75-22 82-22 83-22 81-22 74-22 64z"/>
<path transform="translate(2431)" d="M-1979 2299l5-37 22-71 23-79 22-83 22-82 22-77 22-69 22-56 23-41 22-25 22-8 22 8 22 21 22 32 23 40 22 42-5-60-22-40-23-33-22-22-22-8-22 7-22 24-22 41-23 55-22 68-22 77-22 82-22 83-22 80-23 71z"/>
<path transform="translate(2435)" d="M-1979 2271l5-45 22-77 22-82 23-83 22-79 22-71 22-60 22-45 22-30 23-12 22 3 22 18 22 30 22 38 23 42 22 42-5-60-23-42-22-38-22-30-22-19-22-4-22 12-23 28-22 45-22 59-22 71-22 78-22 83-23 82-22 78z"/>
<path transform="translate(2439)" d="M-1979 2237l5-51 22-81 22-84 23-80 22-74 22-63 22-50 22-34 22-17 23 0 22 14 22 27 22 36 22 42 22 42 23 39-5-57-23-42-22-42-22-36-22-27-22-15-23 0-22 16-22 33-22 49-22 62-22 73-23 81-22 83-22 81z"/>
<path transform="translate(2444)" d="M-1980 2199l5-57 22-83 22-82 22-76 23-67 22-54 22-38 22-22 22-5 22 11 23 24 22 34 22 41 22 43 22 41 22 34-5-53-22-40-22-42-22-41-22-34-22-25-23-11-22 4-22 21-22 37-22 53-22 66-23 76-22 81-22 83z"/>
<path transform="translate(2448)" d="M-1980 2156l5-59 22-84 22-78 22-70 22-58 23-42 22-27 22-9 22 7 22 21 22 32 23 40 22 43 22 42 22 36 22 27-5-46-22-36-22-41-22-43-22-39-23-32-22-22-22-7-22 9-22 25-22 42-23 56-22 69-22 78-22 83z"/>
<path transform="translate(2452)" d="M-1980 2111l5-61 22-80 22-73 22-62 22-47 22-31 23-14 22 3 22 18 22 30 22 38 22 44 23 43 22 39 22 30 22 18-5-39-22-29-22-38-22-42-23-43-22-38-22-30-22-18-22-3-22 13-23 29-22 47-22 60-22 72-22 80z"/>
<path transform="translate(2457)" d="M-1982 2064l5-59 23-76 22-66 22-51 22-36 22-18 23-2 22 15 22 27 22 38 22 43 22 44 23 41 22 34 22 22 22 8-5-30-22-21-22-32-23-40-22-44-22-42-22-37-22-28-22-14-23 1-22 17-22 35-22 50-22 65-22 74z"/>
<path transform="translate(2461)" d="M-1982 2018l5-56 23-70 22-56 22-40 22-23 22-6 22 11 23 25 22 36 22 43 22 45 22 43 22 37 23 26 22 13 22-5-5-19-22-11-22-25-23-35-22-42-22-44-22-42-22-36-22-25-23-11-22 6-22 22-22 39-22 55-23 68z"/>
<path transform="translate(2465)" d="M-1982 1974l5-52 22-61 23-45 22-28 22-10 22 7 22 22 22 35 23 42 22 46 22 46 22 40 22 30 22 17 23 1 22-17-5-9-22 1-23-16-22-28-22-39-22-43-22-46-22-41-23-34-22-21-22-8-22 10-22 27-22 44-23 59z"/>
<path transform="translate(2470)" d="M-1983 1934l5-47 22-50 22-33 23-15 22 3 22 19 22 33 22 42 22 47 23 47 22 44 22 34 22 21 22 6 22-11 23-30-5 2-23 13-22-4-22-20-22-33-22-41-22-45-23-46-22-41-22-31-22-19-22-3-22 14-23 32-22 48z"/>
<path transform="translate(2474)" d="M-1983 1897l5-39 22-38 22-20 22-1 23 16 22 30 22 42 22 48 22 49 22 47 23 38 22 27 22 11 22-7 22-25 23-43-6 14-22 26-22 7-22-9-22-24-22-37-23-44-22-47-22-46-22-40-22-29-22-16-23 1-22 19-22 37z"/>
<path transform="translate(2478)" d="M-1983 1866l5-30 22-25 22-6 22 13 23 28 22 41 22 48 22 52 22 50 22 43 23 32 22 16 22-1 22-20 22-39 22-57-5 25-22 40-22 21-22 2-22-14-22-29-23-40-22-47-22-49-22-47-22-39-23-27-22-12-22 6-22 23z"/>
<path transform="translate(2483)" d="M-1984 1842l5-22 22-10 22 9 22 26 22 40 23 49 22 55 22 53 22 48 22 38 22 22 23 5 22-15 22-34 22-54 22-70-5 37-22 52-22 35-22 16-22-3-23-20-22-34-22-44-22-50-22-51-22-46-23-38-22-25-22-8-22 10z"/>
<path transform="translate(2486)" d="M-1983 1824l1-4 22-10 22 11 23 27 22 41 22 51 22 54 22 54 22 48 23 36 22 22 22 3 22-16 22-36 22-55 23-71-2 13-22 66-22 49-22 30-23 11-22-9-22-25-22-40-22-48-22-54-23-53-22-47-22-36-22-22-22-5z"/>
<path transform="translate(2490)" d="M-1967 1819l21 38 22 53 22 63 22 67 22 65 22 58 21 45 22 16 22-20 22-20-10-30-21-18-22-33-22-44-22-52-22-54-22-51-21-43-22-32-22-16-22 3z"/>
<path transform="translate(2490)" d="M-1713 2151l23-75 23-95 23-106-10 107-23 73-23 54-23 34z"/>
<path transform="translate(2497)" d="M-1974 1816l21 52 22 67 21 75 22 77 22 73 21 61 22 28 22-20-6-32-21-36-22-49-22-58-21-62-22-61-22-53-21-41-22-22z"/>
<path transform="translate(2497)" d="M-1716 2151l22-93 23-111 23-121-5 78-23 98-23 83-23 65z"/>
<path transform="translate(2500)" d="M-1976 1816l21 55 21 77 21 85 20 85 21 79 21 68 21-11-3-27-21-49-21-60-21-68-20-69-21-66-21-56-21-43z"/>
<path transform="translate(2500)" d="M-1717 2150l23-99 22-125 23-134-3 54-23 113-22 103-23 87z"/>
<path transform="translate(2502)" d="M-1974 1813l20 63 21 93 21 99 21 97 21 88 21 18-2-24-21-63-21-74-20-80-21-79-21-73-21-60z"/>
<path transform="translate(2502)" d="M-1715 2148l22-103 21-135 22-142-2 39-21 121-22 114-22 101z"/>
<path transform="translate(2503)" d="M-1971 1810l22 78 22 115 21 119 22 112 22 48-1-20-22-82-22-93-21-97-22-92-22-81z"/>
<path transform="translate(2503)" d="M-1711 2144l20-105 20-142 20-147-1 29-20 126-20 121-20 110z"/>
<path transform="translate(2504)" d="M-1967 1806l19 78 19 115 19 119 19 114 19 59-1-19-19-85-19-95-19-97-19-94-19-86z"/>
<path transform="translate(2504)" d="M-1707 2140l18-108 19-147 19-150-1 23-19 130-18 125-19 117z"/>
<path transform="translate(2504)" d="M-1963 1802l21 107 21 148 21 147 21 94 0-18-21-112-21-121-21-121-21-113z"/>
<path transform="translate(2504)" d="M-1703 2136l18-111 17-151 17-153-1 21-17 131-17 129-17 122z"/>
<path transform="translate(2505)" d="M-1960 1798l19 109 18 149 19 148 18 99 0-16-18-115-19-123-18-123-19-115z"/>
<path transform="translate(2505)" d="M-1699 2132l15-114 16-154 16-156 0 19-16 134-16 133-15 126z"/>
<path transform="translate(2505)" d="M-1909 1776l19 113 18 119 19 119 18 112 0 18-18-114-19-140-18-140-19-111z"/>
<path transform="translate(2505)" d="M-1914 1782l21 110 21 118 21 118 21 108-1 17-21-113-21-138-20-139-21-106z"/>
<path transform="translate(2505)" d="M-1654 2066l3-17-1 40-2 2z"/>
<path transform="translate(2506)" d="M-1922 1791l19 84 19 92 20 95 19 91 19 82-1 14-19-83-19-109-19-111-19-108-19-74z"/>
<path transform="translate(2506)" d="M-1662 2070l10-58-1 45-9 41z"/>
<path transform="translate(2506)" d="M-1930 1802l22 81 22 91 21 94 22 89 22 76-1 11-22-81-22-107-21-112-22-106-22-66z"/>
<path transform="translate(2506)" d="M-1670 2075l19-103-1 48-19 86z"/>
<path transform="translate(2507)" d="M-1942 1819l21 63 21 73 21 78 21 76 21 69 21 56-2 7-21-64-21-86-21-92-21-92-20-84-21-40z"/>
<path transform="translate(2507)" d="M-1682 2082l16-74 15-81-1 54-16 88-16 49z"/>
<path transform="translate(2509)" d="M-1958 1842l20 50 21 61 21 66 21 67 21 61 20 52 21 38-3 1-21-52-20-70-21-78-21-80-21-76-21-66-20-17z"/>
<path transform="translate(2509)" d="M-1699 2092l16-67 16-75 17-80-3 68-17 85-16 78-16 33z"/>
<path transform="translate(2513)" d="M-1987 1822l5 57 21 41 22 51 21 58 21 59 22 55 21 47 21 33 21 15-5 0-21-42-21-57-22-66-21-71-21-69-22-62-21-49z"/>
<path transform="translate(2513)" d="M-1726 2111l19-68 19-78 19-86 20-88-6 93-19 94-19 86-19 73-20 23z"/>
<path transform="translate(2519)" d="M-1989 1860l9 137 22 49 21 51 22 49 21 43 21 32 22 18 21 2 21-17-9 14-21-20-22-38-21-50-22-59-21-61-21-59-22-52z"/>
<path transform="translate(2519)" d="M-1773 2157l21-60 21-73 21-82 21-88 21-88 21-85-10 129-21 98-21 92-21 82-20 67-21 37-21 19z"/>
<path transform="translate(2524)" d="M-1987 1966l2 22 22 50 22 53 22 52 22 45 23 33 22 18 22 0 22-20 22-39 22-57 23-72 22-85 22-92 22-94 22-91-1 18-23 94-22 95-22 92-22 82-22 69-22 53-23 34-22 13-22-6-22-23-22-38-22-48-23-54-22-54z"/>
<path transform="translate(2527)" d="M-1989 1983l5 70 22 50 23 49 22 43 22 33 22 18 22 1 23-17 22-36 22-54 22-69 22-81 22-88 23-91 22-89 22-82-5 53-22 92-22 94-23 92-22 84-22 72-22 56-22 38-23 18-22-1-22-19-22-35-22-45-22-53-23-53z"/>
<path transform="translate(2531)" d="M-1989 2037l5 68 22 48 23 43 22 34 22 22 22 5 22-13 22-30 23-49 22-64 22-76 22-85 22-89 22-88 23-83 22-72-5 43-22 85-23 90-22 92-22 87-22 79-22 67-22 50-23 32-22 13-22-5-22-22-22-36-22-45-23-51z"/>
<path transform="translate(2536)" d="M-1990 2089l5 65 22 44 22 36 23 24 22 9 22-8 22-26 22-43 22-59 23-72 22-82 22-87 22-87 22-83 22-75 23-61-5 33-23 75-22 85-22 89-22 89-22 84-22 74-23 61-22 45-22 27-22 9-22-10-22-24-23-37-22-46z"/>
<path transform="translate(2540)" d="M-1990 2140l5 60 22 38 22 26 22 13 23-3 22-21 22-38 22-55 22-68 22-79 23-85 22-86 22-83 22-76 22-65 22-50-5 22-22 65-22 77-22 85-22 88-22 86-23 81-22 70-22 56-22 40-22 21-22 4-23-13-22-27-22-38z"/>
<path transform="translate(2544)" d="M-1990 2187l5 55 22 29 22 16 22 1 22-16 23-34 22-50 22-64 22-75 22-83 23-85 22-84 22-78 22-67 22-54 22-37-5 11-22 53-22 68-22 78-22 85-23 87-22 84-22 77-22 66-22 51-22 35-23 17-22-1-22-16-22-30z"/>
<path transform="translate(2549)" d="M-1991 2230l5 47 22 20 22 5 22-12 22-29 23-45 22-60 22-72 22-80 22-85 22-84 23-79 22-69 22-58 22-42 22-25-5 0-22 41-22 58-22 70-22 79-23 85-22 85-22 82-22 74-22 61-23 47-22 29-22 13-22-5-22-19z"/>
<path transform="translate(2553)" d="M-1991 2267l5 39 22 9 22-7 22-24 22-41 22-56 23-69 22-78 22-83 22-84 22-80 22-72 23-60 22-46 22-30 22-13-5-11-22 29-22 45-22 61-23 72-22 81-22 84-22 84-22 79-22 70-23 58-22 41-22 25-22 8-22-8z"/>
<path transform="translate(2557)" d="M-1992 2299l5 29 23-3 22-19 22-37 22-52 22-65 22-75 23-82 22-84 22-81 22-74 22-64 22-50 23-34 22-17 22-1-5-22-22 17-22 33-23 50-22 63-22 74-22 82-22 84-22 83-23 76-22 66-22 53-22 38-22 20-22 4z"/>
<path transform="translate(2561)" d="M-1992 2322l5 20 22-16 23-31 22-48 22-62 22-73 22-80 22-83 23-82 22-76 22-67 22-53 22-39 23-22 22-5 22 11-5-32-22 4-23 21-22 38-22 53-22 66-22 77-22 82-23 84-22 80-22 74-22 63-22 48-22 33-23 16z"/>
<path transform="translate(2566)" d="M-1993 2338l5 9 22-28 23-43 22-58 22-70 22-79 22-82 22-83 23-78 22-69 22-57 22-43 22-26 22-10 23 6 22 21-5-41-22-7-23 9-22 25-22 42-22 57-22 69-23 78-22 83-22 83-22 79-22 70-22 59-23 45-22 28z"/>
<path transform="translate(2570)" d="M-1993 2346l5-3 22-39 22-54 23-67 22-77 22-82 22-83 22-79 22-72 23-61 22-47 22-30 22-15 22 3 22 16 23 29-5-48-23-17-22-3-22 13-22 30-22 46-22 60-23 72-22 79-22 83-22 83-22 76-22 68-23 55-22 40z"/>
<path transform="translate(2574)" d="M-1993 2345l5-13 22-51 22-64 22-74 23-81 22-83 22-81 22-74 22-65 22-50 23-36 22-18 22-2 22 13 22 26 22 35-5-54-22-26-22-14-22 2-22 17-22 35-23 50-22 63-22 74-22 81-22 83-22 81-23 75-22 64-22 51z"/>
<path transform="translate(2579)" d="M-1994 2336l5-24 22-61 22-72 22-79 22-84 23-82 22-76 22-68 22-54 22-40 22-23 23-7 22 10 22 22 22 34 22 40-5-58-22-34-22-23-22-10-22 6-23 22-22 39-22 54-22 67-22 76-22 82-23 82-22 80-22 72-22 62z"/>
<path transform="translate(2583)" d="M-1994 2319l5-34 22-70 22-78 22-83 22-83 23-79 22-70 22-59 22-44 22-27 22-11 23 5 22 20 22 31 22 39 22 42-5-60-22-39-22-31-22-20-23-6-22 10-22 27-22 43-22 58-22 69-23 79-22 82-22 83-22 78-22 70z"/>
<path transform="translate(2587)" d="M-1995 2294l6-43 22-77 22-82 22-84 22-81 22-73 23-62 22-49 22-32 22-15 22 1 22 16 23 29 22 37 22 43 22 43-5-61-22-42-22-37-22-29-23-17-22-2-22 15-22 31-22 48-22 61-23 73-22 80-22 83-22 82-22 77z"/>
<path transform="translate(2592)" d="M-1996 2262l5-50 23-82 22-84 22-83 22-76 22-66 22-53 23-37 22-20 22-3 22 13 22 26 22 36 23 42 22 44 22 41-5-59-22-43-22-42-23-36-22-26-22-13-22 3-22 19-22 36-23 51-22 65-22 75-22 82-22 84-22 81z"/>
<path transform="translate(2596)" d="M-1996 2224l5-56 22-84 23-85 22-79 22-69 22-57 22-42 22-24 23-8 22 9 22 23 22 35 22 41 22 45 23 43 22 37-5-56-22-42-23-44-22-41-22-34-22-23-22-9-22 6-23 24-22 40-22 56-22 69-22 77-22 84-23 84z"/>
<path transform="translate(2600)" d="M-1996 2182l5-60 22-86 22-82 23-73 22-61 22-46 22-30 22-11 22 5 23 20 22 32 22 41 22 45 22 45 23 40 22 30-5-51-23-38-22-43-22-44-22-41-22-32-22-20-23-5-22 11-22 28-22 45-22 60-22 72-23 80-22 85z"/>
<path transform="translate(2605)" d="M-1997 2136l5-62 22-85 22-77 23-65 22-51 22-34 22-17 22 1 22 17 23 31 22 40 22 45 22 46 22 43 22 34 23 22-5-44-23-33-22-40-22-45-22-45-22-39-22-29-23-17-22-2-22 16-22 33-22 49-23 64-22 76-22 82z"/>
<path transform="translate(2609)" d="M-1997 2088l5-63 22-81 22-70 22-55 23-40 22-21 22-3 22 13 22 28 22 39 23 46 22 48 22 45 22 38 22 27 22 12-5-36-22-25-22-36-22-43-22-47-22-44-23-38-22-27-22-14-22 3-22 20-22 38-23 55-22 68-22 78z"/>
<path transform="translate(2613)" d="M-1997 2039l5-62 22-75 22-60 22-45 22-26 23-8 22 10 22 26 22 37 22 47 22 49 23 48 22 42 22 31 22 17 22 0-5-27-22-15-22-29-22-39-22-46-23-47-22-45-22-36-22-25-22-10-22 7-23 25-22 43-22 59-22 73z"/>
<path transform="translate(2618)" d="M-1998 1991l5-60 22-66 22-50 22-32 22-12 22 6 23 23 22 36 22 47 22 51 22 51 22 46 23 36 22 23 22 5 22-13-5-17-22-4-22-20-22-33-23-43-22-48-22-49-22-44-22-35-22-22-23-6-22 11-22 31-22 48-22 64z"/>
<path transform="translate(2622)" d="M-1999 1945l5-57 23-56 22-38 22-17 22 2 22 20 23 36 22 46 22 54 22 54 22 51 22 41 23 28 22 12 22-8 22-27-5-7-22 9-22-9-22-25-23-38-22-47-22-51-22-50-22-44-23-33-22-19-22-2-22 16-22 36-22 54z"/>
<path transform="translate(2625)" d="M-1998 1900l2-17 22-54 22-36 22-16 23 3 22 22 22 37 22 47 22 54 22 55 23 50 22 41 22 28 22 10 22-9 22-29-1 0-22 23-22 3-23-15-22-31-22-43-22-51-22-54-22-51-23-44-22-31-22-16-22 2-22 22-23 41z"/>
<path transform="translate(2630)" d="M-2001 1887l9-53 12-11-9 32z"/>
<path transform="translate(2630)" d="M-1930 1784l21 38 22 53 22 63 22 67 22 66 22 57 22 45 21 16 22-20 22-20-9-30-22-17-22-33-22-45-22-51-22-54-22-51-21-44-22-31-22-16-22 2z"/>
<path transform="translate(2630)" d="M-1676 2117l17-53-10 22-17 23z"/>
<path transform="translate(2636)" d="M-1936 1781l21 53 22 66 21 76 22 77 22 72 21 62 22 27 22-20-6-32-21-35-22-50-22-58-21-62-22-60-22-53-21-41-22-23z"/>
<path transform="translate(2636)" d="M-1678 2116l16-63-6 19-16 44z"/>
<path transform="translate(2640)" d="M-1939 1781l21 55 21 78 21 85 20 85 21 79 21 67 21-10-3-28-21-48-21-60-21-68-20-69-21-66-21-57-21-42z"/>
<path transform="translate(2640)" d="M-1680 2116l16-62-3 3-16 57z"/>
<path transform="translate(2642)" d="M-1937 1779l20 63 21 93 21 99 21 97 21 88 21 17-2-23-21-63-21-74-20-80-21-80-21-73-21-60z"/>
<path transform="translate(2642)" d="M-1678 2113l13-49-2-12-13 56z"/>
<path transform="translate(2643)" d="M-1934 1775l22 79 22 115 21 118 22 112 22 49-1-21-22-82-22-93-21-96-22-93-22-81z"/>
<path transform="translate(2643)" d="M-1674 2109l8-26-1-25-8 44z"/>
<path transform="translate(2643)" d="M-1929 1771l19 78 19 116 19 118 19 115 19 58-1-18-19-86-19-95-19-97-19-94-19-85z"/>
<path transform="translate(2643)" d="M-1669 2105l3-3 0-29-4 23z"/>
<path transform="translate(2644)" d="M-1926 1767l21 107 21 148 21 147 21 94 0-17-21-113-21-121-21-121-21-112z"/>
<path transform="translate(2644)" d="M-1922 1764l19 108 18 149 19 148 18 99 0-15-18-116-19-123-18-122-19-116z"/>
<path transform="translate(2644)" d="M-1975 1836l18 113 19 119 18 119 19 112-1 19-18-115-19-140-18-140-18-110z"/>
<path transform="translate(2644)" d="M-1715 2123l16-128 17-135 16-136 0-8-16 154-17 153-16 124z"/>
<path transform="translate(2644)" d="M-1981 1843l21 110 21 118 21 118 21 108 0 17-21-112-21-139-21-138-21-107z"/>
<path transform="translate(2644)" d="M-1720 2127l18-128 18-136 18-136 0-4-18 155-18 153-19 121z"/>
<path transform="translate(2645)" d="M-1988 1852l19 84 19 93 19 94 19 91 19 82 0 14-19-83-19-108-19-112-20-108-19-74z"/>
<path transform="translate(2645)" d="M-1728 2132l20-129 21-138 21-140-1 1-20 159-21 155-21 119z"/>
<path transform="translate(2645)" d="M-1996 1864l21 80 22 91 22 94 22 89 22 77-1 11-22-82-22-107-22-111-22-107-21-66z"/>
<path transform="translate(2645)" d="M-1736 2136l17-96 18-105 18-109 18-109-1 9-18 123-18 122-18 117-17 79z"/>
<path transform="translate(2647)" d="M-2000 1848l1 62 23 77 23 84 23 85 23 77 23 62-2 7-22-72-23-96-23-101-23-99z"/>
<path transform="translate(2647)" d="M-1750 2144l21-101 21-111 21-116 21-115-2 19-21 131-20 130-21 121-21 77z"/>
<path transform="translate(2649)" d="M-2001 1899l3 74 20 60 19 63 20 62 20 57 19 48 20 35-3 1-20-48-19-65-20-73-20-75-19-74z"/>
<path transform="translate(2649)" d="M-1767 2154l20-84 21-96 20-101 20-103 21-99-3 34-21 115-20 115-20 110-21 100-20 50z"/>
<path transform="translate(2652)" d="M-2002 1958l6 100 19 55 20 54 20 49 20 41 19 29 20 13-5 0-20-38-20-51-19-60-20-66-20-65z"/>
<path transform="translate(2652)" d="M-1793 2172l22-77 21-89 22-97 21-99 22-97 21-88-5 53-22 109-21 111-22 108-21 99-22 85-21 31z"/>
<path transform="translate(2659)" d="M-2004 2037l9 143 20 44 20 37 20 26 19 14 20 0 20-16-10 14-19-18-20-33-20-45-20-53-20-57z"/>
<path transform="translate(2659)" d="M-1840 2218l22-64 22-79 23-88 22-93 22-94 22-87 22-78 23-63-10 64-22 96-22 103-23 104-22 100-22 89-22 75-23 43-22 20z"/>
<path transform="translate(2663)" d="M-2001 2150l1 21 23 50 22 41 22 28 22 12 22-7 22-26 23-46 22-63 22-77 22-88 22-93 22-94 23-89 22-79 22-66-2 8-22 71-22 83-22 92-22 96-22 93-23 86-22 75-22 59-22 40-22 21-22 1-23-18-22-33-22-45z"/>
<path transform="translate(2666)" d="M-2003 2167l5 62 22 40 22 28 23 13 22-6 22-24 22-42 22-60 22-73 23-84 22-90 22-91 22-87 22-78 22-66 23-49-5 16-23 67-22 80-22 90-22 94-22 93-22 87-23 77-22 62-22 45-22 25-22 5-22-13-23-29-22-42z"/>
<path transform="translate(2670)" d="M-2003 2216l5 55 22 30 22 16 22-1 23-19 22-37 22-55 22-69 22-80 23-87 22-89 22-86 22-80 22-68 22-53 23-35-5 4-23 54-22 69-22 81-22 88-22 92-23 90-22 83-22 71-22 56-22 39-22 20-23 1-22-16-22-32z"/>
<path transform="translate(2675)" d="M-2004 2259l5 46 22 19 22 3 22-14 23-32 22-49 22-64 22-76 22-85 22-87 23-86 22-81 22-70 22-56 22-41 22-22-5-7-22 40-22 57-22 71-22 82-22 88-23 90-22 86-22 78-22 67-22 50-23 34-22 15-22-3-22-20z"/>
<path transform="translate(2679)" d="M-2004 2296l5 36 22 7 22-9 22-28 22-44 23-60 22-72 22-81 22-86 22-86 22-81 23-73 22-60 22-44 22-27 22-10-5-17-22 27-22 44-22 60-22 73-23 82-22 88-22 87-22 83-22 74-22 62-23 46-22 28-22 10-22-7z"/>
<path transform="translate(2683)" d="M-2004 2325l5 26 22-6 22-22 22-40 22-55 22-68 23-79 22-84 22-85 22-82 22-75 22-63 23-48 22-31 22-15 22 3-5-28-22 14-22 31-22 48-23 63-22 75-22 83-22 86-22 86-22 80-23 70-22 57-22 40-22 24-22 6z"/>
<path transform="translate(2688)" d="M-2006 2346l5 15 23-18 22-35 22-51 22-64 22-76 22-82 23-85 22-83 22-76 22-65 22-52 23-36 22-20 22-2 22 14-5-37-22 1-22 18-23 36-22 52-22 66-22 76-22 84-22 85-23 84-22 77-22 66-22 52-22 36-22 18z"/>
<path transform="translate(2692)" d="M-2006 2359l5 3 23-30 22-46 22-61 22-73 22-80 22-84 23-83 22-77 22-69 22-55 22-41 22-24 23-6 22 9 22 23-5-45-22-10-22 6-23 23-22 39-22 56-22 68-22 78-23 84-22 85-22 81-22 74-22 62-22 47-23 32z"/>
<path transform="translate(2696)" d="M-2006 2363l5-7 22-42 23-57 22-70 22-78 22-83 22-83 22-79 23-71 22-59 22-45 22-28 22-11 22 5 23 19 22 31-5-51-22-21-23-5-22 10-22 27-22 44-22 59-22 71-23 79-22 84-22 84-22 79-22 70-22 58-23 43z"/>
<path transform="translate(2701)" d="M-2007 2359l5-18 22-53 22-67 23-75 22-82 22-83 22-81 22-73 22-62 23-49 22-32 22-16 22 0 22 16 22 28 23 36-5-56-23-28-22-17-22-1-22 15-22 32-22 48-23 62-22 73-22 80-22 84-22 82-22 77-23 67-22 54z"/>
<path transform="translate(2705)" d="M-2007 2346l5-28 22-63 22-73 22-81 23-83 22-81 22-75 22-66 22-52 22-37 23-21 22-3 22 11 22 25 22 34 23 41-6-59-22-35-22-26-22-12-22 3-22 19-23 37-22 51-22 65-22 76-22 81-22 84-23 80-22 75-22 63z"/>
<path transform="translate(2709)" d="M-2007 2325l5-37 22-71 22-78 22-83 23-82 22-78 22-68 22-56 22-41 22-25 23-8 22 7 22 21 22 33 22 39 22 42-5-60-22-40-22-32-22-22-22-9-23 8-22 24-22 40-22 56-22 68-22 77-23 82-22 83-22 79-22 71z"/>
<path transform="translate(2714)" d="M-2008 2298l5-45 22-77 22-82 22-83 22-79 23-72 22-59 22-46 22-29 22-13 22 4 23 18 22 29 22 38 22 42 22 42-5-59-22-43-22-38-22-30-22-18-23-5-22 12-22 29-22 44-22 59-22 71-23 79-22 83-22 82-22 77z"/>
<path transform="translate(2718)" d="M-2008 2264l5-51 22-82 22-83 22-81 22-73 22-64 23-49 22-34 22-17 22-1 22 14 22 27 23 37 22 41 22 42 22 39-5-56-22-43-22-41-22-37-23-27-22-15-22 0-22 17-22 33-22 48-23 63-22 73-22 80-22 83-22 82z"/>
<path transform="translate(2722)" d="M-2009 2225l5-56 23-84 22-82 22-76 22-66 22-54 22-38 23-22 22-5 22 11 22 24 22 34 22 41 23 43 22 40 22 34-5-52-22-40-22-43-23-40-22-35-22-24-22-12-22 5-22 21-23 37-22 53-22 65-22 76-22 82-22 83z"/>
<path transform="translate(2727)" d="M-2010 2182l5-59 22-83 23-79 22-70 22-57 22-43 22-26 22-10 23 7 22 21 22 33 22 39 22 44 23 42 22 36 22 27-5-46-22-36-23-41-22-43-22-40-22-32-22-21-22-8-23 9-22 25-22 42-22 57-22 69-22 78-23 82z"/>
<path transform="translate(2731)" d="M-2010 2137l5-60 22-81 23-73 22-62 22-47 22-31 22-13 22 2 23 18 22 30 22 39 22 43 22 43 22 39 23 30 22 18-5-38-22-29-23-38-22-43-22-42-22-39-22-30-22-18-23-3-22 13-22 30-22 46-22 61-23 72-22 80z"/>
<path transform="translate(2735)" d="M-2010 2091l5-60 22-76 22-65 23-52 22-35 22-19 22-1 22 14 22 28 23 37 22 43 22 45 22 41 22 33 22 23 23 7-5-29-23-21-22-33-22-40-22-43-22-43-22-37-23-27-22-15-22 1-22 18-22 34-22 51-23 64-22 75z"/>
<path transform="translate(2740)" d="M-2011 2045l5-57 22-69 22-56 22-41 23-23 22-5 22 10 22 25 22 36 22 43 23 46 22 43 22 37 22 26 22 12 22-4-5-20-22-10-22-25-22-36-22-42-22-44-23-42-22-35-22-25-22-11-22 5-22 22-23 39-22 55-22 68z"/>
<path transform="translate(2744)" d="M-2011 2001l5-52 22-61 22-45 22-28 22-10 23 7 22 22 22 34 22 43 22 46 22 45 23 40 22 30 22 17 22 1 22-16-5-9-22 0-22-15-22-29-22-38-23-44-22-45-22-41-22-34-22-22-22-7-23 9-22 27-22 44-22 59z"/>
<path transform="translate(2748)" d="M-2011 1960l5-46 22-50 22-33 22-15 22 3 23 19 22 32 22 42 22 47 22 48 22 43 23 34 22 22 22 6 22-12 22-30-5 3-22 13-22-5-22-20-22-32-23-41-22-46-22-45-22-41-22-32-23-19-22-3-22 14-22 32-22 49z"/>
<path transform="translate(2753)" d="M-2013 1924l6-39 22-38 22-20 22-1 22 16 22 30 23 41 22 48 22 50 22 46 22 39 22 26 23 11 22-6 22-25 22-43-5 13-22 26-22 8-22-9-23-25-22-36-22-44-22-48-22-46-22-39-23-30-22-15-22 1-22 19-22 36z"/>
<path transform="translate(2757)" d="M-2013 1893l5-31 23-24 22-6 22 12 22 29 22 40 22 49 23 52 22 50 22 43 22 31 22 17 22-1 23-20 22-39 22-57-5 25-22 39-22 21-23 3-22-15-22-29-22-40-22-47-22-49-23-46-22-39-22-27-22-12-22 5-22 24z"/>
<path transform="translate(2761)" d="M-2013 1868l5-21 22-10 23 8 22 26 22 40 22 50 22 54 22 54 23 48 22 37 22 23 22 5 22-15 22-35 23-53 22-70-5 36-22 53-23 35-22 15-22-2-22-20-22-34-22-44-23-50-22-51-22-47-22-38-22-24-22-8-23 9z"/>
<path transform="translate(2764)" d="M-2012 1851l2-5 22-9 22 10 22 28 22 41 23 50 22 55 22 54 22 47 22 37 22 21 23 4 22-16 22-36 22-55 22-71-1 13-23 66-22 49-22 30-22 10-22-8-22-26-23-39-22-49-22-53-22-53-22-47-22-37-23-22-22-4z"/>
<path transform="translate(2769)" d="M-1997 1846l22 37 22 53 22 63 21 67 22 66 22 57 22 45 22 17 22-20 22-20-10-31-22-17-22-33-22-45-21-51-22-54-22-51-22-44-22-31-22-16-21 2z"/>
<path transform="translate(2769)" d="M-1742 2178l22-76 23-94 23-107-9 108-23 72-23 55-23 34z"/>
<path transform="translate(2775)" d="M-2003 1842l22 53 21 67 22 75 22 77 21 72 22 62 22 27 21-20-5-31-22-36-21-50-22-58-22-62-21-60-22-53-22-41-21-23z"/>
<path transform="translate(2775)" d="M-1745 2177l23-93 23-111 23-120-6 78-23 97-22 84-23 65z"/>
<path transform="translate(2779)" d="M-2005 1842l20 55 21 78 21 85 21 85 21 79 21 67 20-10-3-28-20-48-21-61-21-67-21-69-21-66-21-57-20-42z"/>
<path transform="translate(2779)" d="M-1746 2177l22-99 23-126 22-133-3 54-22 113-23 103-22 86z"/>
<path transform="translate(2781)" d="M-2004 1840l21 63 21 93 21 99 21 97 20 87 21 18-1-23-21-63-21-75-21-80-21-79-21-73-21-60z"/>
<path transform="translate(2781)" d="M-1744 2174l21-102 22-136 21-141-1 38-22 121-21 115-22 100z"/>
<path transform="translate(2782)" d="M-2000 1836l21 79 22 115 22 118 22 113 21 48-1-21-21-81-22-93-22-97-22-93-21-80z"/>
<path transform="translate(2782)" d="M-1741 2171l21-106 20-142 20-146-1 28-20 126-20 122-21 110z"/>
<path transform="translate(2783)" d="M-1997 1833l19 77 19 116 19 119 19 114 19 58 0-18-19-86-19-94-19-98-19-94-19-85z"/>
<path transform="translate(2783)" d="M-1737 2167l19-108 19-147 18-151 0 24-19 129-19 126-18 117z"/>
<path transform="translate(2783)" d="M-1992 1828l21 108 21 147 21 147 20 94 0-17-21-112-21-122-21-121-20-112z"/>
<path transform="translate(2783)" d="M-1732 2162l17-111 17-150 17-153 0 20-17 132-17 129-17 121z"/>
<path transform="translate(2783)" d="M-1988 1825l19 108 18 149 18 148 19 99 0-15-19-116-18-122-19-123-18-116z"/>
<path transform="translate(2783)" d="M-1728 2158l16-113 16-154 15-157 0 20-15 134-16 132-16 127z"/>
<path transform="translate(2784)" d="M-1938 1802l18 113 19 120 18 119 19 112 0 17-19-114-18-139-19-140-18-111z"/>
<path transform="translate(2784)" d="M-1944 1809l21 110 21 118 21 117 21 108 0 17-21-112-21-139-21-138-21-106z"/>
<path transform="translate(2784)" d="M-1683 2092l2-16 0 39-3 3z"/>
<path transform="translate(2784)" d="M-1950 1818l19 84 19 92 19 94 19 91 19 82 0 14-19-83-19-108-19-112-20-108-19-74z"/>
<path transform="translate(2784)" d="M-1690 2096l10-58-1 46-10 40z"/>
<path transform="translate(2785)" d="M-1959 1829l21 81 22 91 22 94 22 88 22 77-1 11-22-82-22-107-22-111-22-106-21-66z"/>
<path transform="translate(2785)" d="M-1699 2102l18-103-1 47-18 87z"/>
<path transform="translate(2786)" d="M-1971 1846l21 63 21 73 21 78 20 76 21 69 21 56-2 6-20-64-21-85-21-92-21-92-21-84-21-40z"/>
<path transform="translate(2786)" d="M-1712 2108l16-74 16-80-2 54-15 87-16 49z"/>
<path transform="translate(2788)" d="M-1988 1869l21 50 21 60 21 66 20 67 21 62 21 52 21 37-3 2-21-52-21-70-21-78-20-80-21-76-21-66-21-17z"/>
<path transform="translate(2788)" d="M-1729 2119l17-67 16-75 16-81-3 68-16 86-16 77-17 34z"/>
<path transform="translate(2791)" d="M-2016 1848l6 57 21 41 21 52 21 58 22 59 21 55 21 46 22 33 21 16-5-1-22-41-21-57-21-67-22-71-21-69-21-62-21-49z"/>
<path transform="translate(2791)" d="M-1755 2138l19-68 20-79 19-85 19-89-5 93-19 94-20 86-19 74-19 22z"/>
<path transform="translate(2798)" d="M-2019 1887l10 137 21 48 22 51 21 49 21 43 22 32 21 18 22 2 21-16-10 13-21-20-21-37-22-51-21-58-21-62-22-59-21-51z"/>
<path transform="translate(2798)" d="M-1802 2184l21-61 21-73 21-82 21-87 20-88 21-85-9 129-21 97-21 92-21 82-21 68-21 36-21 19z"/>
<path transform="translate(2803)" d="M-2016 1993l1 21 22 51 23 53 22 52 22 44 22 33 22 18 22 0 23-19 22-39 22-57 22-73 22-85 22-91 23-95 22-91-2 19-22 93-22 96-22 91-22 83-23 69-22 53-22 33-22 14-22-6-22-24-23-37-22-49-22-54-22-54z"/>
<path transform="translate(2805)" d="M-2017 2009l5 70 22 50 22 50 22 43 23 32 22 18 22 2 22-18 22-36 22-53 23-69 22-81 22-89 22-91 22-89 22-81-5 52-22 92-22 95-22 91-22 85-22 72-23 56-22 37-22 19-22-2-22-19-22-34-23-46-22-52-22-54z"/>
<path transform="translate(2810)" d="M-2018 2063l5 68 22 48 22 44 22 34 22 21 23 5 22-12 22-31 22-48 22-64 22-77 23-85 22-89 22-88 22-82 22-73-5 44-22 84-22 90-22 92-22 88-23 79-22 66-22 51-22 32-22 13-22-6-23-22-22-35-22-46-22-50z"/>
<path transform="translate(2814)" d="M-2018 2116l5 65 22 43 22 36 22 24 22 10 22-8 23-26 22-43 22-59 22-73 22-82 23-86 22-88 22-83 22-74 22-62-5 33-22 76-22 84-22 89-23 89-22 84-22 75-22 61-22 45-22 27-23 8-22-9-22-25-22-37-22-45z"/>
<path transform="translate(2818)" d="M-2019 2166l6 61 22 37 22 27 22 13 22-4 22-21 23-38 22-54 22-69 22-78 22-85 22-86 23-84 22-76 22-65 22-50-5 23-22 65-22 77-22 84-23 88-22 87-22 80-22 70-22 56-23 40-22 22-22 4-22-13-22-27-22-39z"/>
<path transform="translate(2823)" d="M-2020 2213l5 55 23 30 22 16 22 1 22-17 22-33 22-50 23-64 22-76 22-82 22-86 22-83 22-78 23-67 22-54 22-38-5 11-22 54-22 68-23 78-22 85-22 87-22 84-22 77-22 65-23 52-22 34-22 17-22 0-22-16-22-30z"/>
<path transform="translate(2827)" d="M-2020 2256l5 48 22 20 23 4 22-11 22-29 22-45 22-61 22-72 23-80 22-84 22-84 22-79 22-70 22-57 23-42 22-25-5-1-22 42-23 57-22 70-22 80-22 84-22 86-22 82-23 73-22 61-22 47-22 30-22 12-22-4-23-20z"/>
<path transform="translate(2831)" d="M-2020 2294l5 39 22 9 22-7 23-25 22-40 22-57 22-68 22-78 22-83 23-84 22-80 22-72 22-61 22-46 23-30 22-12-5-12-23 29-22 46-22 60-22 73-22 80-22 85-23 84-22 79-22 70-22 57-22 42-22 25-23 8-22-8z"/>
<path transform="translate(2836)" d="M-2021 2325l5 30 22-3 22-20 23-36 22-52 22-65 22-76 22-82 22-83 23-81 22-75 22-63 22-50 22-34 22-18 23 0-5-22-23 16-22 34-22 49-22 64-22 74-23 81-22 85-22 82-22 77-22 66-22 53-23 37-22 21-22 3z"/>
<path transform="translate(2840)" d="M-2021 2349l5 19 22-15 22-32 22-48 23-61 22-73 22-80 22-83 22-82 22-77 23-66 22-54 22-38 22-22 22-5 22 10-5-32-22 5-22 21-22 37-22 54-22 66-23 76-22 82-22 84-22 81-22 74-22 62-23 49-22 33-22 16z"/>
<path transform="translate(2844)" d="M-2021 2365l5 8 22-27 22-44 22-58 22-70 23-78 22-83 22-82 22-78 22-70 22-57 23-43 22-26 22-10 22 7 22 20-5-40-22-7-22 8-22 26-22 42-23 57-22 69-22 78-22 82-22 83-22 79-23 71-22 59-22 44-22 28z"/>
<path transform="translate(2849)" d="M-2022 2373l5-3 22-39 22-55 22-67 22-76 22-82 23-83 22-80 22-72 22-60 22-47 22-31 23-14 22 2 22 17 22 29-5-48-22-18-22-3-22 14-23 30-22 46-22 60-22 72-22 79-22 83-23 82-22 77-22 68-22 55-22 40z"/>
<path transform="translate(2853)" d="M-2023 2372l5-14 23-50 22-64 22-75 22-81 22-83 22-80 23-75 22-64 22-51 22-35 22-19 23-2 22 13 22 26 22 35-5-53-22-27-22-13-23 1-22 18-22 34-22 50-22 64-22 74-23 80-22 84-22 81-22 74-22 65-22 51z"/>
<path transform="translate(2857)" d="M-2023 2362l5-24 23-60 22-72 22-80 22-83 22-82 22-77 23-67 22-55 22-40 22-23 22-6 22 9 23 23 22 33 22 40-5-57-22-34-22-23-23-10-22 5-22 23-22 39-22 53-22 67-23 76-22 82-22 83-22 80-22 72-23 61z"/>
<path transform="translate(2862)" d="M-2024 2345l5-34 22-69 23-78 22-83 22-83 22-79 22-71 22-58 23-44 22-28 22-11 22 6 22 19 22 31 23 39 22 43-5-60-22-39-23-32-22-20-22-5-22 10-22 26-22 43-23 58-22 70-22 78-22 83-22 82-22 79-23 69z"/>
<path transform="translate(2866)" d="M-2024 2320l5-42 22-77 22-82 23-84 22-81 22-74 22-62 22-48 22-32 23-16 22 1 22 17 22 28 22 38 22 42 23 43-5-60-23-42-22-38-22-29-22-16-22-2-22 15-23 31-22 47-22 62-22 72-22 80-22 83-23 83-22 76z"/>
<path transform="translate(2870)" d="M-2024 2288l5-50 22-81 22-85 22-82 23-77 22-66 22-52 22-37 22-20 22-3 23 13 22 26 22 36 22 42 22 44 23 41-6-60-22-43-22-41-22-36-22-26-22-13-23 2-22 19-22 36-22 52-22 64-22 76-23 81-22 84-22 82z"/>
<path transform="translate(2875)" d="M-2025 2251l5-56 22-85 22-84 22-79 23-70 22-57 22-41 22-25 22-7 22 9 23 23 22 34 22 42 22 44 22 43 22 37-5-56-22-42-22-43-22-41-22-34-22-23-23-10-22 7-22 24-22 40-22 56-23 68-22 78-22 83-22 84z"/>
<path transform="translate(2879)" d="M-2025 2208l5-60 22-85 22-82 22-73 22-62 23-46 22-29 22-12 22 5 22 20 22 33 23 41 22 45 22 44 22 40 22 30-5-50-22-39-22-43-22-44-22-40-23-32-22-20-22-6-22 11-22 29-22 45-23 59-22 72-22 81-22 84z"/>
<path transform="translate(2883)" d="M-2025 2163l5-63 22-84 22-77 22-66 22-51 22-34 23-16 22 1 22 17 22 30 22 40 22 46 23 46 22 42 22 34 22 22-5-44-22-32-22-41-22-45-23-44-22-39-22-30-22-17-22-1-22 15-23 33-22 50-22 64-22 75-22 83z"/>
<path transform="translate(2887)" d="M-2026 2115l5-64 23-80 22-70 22-56 22-39 22-21 22-4 23 14 22 28 22 39 22 46 22 48 22 45 23 38 22 26 22 12-5-36-22-25-22-36-23-43-22-46-22-44-22-38-22-28-22-13-23 3-22 20-22 38-22 54-22 68-22 79z"/>
<path transform="translate(2892)" d="M-2027 2066l5-63 22-74 23-61 22-44 22-27 22-7 22 10 23 25 22 38 22 46 22 50 22 48 22 42 23 31 22 17 22 0-5-27-22-15-23-29-22-40-22-45-22-48-22-44-22-37-23-25-22-9-22 7-22 25-22 43-22 59-23 72z"/>
<path transform="translate(2896)" d="M-2027 2018l5-61 22-66 23-50 22-31 22-13 22 6 22 23 22 37 23 46 22 52 22 51 22 46 22 36 22 22 23 6 22-13-5-17-22-4-23-20-22-33-22-44-22-48-22-49-22-44-23-35-22-22-22-6-22 12-22 30-23 48-22 64z"/>
<path transform="translate(2900)" d="M-2027 1971l5-57 22-56 22-37 23-18 22 2 22 21 22 35 22 47 22 53 23 55 22 50 22 42 22 28 22 11 22-7 23-28-5-6-23 9-22-9-22-25-22-39-22-46-22-51-23-50-22-44-22-34-22-19-22-2-22 17-23 36-22 53z"/>
<path transform="translate(2903)" d="M-2026 1927l1-17 23-55 22-36 22-16 22 4 22 21 22 37 23 48 22 54 22 54 22 51 22 41 22 27 23 10 22-9 22-29-2 0-22 23-22 4-22-15-22-31-22-43-23-51-22-54-22-51-22-44-22-32-22-16-23 2-22 22-22 42z"/>
<path transform="translate(2908)" d="M-2030 1914l10-54 12-11-10 32z"/>
<path transform="translate(2908)" d="M-1959 1811l22 38 22 53 22 62 22 68 21 65 22 58 22 45 22 16 22-20 22-20-10-30-22-18-22-33-21-44-22-52-22-54-22-51-22-43-22-32-22-16-21 3z"/>
<path transform="translate(2908)" d="M-1704 2143l16-52-9 21-17 23z"/>
<path transform="translate(2914)" d="M-1965 1808l22 52 21 67 22 75 22 77 21 73 22 61 22 28 21-20-5-32-22-36-21-49-22-59-22-62-21-60-22-53-22-41-21-22z"/>
<path transform="translate(2914)" d="M-1707 2143l16-63-5 19-16 43z"/>
<path transform="translate(2918)" d="M-1967 1808l20 55 21 77 21 85 21 85 21 80 21 67 20-11-3-27-20-49-21-60-21-68-21-69-21-66-20-56-21-43z"/>
<path transform="translate(2918)" d="M-1708 2142l15-62-3 4-15 57z"/>
<path transform="translate(2920)" d="M-1966 1805l21 63 21 93 21 99 21 97 21 88 21 18-2-24-21-62-21-75-21-80-21-79-21-73-21-60z"/>
<path transform="translate(2920)" d="M-1706 2140l12-49-2-12-12 56z"/>
<path transform="translate(2921)" d="M-1962 1802l21 78 22 115 22 119 22 112 21 48-1-20-21-82-22-93-22-97-22-92-21-81z"/>
<path transform="translate(2921)" d="M-1703 2136l9-27-1-24-9 43z"/>
<path transform="translate(2922)" d="M-1959 1798l19 77 19 116 19 119 19 114 19 59 0-19-19-86-19-94-19-97-19-95-19-85z"/>
<path transform="translate(2922)" d="M-1699 2132l4-4-1-28-3 22z"/>
<path transform="translate(2922)" d="M-1954 1794l21 107 21 148 21 146 20 94 0-17-21-112-21-121-21-122-20-112z"/>
<path transform="translate(2922)" d="M-1950 1790l19 109 18 148 18 149 19 99 0-16-19-116-18-122-19-123-18-116z"/>
<path transform="translate(2923)" d="M-2005 1863l19 112 18 120 19 119 18 112 0 18-19-114-18-140-18-140-19-110z"/>
<path transform="translate(2923)" d="M-1744 2150l16-129 16-135 17-136-1-7-16 154-16 153-16 123z"/>
<path transform="translate(2923)" d="M-2010 1870l21 110 21 118 21 117 21 109-1 16-21-112-20-138-21-139-21-106z"/>
<path transform="translate(2923)" d="M-1750 2153l18-128 19-135 18-137 0-4-19 155-18 153-18 122z"/>
<path transform="translate(2923)" d="M-2016 1879l19 84 19 92 19 95 19 91 19 81-1 14-19-83-19-108-19-111-19-108-19-75z"/>
<path transform="translate(2923)" d="M-1757 2158l21-128 21-138 20-140 0 1-21 158-20 156-21 118z"/>
<path transform="translate(2924)" d="M-2026 1890l22 81 22 91 22 94 21 89 22 76-1 11-22-82-21-107-22-111-22-106-22-66z"/>
<path transform="translate(2924)" d="M-1766 2163l18-97 18-105 17-108 18-109-1 8-18 124-17 122-18 116-18 80z"/>
<path transform="translate(2925)" d="M-2029 1875l2 62 23 76 23 85 23 85 23 77 23 62-2 6-23-71-23-96-23-102-23-98z"/>
<path transform="translate(2925)" d="M-1778 2170l21-100 21-111 21-117 21-115-2 19-21 131-21 130-21 122-21 76z"/>
<path transform="translate(2927)" d="M-2029 1925l3 75 19 59 20 63 19 63 20 57 20 48 19 34-3 2-19-48-20-65-19-73-20-76-20-73z"/>
<path transform="translate(2927)" d="M-1795 2181l20-85 20-95 21-102 20-103 20-99-3 35-20 114-20 116-21 110-20 100-20 50z"/>
<path transform="translate(2931)" d="M-2031 1985l5 99 20 55 20 54 19 49 20 41 20 29 20 14-6-1-19-38-20-51-20-60-20-65-19-65z"/>
<path transform="translate(2931)" d="M-1822 2199l21-77 22-90 21-97 22-99 21-96 22-88-5 53-22 108-21 111-22 108-22 100-21 85-22 30z"/>
<path transform="translate(2937)" d="M-2033 2064l10 143 19 43 20 37 20 27 20 14 20 0 20-16-10 13-20-17-20-34-19-45-20-52-20-57z"/>
<path transform="translate(2937)" d="M-1869 2245l23-65 22-78 22-89 22-93 23-93 22-88 22-77 22-64-9 65-23 95-22 103-22 105-22 99-22 90-23 74-22 43-22 20z"/>
<path transform="translate(2942)" d="M-2031 2177l2 21 22 50 22 41 23 28 22 12 22-7 22-27 22-45 22-63 23-78 22-88 22-93 22-93 22-89 22-80 23-65-2 8-22 70-22 84-23 92-22 95-22 93-22 87-22 74-22 59-23 41-22 20-22 1-22-17-22-33-22-46z"/>
<path transform="translate(2945)" d="M-2032 2193l5 63 22 40 22 28 22 12 22-5 23-24 22-43 22-59 22-74 22-84 22-90 23-91 22-87 22-78 22-65 22-49-5 16-22 66-22 81-22 89-22 94-23 94-22 87-22 77-22 62-22 44-23 25-22 6-22-13-22-29-22-42z"/>
<path transform="translate(2949)" d="M-2032 2242l5 55 22 30 22 16 22-1 22-19 22-37 23-54 22-69 22-80 22-87 22-89 22-87 23-79 22-68 22-53 22-36-5 5-22 53-22 69-22 81-23 89-22 92-22 89-22 83-22 71-22 57-23 38-22 20-22 1-22-16-22-31z"/>
<path transform="translate(2953)" d="M-2033 2286l5 46 22 18 22 4 22-13 21-30 22-47 22-62 22-74 22-81 21-86 22-85 22-81 22-71 21-59 22-43 22-27 4-9-3-2-22 40-22 57-23 71-22 81-22 89-22 89-22 87-22 78-23 66-22 51-22 33-22 15-22-3-22-19z"/>
<path transform="translate(2958)" d="M-2034 2322l5 36 23 8 22-11 23-28 22-46 23-62 23-74 22-84 23-88 22-87 23-81 22-72 23-57 22-42 23-23 9-21-22 28-22 46-22 61-22 74-22 82-22 87-22 87-22 82-22 72-22 61-22 44-22 28-22 10-22-8z"/>
<path transform="translate(2962)" d="M-2034 2351l5 26 22-5 22-21 21-39 22-53 22-66 22-77 22-82 21-84 22-81 22-75 22-64 21-50 22-35 22-18 9-21-23 25-23 44-22 60-23 74-23 83-23 89-22 88-23 84-23 74-23 60-23 43-22 25-23 7z"/>
<path transform="translate(2966)" d="M-2034 2372l5 15 23-18 22-36 23-53 23-67 22-77 23-85 22-86 23-84 23-76 22-65 23-49 22-33 23-15 9-21-22 20-22 36-22 53-22 66-22 77-22 83-22 85-22 83-22 76-22 65-22 51-22 36-22 18z"/>
<path transform="translate(2971)" d="M-2035 2385l5 4 22-30 21-45 22-59 22-71 22-78 22-83 21-81 22-78 22-69 22-56 22-43 21-27 22-10 9-21-23 16-23 35-22 52-23 67-23 78-23 86-23 87-23 85-23 78-23 65-22 50-23 33z"/>
<path transform="translate(2975)" d="M-2035 2389l5-7 22-43 23-59 23-72 23-80 22-85 23-85 23-80 22-71 23-58 23-41 23-25 22-7 9-22-22 12-22 28-22 45-22 59-22 71-22 79-22 84-22 83-22 78-22 70-22 57-22 43z"/>
<path transform="translate(2979)" d="M-2035 2385l5-18 21-52 22-65 22-74 22-80 22-82 21-80 22-73 22-62 22-50 22-35 22-18 21-3 9-22-23 8-23 27-23 44-23 60-23 73-23 82-23 86-22 86-23 81-23 70-23 57z"/>
<path transform="translate(2984)" d="M-2037 2372l6-28 22-64 23-76 23-83 23-86 23-83 22-76 23-65 23-51 23-34 23-16 22 1 9-23-22 4-22 20-22 37-22 52-22 65-22 75-22 81-22 83-22 81-22 74-22 63z"/>
<path transform="translate(2988)" d="M-2037 2352l5-37 22-70 22-77 22-82 22-81 22-76 21-69 22-56 22-42 22-27 22-11 21 5 9-23-23 0-23 18-23 36-23 53-23 68-23 78-23 85-23 87-23 83-24 75z"/>
<path transform="translate(2992)" d="M-2037 2324l5-45 23-80 23-85 23-85 23-81 23-72 23-59 23-44 23-26 23-8 23 9 9-24-23-4-22 12-22 29-22 45-22 59-22 71-22 78-22 83-23 82-22 77z"/>
<path transform="translate(2996)" d="M-2037 2290l5-51 22-80 22-82 22-80 22-73 21-63 22-50 22-35 22-19 22-2 22 12 9-25-24-7-23 10-23 28-23 46-24 62-23 75-23 83-23 87-24 85z"/>
<path transform="translate(3001)" d="M-2038 2252l5-57 23-86 23-86 23-78 23-68 23-53 23-36 23-18 24 0 23 16 9-25-23-11-22 4-22 21-22 38-22 52-22 66-23 76-22 81-22 83z"/>
<path transform="translate(3005)" d="M-2038 2209l5-59 22-82 22-78 21-69 22-58 22-43 22-27 22-11 22 5 22 20 9-26-21-15-21-1-22 14-21 30-21 43-21 57-21 67-21 75-21 79z"/>
<path transform="translate(3009)" d="M-2038 2164l5-61 23-84 23-76 24-63 23-47 23-28 23-10 24 8 23 24 9-27-22-18-23-4-22 13-22 30-22 46-23 61-22 72-22 80z"/>
<path transform="translate(3014)" d="M-2039 2117l5-59 22-75 21-65 22-52 22-36 22-19 22-2 22 13 22 26 9-27-21-21-21-9-21 6-21 22-21 36-21 50-21 63-21 72z"/>
<path transform="translate(3018)" d="M-2040 2071l5-56 21-65 21-53 20-41 21-25 20-11 21 4 20 18 21 28 9-28-22-26-23-11-22 4-22 22-23 39-22 55-22 68z"/>
<path transform="translate(3022)" d="M-2040 2027l5-52 22-60 22-45 22-28 22-11 22 7 22 21 22 33 9-29-21-27-21-16-21-3-21 13-21 29-21 43-21 57z"/>
<path transform="translate(3027)" d="M-2041 1987l5-47 21-46 20-33 20-17 21-1 20 12 21 25 20 34 9-29-22-33-23-19-22-4-23 13-22 32-22 49z"/>
<path transform="translate(3031)" d="M-2041 1950l5-39 22-38 22-19 22-2 22 15 22 30 22 41 9-30-21-35-21-23-20-11-21 4-21 20-21 36z"/>
<path transform="translate(3035)" d="M-2041 1919l5-30 20-24 20-7 21 8 20 21 20 33 20 42 9-31-22-41-23-28-22-13-23 4-23 24z"/>
<path transform="translate(3040)" d="M-2042 1895l5-22 22-10 22 9 22 26 22 39 22 49 9-32-20-41-21-32-21-20-21-5-20 11z"/>
<path transform="translate(3043)" d="M-2041 1877l1-4 22-10 22 10 22 27 22 40 22 49 2-10-22-49-23-39-23-23-23-6z"/>
<path transform="translate(3047)" d="M-2025 1872l18 31 19 43 18 51 19 56 9-35 8-31-20-46-20-38-20-26-21-13-20 3z"/>
<path transform="translate(3054)" d="M-2032 1869l23 56 23 72 22 80 10-41-21-57-21-51-21-39-21-21z"/>
<path transform="translate(3057)" d="M-2034 1869l22 57 21 80 21 87 6-26-18-59-19-55-18-47-18-37z"/>
<path transform="translate(3059)" d="M-2032 1866l19 58 20 87 20 92 3-17-22-80-21-74-21-61z"/>
<path transform="translate(3060)" d="M-2029 1863l18 59 18 92 18 97 1-12-18-83-19-78-19-68z"/>
<path transform="translate(3061)" d="M-2025 1859l16 60 16 97 16 100 1-9-17-84-16-81-17-74z"/>
<path transform="translate(3061)" d="M-2021 1855l22 113 22 153 0-7-22-129-22-119z"/>
<path transform="translate(3062)" d="M-2017 1851l19 117 20 157 0-6-20-131-20-124z"/>
<path transform="translate(3063)" d="M-1988 1855l5 17 2-44-8-3z"/>
<path transform="translate(3064)" d="M-1999 1872l12 38 3-46-17-28z"/>
<path transform="translate(3066)" d="M-2016 1895l23 56 5-50-16-46-15-3z"/>
<path transform="translate(3070)" d="M-2045 1875l5 57 17 32 17 39 10-61-16-43-17-33z"/>
<path transform="translate(3076)" d="M-2047 1913l9 137 11 25 9-40 9-44-19-44z"/>
<path transform="translate(3081)" d="M-2045 2019l2 22 13 28 2-12z"/>
<path transform="translate(3084)" d="M-2047 2036l5 69 9-38z"/>
<path transform="translate(3087)" d="M-2046 2090l1 15 2-8z"/></g></g>
<g><path d="M124 1182.3L521.2 1224.5" stroke="#262626" stroke-width="1.0"/><path d="M521.2 1224.5L627.9 1065.8" stroke="#262626" stroke-width="1.0"/><path d="M124 1182.3L124 896.2" stroke="#262626" stroke-width="1.0"/><path d="M124 1182.3L118.5 1190.5" stroke="#262626" stroke-width="1.0"/><path d="M322.6 1203.4L317.1 1211.6" stroke="#262626" stroke-width="1.0"/><path d="M521.2 1224.5L515.7 1232.7" stroke="#262626" stroke-width="1.0"/><path d="M521.2 1224.5L531.1 1225.5" stroke="#262626" stroke-width="1.0"/><path d="M574.6 1145.1L584.5 1146.2" stroke="#262626" stroke-width="1.0"/><path d="M627.9 1065.8L637.8 1066.8" stroke="#262626" stroke-width="1.0"/><path d="M124 1117.4L113.7 1116.3" stroke="#262626" stroke-width="1.0"/><path d="M124 1037.7L113.7 1036.6" stroke="#262626" stroke-width="1.0"/><path d="M124 958L113.7 956.9" stroke="#262626" stroke-width="1.0"/></g>
<defs><linearGradient id="cba" x1="0" y1="0" x2="0" y2="1"><stop offset="0%" stop-color="#800000"/><stop offset="12.5%" stop-color="#ff0000"/><stop offset="37.5%" stop-color="#ffff00"/><stop offset="62.5%" stop-color="#00ffff"/><stop offset="87.5%" stop-color="#0000ff"/><stop offset="100%" stop-color="#000080"/></linearGradient></defs>
<rect x="682.7" y="59.6" width="31" height="490.2" fill="url(#cba)" stroke="#262626" stroke-width="1"/>
<path d="M708.7 549.8L713.7 549.8" stroke="#262626" stroke-width="1.0"/>
<path d="M708.7 427.2L713.7 427.2" stroke="#262626" stroke-width="1.0"/>
<path d="M708.7 304.7L713.7 304.7" stroke="#262626" stroke-width="1.0"/>
<path d="M708.7 182.1L713.7 182.1" stroke="#262626" stroke-width="1.0"/>
<path d="M708.7 59.6L713.7 59.6" stroke="#262626" stroke-width="1.0"/>
<defs><linearGradient id="cbb" x1="0" y1="0" x2="0" y2="1"><stop offset="0%" stop-color="#800000"/><stop offset="12.5%" stop-color="#ff0000"/><stop offset="37.5%" stop-color="#ffff00"/><stop offset="62.5%" stop-color="#00ffff"/><stop offset="87.5%" stop-color="#0000ff"/><stop offset="100%" stop-color="#000080"/></linearGradient></defs>
<rect x="1585" y="45.4" width="31.2" height="485.8" fill="url(#cbb)" stroke="#262626" stroke-width="1"/>
<path d="M1611.2 422.6L1616.2 422.6" stroke="#262626" stroke-width="1.0"/>
<path d="M1611.2 287.6L1616.2 287.6" stroke="#262626" stroke-width="1.0"/>
<path d="M1611.2 152.6L1616.2 152.6" stroke="#262626" stroke-width="1.0"/>
<defs><linearGradient id="cbc" x1="0" y1="0" x2="0" y2="1"><stop offset="0%" stop-color="#800000"/><stop offset="12.5%" stop-color="#ff0000"/><stop offset="37.5%" stop-color="#ffff00"/><stop offset="62.5%" stop-color="#00ffff"/><stop offset="87.5%" stop-color="#0000ff"/><stop offset="100%" stop-color="#000080"/></linearGradient></defs>
<rect x="682.6" y="736.2" width="31.4" height="486.4" fill="url(#cbc)" stroke="#262626" stroke-width="1"/>
<path d="M709 1114.8L714 1114.8" stroke="#262626" stroke-width="1.0"/>
<path d="M709 979.3L714 979.3" stroke="#262626" stroke-width="1.0"/>
<path d="M709 843.8L714 843.8" stroke="#262626" stroke-width="1.0"/>
<clipPath id="dclip"><rect x="1031.5" y="713.6" width="670.5" height="501.7"/></clipPath>
<path d="M1199.1 713.6V1215.3M1366.8 713.6V1215.3M1534.4 713.6V1215.3M1031.5 1131.7H1702M1031.5 1048.1H1702M1031.5 964.5H1702M1031.5 880.8H1702M1031.5 797.2H1702" stroke="#dfdfdf" stroke-width="1" fill="none"/>
<g clip-path="url(#dclip)" stroke-linejoin="round"><path d="M1031.5 900.9l4.5 -10.9 3.4 -13.1 2.5 -16.9 1.7 -20.5 1 -23 0.6 -30.2 0.9 -122.7 0.7 117.4 1.3 50.8 1.3 20.6 2 17.3 2.7 13.6 3.4 10.8 3 6.7 3.4 5.5 3.8 4.8 4.5 4.2 5.1 3.5 5.7 2.7 6 1.8 6.4 0.9 6.5 0 6.4 -0.9 6.2 -1.8 5.7 -2.8 5.2 -3.5 4.5 -4.3 4 -5.1 3.4 -5.8 4.3 -10.9 3.2 -12.8 2.4 -15.8 1.6 -20.1 1.2 -27.6 0.7 -34.7 0.7 -114.5 0.6 113.3 1.4 53.8 1.3 21.1 1.7 15.2 2.3 13.3 2.9 10.4 2.3 6.1 2.7 5.4 3.2 5 3.5 4.2 4 3.8 4.4 3 4.9 2.6 5.1 1.8 5.7 1.3 6.1 0.4 5.9 -0.3 5.8 -1.1 5.5 -1.8 5.1 -2.5 4.7 -3.2 4.2 -3.9 3.6 -4.5 3.4 -5.3 2.9 -5.9 2.3 -6.5 2.2 -8 1.7 -8.4 2.5 -20.3 1.5 -24.2 1 -35.5 1 -129.3 0.5 108.7 1.2 53.2 1.1 21.4 1.5 15.9 2.2 14 2.9 11.6 2.2 6.2 2.3 5.3 2.7 4.7 3.2 4.5 3.5 3.8 3.8 3.3 4.2 2.7 4.6 2.2 5.2 1.7 5.3 1.1 5.6 0.4 5.5 -0.2 5.3 -1 5.2 -1.5 4.9 -2.2 4.5 -2.9 4.7 -3.9 4.2 -4.8 3.7 -5.7 3 -6.2 2.7 -7.5 2.2 -8.3 1.7 -8.9 1.5 -11.3 1.8 -23.5 1.2 -32.5 0.7 -49 0.5 -91.3 0.5 103.6 1.1 57 1.2 22 1.5 16.1 2 13.4 2.7 11.4 4.2 11.3 5.2 8.9 3.2 3.8 3.5 3.4 3.9 2.9 4.1 2.4 4.7 2 5.1 1.5 5.2 0.8 5.2 0.2 5.2 -0.4 5.2 -1 4.8 -1.5 4.7 -2.2 5.5 -3.6 4.9 -4.5 4.2 -5.3 3.7 -6.5 3 -7.2 2.5 -8.3 2 -9.3 1.7 -11.2 2 -23 1.4 -34.2 0.6 -44.7 0.5 -97.8 0.7 113.9 1 45.3 1 20.2 1.5 17.4 2 14.1 2.5 11.2 3.9 11.1 5 9.2 3 3.9 3.2 3.4 3.7 3 3.9 2.5 4.3 2.2 4.7 1.6 5.1 1.2 5 0.5 5.2 -0.1 5 -0.6 4.9 -1.2 4.7 -1.7 5.8 -3.2 5.4 -4.2 4.7 -5.1 4 -6.2 3.4 -7.1 2.8 -8.4 2.2 -9.1 1.8 -11.1 2.4 -25.1 1.3 -32.9 0.7 -41.1 0.7 -103.6 0.5 109.3 1 48.4 1 20.8 1.3 16.3 1.9 13.8 2.5 12 3.7 11.3 4.7 9.1 5.8 7.5 3.5 3.2 3.7 2.6 4.2 2.3 4.5 1.8 4.7 1.3 5.1 0.8 5 0.2 5 -0.3 4.9 -0.9 4.7 -1.4 6.4 -3 5.7 -4 5 -5 4.3 -6.1 3.6 -6.9 3 -8.3 2.3 -9.1 2 -11.5 2.4 -23.3 1.5 -34.2 0.8 -56.3 0.5 -90.4 0.9 129.3 1 35.5 1.8 27.8 2.9 20.4 1.8 8.1 2.2 7.1 2.7 6.6 3 5.6 3.5 5 4.2 4.5" stroke="#000" stroke-width="4" fill="none"/><path d="M1031.5 862.6l1.8 12.3 2.2 9.9 2.9 8.9 3.3 7.4 4 6.4 4.9 5.5 5.5 4.4 6.4 3.4 7.9 2.5 8.4 1 8.4 -0.6 8 -2.2 7.2 -3.5 6.2 -4.8 5.4 -6.1 4.3 -7.2 4.4 -10.9 3.2 -13 2.3 -16 1.7 -20.4 1 -22.9 0.7 -29.9 0.8 -123.2 0.5 102 1.4 62.3 1.1 20.3 1.7 16.6 2.4 14.1 3 11.3 2.3 6.3 2.7 5.4 3 4.8 3.4 4.2 3.8 3.7 4.4 3.2 4.7 2.6 5 1.9 5.5 1.3 5.9 0.7 5.9 -0.2 5.7 -0.9 5.5 -1.6 5 -2.2 4.7 -3 4.4 -3.6 4 -4.5 3.5 -5.2 3 -5.9 2.6 -6.5 2.1 -7.5 1.9 -8.7 2.7 -20.6 1.5 -22.8 1 -31.9 1 -135.6 0.6 112.6 1.2 50.4 1.2 20.9 1.5 15.6 2.2 13.9 2.7 10.9 4.3 11.4 2.7 4.8 2.9 4.1 3.3 3.9 3.7 3.3 4 2.8 4.5 2.4 5.1 1.8 5.2 1.2 5.3 0.6 5.4 0 5.4 -0.7 5.2 -1.4 4.8 -1.9 4.5 -2.5 5.1 -3.8 4.5 -4.7 3.9 -5.5 3.3 -6.4 2.7 -7 2.3 -8.3 2 -10.1 1.6 -10.9 2 -25.5 1.1 -33.7 1.2 -138.2 0.5 108 1.2 53.7 1 19.1 1.5 16.8 2 13.8 2.5 11 4.1 11.4 5 8.9 3 3.9 3.4 3.4 3.6 3 4.1 2.5 4.5 2.1 4.7 1.6 5 1 5.2 0.5 5.2 -0.2 5.2 -0.7 4.9 -1.3 4.7 -1.9 5.7 -3.3 5.2 -4.4 4.5 -5.2 3.8 -6.1 3.2 -7 2.7 -8.1 2.2 -9.3 1.8 -11.3 2.4 -26 1.3 -35.4 0.7 -48.2 0.5 -92.3 0.5 102.8 1.2 57.5 1 19.7 1.3 15.7 1.9 13.5 2.5 11.8 3.7 11.1 4.8 9.3 2.9 3.9 3.1 3.6 3.6 3.1 3.7 2.5 4.1 2.3 4.6 1.7 4.8 1.3 4.9 0.7 5 0.2 5.1 -0.4 4.8 -1 4.7 -1.4 6.2 -3 5.7 -4.1 5 -5.1 4.2 -6 3.5 -6.9 2.9 -7.8 2.3 -9.1 2.1 -11.2 2.5 -25.3 1.5 -36.6 0.6 -44.2 0.6 -98.6 0.6 113.2 1 45.7 1 20.3 1.4 16 1.8 13.7 2.4 11.2 3.5 11 4.7 9.4 5.7 7.5 3.3 3.1 3.6 2.6 4 2.4 4.3 1.9 4.6 1.4 4.8 0.9 4.9 0.4 4.8 -0.2 4.9 -0.7 4.7 -1.2 6.7 -2.7 6 -3.9 5.2 -4.9 4.6 -5.9 3.6 -6.8 3.2 -8.2 2.5 -9.3 2.1 -10.7 1.5 -12 1.1 -14 1.5 -35.3 0.7 -40.6 0.7 -104.3 0.3 90.3 0.9 56.4 1.6 36.6 1.2 12.9 1.7 12.3 2.2 10.7 2.8 9.6 3.4 7.8 4.2 6.9 5 5.8 5.7 4.5 6.7 3.6 7.2 2.2" stroke="#000" stroke-width="4" fill="none" stroke-dasharray="12.5 12.5"/><path d="M1031.5 912.9l4.4 3.6 4.7 2.9 5 2.3 5.5 1.6 5.9 0.8 5.8 0.2 5.9 -0.7 5.5 -1.4 5.1 -2 4.7 -2.6 4.2 -3.1 3.8 -3.7 3.5 -4.5 3 -4.9 2.7 -5.6 2.2 -5.9 3 -11.6 2.2 -13.1 1.7 -16.4 1.2 -19.9 1.3 -58.8 0.5 -106.5 0.8 120.2 1.4 48.8 1.3 20.2 1.7 14.9 2.3 12.9 3.2 11.3 2.5 6.2 3.1 5.7 3.3 4.8 3.9 4.2 4.3 3.7 4.9 3 5.2 2.3 5.7 1.6 6.2 0.8 6.2 0 6 -0.9 5.9 -1.6 5.4 -2.4 5 -3.3 4.5 -3.9 3.9 -4.5 3.1 -4.9 2.7 -5.2 2.5 -6.5 2.1 -6.7 3.1 -16.3 2.2 -20.7 1.4 -25.4 0.8 -34.6 0.8 -123.7 0.7 116.3 1.2 47.8 1.2 20.4 1.6 16.7 2.2 13.3 3 11.6 2.2 6 2.5 5.3 2.9 4.8 3.3 4.3 3.7 3.8 4 3.1 4.6 2.7 4.8 2.1 5.4 1.5 5.7 0.9 5.7 0.1 5.7 -0.7 5.3 -1.2 5.2 -2 4.9 -2.7 4.4 -3.2 4.3 -4.4 3.7 -4.8 3.2 -5.6 2.8 -6.6 2.4 -7.3 2 -8.6 2.9 -19.7 1.8 -26.2 1 -31.7 1 -136 0.7 112 1.1 50.9 1.2 20.9 1.5 15.7 2 13 2.7 11.3 2 6 2.4 5.5 2.7 5 2.8 4.1 3.2 3.7 3.7 3.4 4 2.9 4.4 2.3 4.8 1.9 5.2 1.3 5.4 0.7 5.5 0 5.4 -0.6 5.2 -1.3 5 -1.9 4.5 -2.5 5.1 -3.7 4.5 -4.6 3.8 -5.3 3.4 -6.2 2.8 -7.2 2.4 -8.2 2 -9.7 1.5 -10.5 2 -23.8 1.4 -36.6 1.1 -138.5 0.5 107.3 1.2 54.2 1 19.2 1.5 16.9 2 13.7 2.6 11.1 4 11.4 2.5 4.9 2.7 4.3 3 3.8 3.5 3.5 3.7 3 4 2.4 4.7 2.2 4.9 1.5 5 0.9 5.2 0.4 5.2 -0.2 5.2 -0.9 4.9 -1.4 4.7 -1.9 5.7 -3.5 5.1 -4.5 4.4 -5.3 3.9 -6.4 3.1 -7.3 2.6 -8 2.1 -9.8 1.7 -10.8 2.2 -24.7 1.3 -35.1 0.7 -47.7 0.5 -93.2 0.5 102 1.2 58.2 1 19.7 1.5 17.2 1.8 13 2.6 11.5 3.8 11.3 4.9 9 2.8 3.9 3.2 3.4 3.5 3 3.9 2.6 4.3 2.3 4.6 1.7 4.8 1.2 5.1 0.6 5.2 0.1 5 -0.5 4.8 -1.1 4.7 -1.6 6.2 -3.2 5.6 -4.2 4.8 -5.2 4.1 -6 3.3 -6.9 2.9 -8.1 2.3 -9.5 1.8 -10.8 2.4 -24 1.5 -36.5 0.7 -43.6 0.5 -99.5 0.6 112.6 1.1 46.1 1 20.4 1.1 14.4 1.7 13.3 2.4 12 3.3 11 4.2 9.1 5.2 7.4 6.4 6 3.7 2.5 4 2.1 8.7 2.8 9.4 1 9.2 -1" stroke="#000" stroke-width="4" fill="none" stroke-dasharray="3.5 3.5"/><path d="M1031.5 1165.5l3.9 12.6 3 7.2 1.5 2.4 1.5 1.5 1.5 0.7 1.5 -0.4 1.7 -1.4 1.7 -2.5 3.5 -9 3.5 -13.4 3.7 -18.5 6.5 -41.1 15.3 -109.9 3.7 -23.1 3.5 -18.8 3.2 -13.8 3.2 -10.1 3 -6 1.5 -1.6 1.5 -0.7 1.3 0.2 1.4 1 2.7 4.3 2.6 7.4 2.7 10.3 2.9 14.1 2.8 17.2 5.7 43.2 5 49.1 3.2 43.6 1.5 40.3 0.5 48.6 0.2 -248.7 0.3 41.7 1.2 29.7 3 38.3 4.6 41 5 34.9 4.9 24.1 2.5 8.7 2.3 5.8 2.4 3.3 1.1 0.8 1.4 0.2 1.5 -0.8 1.5 -1.6 3 -6.2 3 -9.7 3.2 -13.6 3.5 -18.8 3.7 -23 15.3 -109.4 6.7 -41.8 3.8 -18.7 3.6 -12.8 3.5 -8.1 1.6 -2.1 1.7 -0.9 2.2 0.5 2.2 2.6 2.2 4.5 2.3 7.2 3.9 16.4 6.2 35.6 1.1 4.1 0.7 -10.2 0.2 -44 0.1 271.6 0.5 -30.9 0.6 -6.5 0.6 -2.2 0.7 0.3 0.8 1.9 4.6 14.7 2.5 6.6 2.3 4.2 2.4 2.1 1.3 0.1 1.3 -0.5 1.4 -1.2 1.5 -2.3 2.7 -6.3 2.8 -9.6 4.4 -20.1 4.7 -27.6 16.6 -118.7 6.7 -41.7 3.7 -17.9 3.5 -12.9 3.3 -7.9 1.7 -2.3 1.7 -1.1 1.5 0 1.5 1 2.9 4.6 2.8 7.9 3 12.1 3 15.7 3.1 19.1 6.2 49.6 4.7 49.3 2.6 42.2 1.2 42.5 0.3 57.2 0.2 -252.4 0.5 32.2 1.7 32.1 3.5 39.5 4.7 39.3 4.7 30.3 4.5 20.8 2.4 7.5 2.2 4.9 2.1 2.8 2.2 0.8 1.5 -0.7 1.5 -1.6 3 -6 3.2 -10.2 3.2 -13.7 3.5 -18.9 3.7 -23 15.1 -108.3 6.7 -41.9 3.7 -18.1 3.5 -13.1 3.4 -8.2 1.7 -2.4 1.6 -1.3 1.2 -0.2 1.2 0.4 2.2 2.3 2.3 4.8 2.3 7 4.1 17.1 6 34.7 1.2 4.6 0.5 -2 0.3 -13.2 0.2 271.2 0.3 -60 0.4 -10.6 0.6 -6.5 0.7 -1.1 1 1.6 5.4 17 3.1 7.4 1.6 2.3 1.5 1.3 1.5 0.5 1.3 -0.4 1.4 -1.1 1.5 -2.1 3 -7 3 -10.3 3.2 -14.3 3.3 -18.3 3.7 -23.4 14.8 -106.4 6.5 -41.4 3.7 -18.7 3.4 -13.1 3.3 -8.9 1.7 -2.8 1.5 -1.5 1.7 -0.6 1.6 0.6 1.6 1.6 1.6 2.9 3.2 8.7 3.4 13.8 3.5 19.2 3.5 23.7 3.5 28.2 3.4 31.4 3.8 45.9 2 40.2 0.9 53.3 0.2 76.2 0.1 -288.3 0.7 30.2 1.7 28.7 3.3 36.9 4.4 36.8 4.3 28.8 4.2 20.7 2.2 7.9 2 5.5 2 3.8 2 2 1.7 0.4 1.7 -0.9 1.7 -2 1.6 -3.1 3.4 -9.7 3.5 -14.4 3.7 -19.4 3.9 -23.9 15 -108.2 6.8 -42.1 3.6 -18.2 3.6 -13.3 3.3 -8.3 1.7 -2.5 1.7 -1.4 1.1 -0.2 1.2 0.4 2.2 2.2 2.3 4.6 2.4 6.9 4 17 6.2 35.6 1.2 4.3 0.7 -7.8 0.1 -18.1 0.2 253.6 0.5 -40.1 0.5 -7.3 0.7 -2.5 0.6 0.3 0.9 1.7 6.7 20.6 2.2 4.3 2.1 2.4 1.4 0.6 1.2 -0.1 2.5 -2 2.5 -4.6 2.7 -7.6 4 -16.2 4.2 -22.3 4.5 -28.9 5.7 -40.8" stroke="#00f" stroke-width="4" fill="none"/><path d="M1031.5 904.6l4 45.4 6.9 64.2 6.7 56.3 5.9 42.4 4.7 27 4.5 18.9 2.2 6.3 2.1 4.4 2.2 2.4 2 0.5 1.7 -0.9 1.9 -2.3 3.5 -8.3 3.7 -13.7 3.8 -19.3 7.1 -45.3 13.2 -100.3 5.5 -38.7 5.1 -30 8.3 -40.8 2.4 -15 1.7 -20.9 1 -32.1 0.8 -141.2 0.3 85.6 0.7 53.8 1.4 35.6 2.1 25.4 12.3 83.7 16.6 127.6 7.3 49 4.6 23 4.2 15 2.1 5.2 2.1 3 2 1.4 2 -0.3 2 -2 2 -3.7 4 -12.2 4.2 -19.1 4.4 -25.8 4.8 -34.6 5.9 -47.1 10.1 -86.5 4.5 -43.1 2.8 -37.5 1.7 -43.9 0.7 -44.9 0.5 -107.6 0.5 124.8 0.8 52.4 1.9 44.6 3.7 47.8 5.3 52.7 7.1 62 5.5 43.4 5 33.4 4.5 23.3 4.4 15.5 2.2 5 2 2.8 2 1.1 2.2 -0.7 1.7 -1.9 1.6 -3 3.4 -9.4 3.3 -13.5 3.7 -19.2 6.6 -42.6 13 -99 5.7 -39.9 4.9 -29 8.5 -41.7 2.4 -15.3 1.7 -21.5 1 -34.4 0.8 -137.7 0.4 94.2 0.6 47.9 1.2 31 2.2 26.3 2.3 18 10.1 67.1 16.4 126.4 7.4 49.2 4.5 23.1 4.4 15.7 2.1 5.1 2.1 3 2 1.3 2 -0.3 1.8 -1.8 2 -3.6 2 -5.3 2.1 -6.8 4.1 -18.9 4.4 -25.7 4.9 -34.5 5.7 -45.6 10 -86.4 4.7 -44.3 2.9 -36.9 1.6 -41.4 0.9 -56.4 0.5 -100.4 0.3 110.8 0.9 62.2 1.8 47 3.5 46.6 5 50 7.1 62.6 5.5 44.1 5.1 34.1 4.5 24.3 4.2 16 2.1 5.6 2.1 3.5 2.1 1.9 2 -0.1 1.7 -1.3 1.7 -2.5 3.5 -8.9 3.5 -13.6 3.9 -19.6 6.9 -44.6 13 -99.1 5.6 -38.7 5.7 -33.7 8.2 -39.8 2 -13.7 1.5 -19 1 -30.5 0.9 -143.6 1 137.3 1.3 36.9 2.2 25.8 12.4 85 16.4 126.3 7.2 48.2 4.5 23.3 4.2 15.3 2 5 2.1 3.4 2 1.7 2 0 2 -1.7 2 -3.3 2 -5 2 -6.6 4.2 -18.6 4.5 -26.4 4.9 -34.4 5.9 -46.9 10 -86.4 4.7 -44.5 2.9 -37.2 1.6 -42.8 0.9 -62.5 0.3 -91.9 0.5 119.2 0.7 49.2 1.7 46.6 2.8 40.9 4 42.2 6.4 58.5 5.9 49.1 5 37 4.4 26.7 4 19.1 3.8 12.6 2.1 4.3 1.8 2.4" stroke="#f00" stroke-width="4" fill="none"/><path d="M1113.4 1215.3V713.6M1132.4 1215.3V713.6M1151.4 1215.3V713.6M1237.7 1215.3V713.6M1324 1215.3V713.6M1343 1215.3V713.6M1448.3 1215.3V713.6M1467.3 1215.3V713.6M1553.7 1215.3V713.6M1640 1215.3V713.6M1659 1215.3V713.6M1678 1215.3V713.6" stroke="#808080" stroke-width="3.8" stroke-dasharray="11.7 13" fill="none"/></g>
<rect x="1031.5" y="713.6" width="670.5" height="501.7" fill="none" stroke="#262626" stroke-width="1"/>
<path d="M1031.5 1215.3v-6.7M1031.5 713.6v6.7M1199.1 1215.3v-6.7M1199.1 713.6v6.7M1366.8 1215.3v-6.7M1366.8 713.6v6.7M1534.4 1215.3v-6.7M1534.4 713.6v6.7M1702 1215.3v-6.7M1702 713.6v6.7M1031.5 1215.3h6.7M1702 1215.3h-6.7M1031.5 1131.7h6.7M1702 1131.7h-6.7M1031.5 1048.1h6.7M1702 1048.1h-6.7M1031.5 964.5h6.7M1702 964.5h-6.7M1031.5 880.8h6.7M1702 880.8h-6.7M1031.5 797.2h6.7M1702 797.2h-6.7M1031.5 713.6h6.7M1702 713.6h-6.7" stroke="#262626" stroke-width="1" fill="none"/>
<g font-family="'Liberation Sans', Arial, Helvetica, sans-serif" fill="#262626"><text x="1021" y="1227.3" font-size="34.5" text-anchor="end">-1</text><text x="1021" y="1143.7" font-size="34.5" text-anchor="end">-0.5</text><text x="1021" y="1060.1" font-size="34.5" text-anchor="end">0</text><text x="1021" y="976.5" font-size="34.5" text-anchor="end">0.5</text><text x="1021" y="892.8" font-size="34.5" text-anchor="end">1</text><text x="1021" y="809.2" font-size="34.5" text-anchor="end">1.5</text><text x="1021" y="725.6" font-size="34.5" text-anchor="end">2</text><text x="1031.5" y="1260.8" font-size="34.5" text-anchor="middle">-10</text><text x="1199.1" y="1260.8" font-size="34.5" text-anchor="middle">-5</text><text x="1366.8" y="1260.8" font-size="34.5" text-anchor="middle">0</text><text x="1534.4" y="1260.8" font-size="34.5" text-anchor="middle">5</text><text x="1702" y="1260.8" font-size="34.5" text-anchor="middle">10</text></g>
<text x="1366.5" y="1302" font-family="'Liberation Serif', 'Times New Roman', serif" font-size="35" text-anchor="middle"><tspan font-style="italic">x</tspan></text>
<rect x="1048.6" y="1013.6" width="252" height="186.8" fill="#fff" stroke="#262626" stroke-width="1"/>
<path d="M1054.9 1033.7H1116.1" stroke="#000" stroke-width="4.2"/>
<path d="M1054.9 1069.8H1116.1" stroke="#000" stroke-width="4.2" stroke-dasharray="12.6 12.6"/>
<path d="M1054.9 1106.6H1116.1" stroke="#000" stroke-width="4.2" stroke-dasharray="3.5 3.5"/>
<path d="M1054.9 1143.1H1116.1" stroke="#00f" stroke-width="4.2"/>
<path d="M1054.9 1179.3H1116.1" stroke="#f00" stroke-width="4.2"/>
<text x="1123.2" y="1042.3" font-family="'Liberation Serif', 'Times New Roman', serif" font-size="31" textLength="120.9" lengthAdjust="spacingAndGlyphs">|<tspan font-style="italic">U</tspan><tspan font-size="21.7" dy="8.4">5</tspan><tspan font-size="27.9" dx="-9.9" dy="-17.7">+</tspan><tspan dx="-0.6" dy="9.3">(<tspan font-style="italic">x</tspan>, 1)|</tspan></text>
<text x="1123.2" y="1078.4" font-family="'Liberation Serif', 'Times New Roman', serif" font-size="31" textLength="120.9" lengthAdjust="spacingAndGlyphs">|<tspan font-style="italic">U</tspan><tspan font-size="21.7" dy="8.4">5</tspan><tspan font-size="27.9" dx="-9.9" dy="-17.7">+</tspan><tspan dx="-0.6" dy="9.3">(<tspan font-style="italic">x</tspan>, 5)|</tspan></text>
<text x="1123.2" y="1115.2" font-family="'Liberation Serif', 'Times New Roman', serif" font-size="31" textLength="120.9" lengthAdjust="spacingAndGlyphs">|<tspan font-style="italic">U</tspan><tspan font-size="21.7" dy="8.4">5</tspan><tspan font-size="27.9" dx="-9.9" dy="-17.7">+</tspan><tspan dx="-0.6" dy="9.3">(<tspan font-style="italic">x</tspan>, 9)|</tspan></text>
<text x="1123.2" y="1151.7" font-family="'Liberation Serif', 'Times New Roman', serif" font-size="31" textLength="171.2" lengthAdjust="spacingAndGlyphs"><tspan font-style="italic">Im</tspan>(<tspan font-style="italic">U</tspan><tspan font-size="21.7" dy="8.4">5</tspan><tspan font-size="27.9" dx="-9.9" dy="-17.7">+</tspan><tspan dx="-0.6" dy="9.3">(<tspan font-style="italic">x</tspan>, 5))</tspan></text>
<text x="1123.2" y="1187.9" font-family="'Liberation Serif', 'Times New Roman', serif" font-size="31" textLength="166.4" lengthAdjust="spacingAndGlyphs"><tspan font-style="italic">Re</tspan>(<tspan font-style="italic">U</tspan><tspan font-size="21.7" dy="8.4">5</tspan><tspan font-size="27.9" dx="-9.9" dy="-17.7">+</tspan><tspan dx="-0.6" dy="9.3">(<tspan font-style="italic">x</tspan>, 5))</tspan></text>
<g font-family="'Liberation Sans', Arial, Helvetica, sans-serif" fill="#262626"><text x="70.8" y="504.2" font-size="30" text-anchor="end">0</text><text x="70.8" y="393.8" font-size="30" text-anchor="end">1</text><text x="70.8" y="283.4" font-size="30" text-anchor="end">2</text><text x="82.4" y="544.2" font-size="30" text-anchor="end">-10</text><text x="188.2" y="558.5" font-size="30" text-anchor="end">-5</text><text x="294" y="572.8" font-size="30" text-anchor="end">0</text><text x="399.8" y="587.1" font-size="30" text-anchor="end">5</text><text x="505.6" y="601.4" font-size="30" text-anchor="end">10</text><text x="534.7" y="584.9" font-size="30">0</text><text x="591.7" y="478.6" font-size="30">0.5</text><text x="648.6" y="372.3" font-size="30">1</text><text x="306" y="615" font-family="'Liberation Serif', 'Times New Roman', serif" font-size="35" text-anchor="middle"><tspan font-style="italic">x</tspan></text><text x="641" y="576.4" font-family="'Liberation Serif', 'Times New Roman', serif" font-size="35" text-anchor="middle"><tspan font-style="italic">t</tspan></text><text font-family="'Liberation Serif', 'Times New Roman', serif" font-size="35" text-anchor="middle" transform="translate(37.5 383.6) rotate(-90)" textLength="134" lengthAdjust="spacingAndGlyphs">|<tspan font-style="italic">U</tspan><tspan font-size="24.5" dy="9.5">5</tspan><tspan font-size="31.5" dx="-11.2" dy="-20">+</tspan><tspan dx="-0.7" dy="10.5">(<tspan font-style="italic">x</tspan>, <tspan font-style="italic">t</tspan>)|</tspan></text><text x="722.5" y="560.2" font-size="30">0</text><text x="722.5" y="437.7" font-size="30">0.5</text><text x="722.5" y="315.1" font-size="30">1</text><text x="722.5" y="192.5" font-size="30">1.5</text><text x="722.5" y="70" font-size="30">2</text><text x="1005" y="436.2" font-size="30" text-anchor="end">-0.5</text><text x="1005" y="357" font-size="30" text-anchor="end">0</text><text x="1005" y="277.8" font-size="30" text-anchor="end">0.5</text><text x="1015.2" y="538.5" font-size="30" text-anchor="end">-10</text><text x="1213.5" y="559.7" font-size="30" text-anchor="end">0</text><text x="1411.8" y="581" font-size="30" text-anchor="end">10</text><text x="1442.4" y="566.1" font-size="30">0</text><text x="1495.2" y="486.6" font-size="30">0.5</text><text x="1548.1" y="407.1" font-size="30">1</text><text x="1222.7" y="599.5" font-family="'Liberation Serif', 'Times New Roman', serif" font-size="35" text-anchor="middle"><tspan font-style="italic">x</tspan></text><text x="1547.8" y="571.3" font-family="'Liberation Serif', 'Times New Roman', serif" font-size="35" text-anchor="middle"><tspan font-style="italic">t</tspan></text><text font-family="'Liberation Serif', 'Times New Roman', serif" font-size="35" text-anchor="middle" transform="translate(934.4 348.1) rotate(-90)" textLength="187.6" lengthAdjust="spacingAndGlyphs"><tspan font-style="italic">Re</tspan>(<tspan font-style="italic">U</tspan><tspan font-size="24.5" dy="9.5">5</tspan><tspan font-size="31.5" dx="-11.2" dy="-20">+</tspan><tspan dx="-0.7" dy="10.5">(<tspan font-style="italic">x</tspan>, <tspan font-style="italic">t</tspan>))</tspan></text><text x="1625" y="433.5" font-size="30">-0.5</text><text x="1625" y="298.1" font-size="30">0</text><text x="1625" y="163.5" font-size="30">0.5</text><text x="103" y="1127.8" font-size="30" text-anchor="end">-0.5</text><text x="103" y="1048.1" font-size="30" text-anchor="end">0</text><text x="103" y="968.4" font-size="30" text-anchor="end">0.5</text><text x="113" y="1229.7" font-size="30" text-anchor="end">-10</text><text x="311.6" y="1250.8" font-size="30" text-anchor="end">0</text><text x="510.2" y="1271.9" font-size="30" text-anchor="end">10</text><text x="541.4" y="1257.4" font-size="30">0</text><text x="594.8" y="1178" font-size="30">0.5</text><text x="648.1" y="1098.7" font-size="30">1</text><text x="320" y="1290.4" font-family="'Liberation Serif', 'Times New Roman', serif" font-size="35" text-anchor="middle"><tspan font-style="italic">x</tspan></text><text x="645.5" y="1261.3" font-family="'Liberation Serif', 'Times New Roman', serif" font-size="35" text-anchor="middle"><tspan font-style="italic">t</tspan></text><text font-family="'Liberation Serif', 'Times New Roman', serif" font-size="35" text-anchor="middle" transform="translate(34.5 1039.2) rotate(-90)" textLength="193.3" lengthAdjust="spacingAndGlyphs"><tspan font-style="italic">Im</tspan>(<tspan font-style="italic">U</tspan><tspan font-size="24.5" dy="9.5">5</tspan><tspan font-size="31.5" dx="-11.2" dy="-20">+</tspan><tspan dx="-0.7" dy="10.5">(<tspan font-style="italic">x</tspan>, <tspan font-style="italic">t</tspan>))</tspan></text><text x="723" y="1125.1" font-size="30">-0.5</text><text x="723" y="989.6" font-size="30">0</text><text x="723" y="854.2" font-size="30">0.5</text><text x="321.6" y="676.3" font-family="'Liberation Serif', 'Times New Roman', serif" font-size="29" textLength="176.8" lengthAdjust="spacingAndGlyphs">(a) |<tspan font-style="italic">U</tspan><tspan font-size="20.3" dy="7.8">5</tspan><tspan font-size="26.1" dx="-9.3" dy="-16.5">+</tspan><tspan dx="-0.6" dy="8.7">(<tspan font-style="italic">x</tspan>, <tspan font-style="italic">t</tspan>)|</tspan></text><text x="1190.5" y="667.8" font-family="'Liberation Serif', 'Times New Roman', serif" font-size="29" textLength="88.6" lengthAdjust="spacingAndGlyphs">(b) <tspan font-style="italic">Re</tspan></text><text font-family="'Liberation Serif', 'Times New Roman', serif" font-size="29" transform="translate(1287.6 675.4) scale(1 2.09)" textLength="14.5" lengthAdjust="spacingAndGlyphs">(</text><text x="1303.2" y="667.8" font-family="'Liberation Serif', 'Times New Roman', serif" font-size="29" textLength="110.4" lengthAdjust="spacingAndGlyphs"><tspan font-style="italic">U</tspan><tspan font-size="20.3" dy="7.8">5</tspan><tspan font-size="26.1" dx="-9.3" dy="-16.5">+</tspan><tspan dx="-0.6" dy="8.7">(<tspan font-style="italic">x</tspan>, <tspan font-style="italic">t</tspan>)</tspan></text><text font-family="'Liberation Serif', 'Times New Roman', serif" font-size="29" transform="translate(1416.8 675.4) scale(1 2.09)" textLength="13.8" lengthAdjust="spacingAndGlyphs">)</text><text x="288" y="1357.7" font-family="'Liberation Serif', 'Times New Roman', serif" font-size="29" textLength="91.1" lengthAdjust="spacingAndGlyphs">(c) <tspan font-style="italic">Im</tspan></text><text font-family="'Liberation Serif', 'Times New Roman', serif" font-size="29" transform="translate(388.1 1365.3) scale(1 2.09)" textLength="13.4" lengthAdjust="spacingAndGlyphs">(</text><text x="402.6" y="1357.7" font-family="'Liberation Serif', 'Times New Roman', serif" font-size="29" textLength="110" lengthAdjust="spacingAndGlyphs"><tspan font-style="italic">U</tspan><tspan font-size="20.3" dy="7.8">5</tspan><tspan font-size="26.1" dx="-9.3" dy="-16.5">+</tspan><tspan dx="-0.6" dy="8.7">(<tspan font-style="italic">x</tspan>, <tspan font-style="italic">t</tspan>)</tspan></text><text font-family="'Liberation Serif', 'Times New Roman', serif" font-size="29" transform="translate(515.3 1365.3) scale(1 2.09)" textLength="14.1" lengthAdjust="spacingAndGlyphs">)</text><text x="1000.3" y="1358.2" font-family="'Liberation Serif', 'Times New Roman', serif" font-size="29" textLength="205.1" lengthAdjust="spacingAndGlyphs">(d) |<tspan font-style="italic">U</tspan><tspan font-size="20.3" dy="7.8">5</tspan><tspan font-size="26.1" dx="-9.3" dy="-16.5">+</tspan><tspan dx="-0.6" dy="8.7">(<tspan font-style="italic">x</tspan>, <tspan font-style="italic">t</tspan><tspan font-size="20" dy="5"><tspan font-style="italic">f</tspan></tspan><tspan dy="-5">)|,</tspan></tspan></text><text x="1213" y="1358.2" font-family="'Liberation Serif', 'Times New Roman', serif" font-size="29" textLength="42.3" lengthAdjust="spacingAndGlyphs"><tspan font-style="italic">Im</tspan></text><text font-family="'Liberation Serif', 'Times New Roman', serif" font-size="29" transform="translate(1258.3 1365.8) scale(1 2.09)" textLength="15.7" lengthAdjust="spacingAndGlyphs">(</text><text x="1280.1" y="1358.2" font-family="'Liberation Serif', 'Times New Roman', serif" font-size="29" textLength="115.7" lengthAdjust="spacingAndGlyphs"><tspan font-style="italic">U</tspan><tspan font-size="20.3" dy="7.8">5</tspan><tspan font-size="26.1" dx="-9.3" dy="-16.5">+</tspan><tspan dx="-0.6" dy="8.7">(<tspan font-style="italic">x</tspan>, 5)</tspan></text><text font-family="'Liberation Serif', 'Times New Roman', serif" font-size="29" transform="translate(1396.8 1365.8) scale(1 2.09)" textLength="15.6" lengthAdjust="spacingAndGlyphs">)</text><text x="1426.7" y="1358.2" font-family="'Liberation Serif', 'Times New Roman', serif" font-size="29" textLength="49.4" lengthAdjust="spacingAndGlyphs">and</text><text x="1488.8" y="1358.2" font-family="'Liberation Serif', 'Times New Roman', serif" font-size="29" textLength="36.2" lengthAdjust="spacingAndGlyphs"><tspan font-style="italic">Re</tspan></text><text font-family="'Liberation Serif', 'Times New Roman', serif" font-size="29" transform="translate(1534.2 1365.8) scale(1 2.09)" textLength="16.6" lengthAdjust="spacingAndGlyphs">(</text><text x="1550.8" y="1358.2" font-family="'Liberation Serif', 'Times New Roman', serif" font-size="29" textLength="113.6" lengthAdjust="spacingAndGlyphs"><tspan font-style="italic">U</tspan><tspan font-size="20.3" dy="7.8">5</tspan><tspan font-size="26.1" dx="-9.3" dy="-16.5">+</tspan><tspan dx="-0.6" dy="8.7">(<tspan font-style="italic">x</tspan>, 5)</tspan></text><text font-family="'Liberation Serif', 'Times New Roman', serif" font-size="29" transform="translate(1666.4 1365.8) scale(1 2.09)" textLength="15.7" lengthAdjust="spacingAndGlyphs">)</text></g>
</svg></body></html>
